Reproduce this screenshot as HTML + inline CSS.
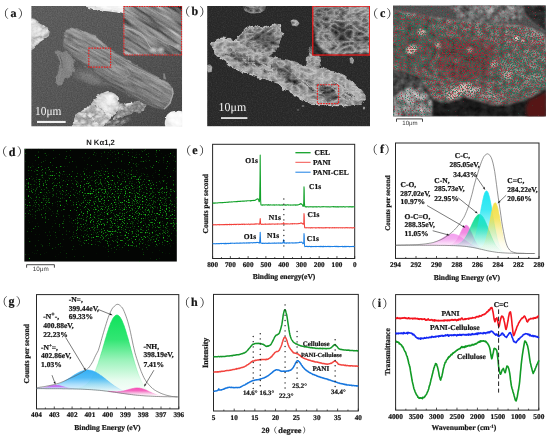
<!DOCTYPE html>
<html><head><meta charset="utf-8"><title>Figure</title><style>html,body{margin:0;padding:0;background:#fff}svg{display:block}text{text-rendering:geometricPrecision}</style></head><body>
<svg width="550" height="438" viewBox="0 0 550 438">
<rect width="550" height="438" fill="#fff"/>
<defs><linearGradient id="pk1" gradientUnits="userSpaceOnUse" x1="0" y1="233.99" x2="0" y2="250.27"><stop offset="0" stop-color="#f3a0ee"/><stop offset="0.3" stop-color="#f3a0ee" stop-opacity="0.86"/><stop offset="0.55" stop-color="#f3a0ee" stop-opacity="0.42"/><stop offset="0.8" stop-color="#f3a0ee" stop-opacity="0.1"/><stop offset="1" stop-color="#f3a0ee" stop-opacity="0"/></linearGradient>
<linearGradient id="pk2" gradientUnits="userSpaceOnUse" x1="0" y1="225.3" x2="0" y2="250.16"><stop offset="0" stop-color="#f07ade"/><stop offset="0.3" stop-color="#f07ade" stop-opacity="0.86"/><stop offset="0.55" stop-color="#f07ade" stop-opacity="0.42"/><stop offset="0.8" stop-color="#f07ade" stop-opacity="0.1"/><stop offset="1" stop-color="#f07ade" stop-opacity="0"/></linearGradient>
<linearGradient id="pk3" gradientUnits="userSpaceOnUse" x1="0" y1="214.36" x2="0" y2="253.17"><stop offset="0" stop-color="#0fdc96"/><stop offset="0.3" stop-color="#0fdc96" stop-opacity="0.86"/><stop offset="0.55" stop-color="#0fdc96" stop-opacity="0.42"/><stop offset="0.8" stop-color="#0fdc96" stop-opacity="0.1"/><stop offset="1" stop-color="#0fdc96" stop-opacity="0"/></linearGradient>
<linearGradient id="pk4" gradientUnits="userSpaceOnUse" x1="0" y1="190.96" x2="0" y2="253.13"><stop offset="0" stop-color="#1fe6f2"/><stop offset="0.3" stop-color="#1fe6f2" stop-opacity="0.86"/><stop offset="0.55" stop-color="#1fe6f2" stop-opacity="0.42"/><stop offset="0.8" stop-color="#1fe6f2" stop-opacity="0.1"/><stop offset="1" stop-color="#1fe6f2" stop-opacity="0"/></linearGradient>
<linearGradient id="pk5" gradientUnits="userSpaceOnUse" x1="0" y1="202.68" x2="0" y2="253.29"><stop offset="0" stop-color="#f3e04a"/><stop offset="0.3" stop-color="#f3e04a" stop-opacity="0.86"/><stop offset="0.55" stop-color="#f3e04a" stop-opacity="0.42"/><stop offset="0.8" stop-color="#f3e04a" stop-opacity="0.1"/><stop offset="1" stop-color="#f3e04a" stop-opacity="0"/></linearGradient>
<linearGradient id="pg3" gradientUnits="userSpaceOnUse" x1="0" y1="315.02" x2="0" y2="396.69"><stop offset="0" stop-color="#10e25c"/><stop offset="0.3" stop-color="#10e25c" stop-opacity="0.86"/><stop offset="0.55" stop-color="#10e25c" stop-opacity="0.42"/><stop offset="0.8" stop-color="#10e25c" stop-opacity="0.1"/><stop offset="1" stop-color="#10e25c" stop-opacity="0"/></linearGradient>
<linearGradient id="pg2" gradientUnits="userSpaceOnUse" x1="0" y1="370.09" x2="0" y2="395.78"><stop offset="0" stop-color="#34b0f6"/><stop offset="0.3" stop-color="#34b0f6" stop-opacity="0.86"/><stop offset="0.55" stop-color="#34b0f6" stop-opacity="0.42"/><stop offset="0.8" stop-color="#34b0f6" stop-opacity="0.1"/><stop offset="1" stop-color="#34b0f6" stop-opacity="0"/></linearGradient>
<linearGradient id="pg1" gradientUnits="userSpaceOnUse" x1="0" y1="385.3" x2="0" y2="388.97"><stop offset="0" stop-color="#c45af0"/><stop offset="0.3" stop-color="#c45af0" stop-opacity="0.86"/><stop offset="0.55" stop-color="#c45af0" stop-opacity="0.42"/><stop offset="0.8" stop-color="#c45af0" stop-opacity="0.1"/><stop offset="1" stop-color="#c45af0" stop-opacity="0"/></linearGradient>
<linearGradient id="pg4" gradientUnits="userSpaceOnUse" x1="0" y1="388.02" x2="0" y2="396.77"><stop offset="0" stop-color="#f54fb6"/><stop offset="0.3" stop-color="#f54fb6" stop-opacity="0.86"/><stop offset="0.55" stop-color="#f54fb6" stop-opacity="0.42"/><stop offset="0.8" stop-color="#f54fb6" stop-opacity="0.1"/><stop offset="1" stop-color="#f54fb6" stop-opacity="0"/></linearGradient><filter id="b03" x="-30%" y="-30%" width="160%" height="160%"><feGaussianBlur stdDeviation="0.3"/></filter>
<filter id="b05" x="-30%" y="-30%" width="160%" height="160%"><feGaussianBlur stdDeviation="0.5"/></filter>
<filter id="b08" x="-30%" y="-30%" width="160%" height="160%"><feGaussianBlur stdDeviation="0.8"/></filter>
<filter id="b1" x="-30%" y="-30%" width="160%" height="160%"><feGaussianBlur stdDeviation="1.0"/></filter>
<filter id="b15" x="-30%" y="-30%" width="160%" height="160%"><feGaussianBlur stdDeviation="1.5"/></filter>
<filter id="b2" x="-30%" y="-30%" width="160%" height="160%"><feGaussianBlur stdDeviation="2.0"/></filter>
<filter id="b3" x="-30%" y="-30%" width="160%" height="160%"><feGaussianBlur stdDeviation="3.0"/></filter>
<filter id="b5" x="-30%" y="-30%" width="160%" height="160%"><feGaussianBlur stdDeviation="5.0"/></filter>
<filter id="b8" x="-30%" y="-30%" width="160%" height="160%"><feGaussianBlur stdDeviation="8.0"/></filter>
<filter id="texA" x="0" y="0" width="100%" height="100%" color-interpolation-filters="sRGB">
<feTurbulence type="fractalNoise" baseFrequency="0.4" numOctaves="2" seed="4" result="n"/>
<feColorMatrix in="n" type="matrix" values="0.55 0 0 0 0.225 0.55 0 0 0 0.225 0.55 0 0 0 0.225 0 0 0 0 1" result="g"/>
<feBlend in="g" in2="SourceGraphic" mode="soft-light" result="o"/>
<feComposite in="o" in2="SourceGraphic" operator="in"/></filter>
<filter id="texB" x="0" y="0" width="100%" height="100%" color-interpolation-filters="sRGB">
<feTurbulence type="fractalNoise" baseFrequency="0.45" numOctaves="4" seed="9" result="n"/>
<feColorMatrix in="n" type="matrix" values="2.4 0 0 0 -0.7 2.4 0 0 0 -0.7 2.4 0 0 0 -0.7 0 0 0 0 1" result="g"/>
<feBlend in="g" in2="SourceGraphic" mode="overlay" result="o"/>
<feComposite in="o" in2="SourceGraphic" operator="in"/></filter>
<clipPath id="ca"><rect x="31.2" y="5.9" width="151.0" height="120.69999999999999"/></clipPath>
<linearGradient id="abg" x1="0" y1="0" x2="1" y2="1"><stop offset="0" stop-color="#5e5e5e"/><stop offset="0.5" stop-color="#565656"/><stop offset="1" stop-color="#464646"/></linearGradient>
<filter id="roughA" x="-5%" y="-5%" width="110%" height="110%" color-interpolation-filters="sRGB">
<feTurbulence type="fractalNoise" baseFrequency="0.16" numOctaves="3" seed="3" result="n"/>
<feDisplacementMap in="SourceGraphic" in2="n" scale="3.4" xChannelSelector="R" yChannelSelector="G" result="d"/><feGaussianBlur in="d" stdDeviation="0.45"/></filter>
<filter id="texF" x="0" y="0" width="100%" height="100%" color-interpolation-filters="sRGB">
<feTurbulence type="fractalNoise" baseFrequency="0.8" numOctaves="2" seed="4" result="n"/>
<feColorMatrix in="n" type="matrix" values="0.3 0 0 0 0.35 0.3 0 0 0 0.35 0.3 0 0 0 0.35 0 0 0 0 1" result="g"/>
<feBlend in="g" in2="SourceGraphic" mode="soft-light" result="o"/>
<feComposite in="o" in2="SourceGraphic" operator="in"/></filter>
<filter id="texR" x="0" y="0" width="100%" height="100%" color-interpolation-filters="sRGB">
<feTurbulence type="fractalNoise" baseFrequency="0.25" numOctaves="3" seed="14" result="n"/>
<feColorMatrix in="n" type="matrix" values="1.5 0 0 0 -0.25 1.5 0 0 0 -0.25 1.5 0 0 0 -0.25 0 0 0 0 1" result="g"/>
<feBlend in="g" in2="SourceGraphic" mode="overlay" result="o"/>
<feComposite in="o" in2="SourceGraphic" operator="in"/></filter>
<linearGradient id="rodg" gradientUnits="userSpaceOnUse" x1="128" y1="56" x2="110" y2="88"><stop offset="0" stop-color="#949494"/><stop offset="0.2" stop-color="#8a8a8a"/><stop offset="0.7" stop-color="#808080"/><stop offset="1" stop-color="#686868"/></linearGradient>
<filter id="texRod" x="-5%" y="-10%" width="110%" height="120%" color-interpolation-filters="sRGB">
<feTurbulence type="fractalNoise" baseFrequency="0.04 0.5" numOctaves="3" seed="6" result="n"/>
<feColorMatrix in="n" type="matrix" values="0.5 0 0 0 0.25 0.5 0 0 0 0.25 0.5 0 0 0 0.25 0 0 0 0 1" result="g"/>
<feTurbulence type="fractalNoise" baseFrequency="0.2" numOctaves="2" seed="3" result="n2"/>
<feDisplacementMap in="SourceGraphic" in2="n2" scale="2.6" xChannelSelector="R" yChannelSelector="G" result="d"/>
<feGaussianBlur in="d" stdDeviation="0.5" result="db"/>
<feBlend in="g" in2="db" mode="overlay" result="o"/>
<feComposite in="o" in2="db" operator="in"/></filter>
<linearGradient id="rodg2" gradientUnits="userSpaceOnUse" x1="0" y1="52" x2="0" y2="86"><stop offset="0" stop-color="#9a9a9a"/><stop offset="0.15" stop-color="#8c8c8c"/><stop offset="0.7" stop-color="#808080"/><stop offset="1" stop-color="#666"/></linearGradient>
<filter id="texBl" x="0" y="0" width="100%" height="100%" color-interpolation-filters="sRGB">
<feTurbulence type="turbulence" baseFrequency="0.12 0.16" numOctaves="2" seed="33" result="n"/>
<feColorMatrix in="n" type="matrix" values="0.8 0 0 0 0.38 0.8 0 0 0 0.38 0.8 0 0 0 0.38 0 0 0 0 1" result="g"/>
<feBlend in="g" in2="SourceGraphic" mode="overlay" result="o"/>
<feComposite in="o" in2="SourceGraphic" operator="in"/></filter>
<clipPath id="cai"><rect x="123.4" y="5.9" width="58.8" height="49.4"/></clipPath>
<filter id="texIn" x="0" y="0" width="100%" height="100%" color-interpolation-filters="sRGB">
<feTurbulence type="fractalNoise" baseFrequency="0.03 0.3" numOctaves="3" seed="12" result="n"/>
<feColorMatrix in="n" type="matrix" values="0.9 0 0 0 0.05 0.9 0 0 0 0.05 0.9 0 0 0 0.05 0 0 0 0 1" result="g"/>
<feBlend in="g" in2="SourceGraphic" mode="overlay" result="o"/>
<feComposite in="o" in2="SourceGraphic" operator="in"/></filter>
<clipPath id="cb"><rect x="207.1" y="5.9" width="162.9" height="120.6"/></clipPath>
<filter id="rough" x="-5%" y="-5%" width="110%" height="110%" color-interpolation-filters="sRGB">
<feTurbulence type="fractalNoise" baseFrequency="0.14" numOctaves="3" seed="11" result="n"/>
<feDisplacementMap in="SourceGraphic" in2="n" scale="6" xChannelSelector="R" yChannelSelector="G" result="d"/><feGaussianBlur in="d" stdDeviation="0.4"/></filter>
<filter id="texC" x="0" y="0" width="100%" height="100%" color-interpolation-filters="sRGB">
<feTurbulence type="turbulence" baseFrequency="0.13 0.19" numOctaves="3" seed="21" result="n"/>
<feColorMatrix in="n" type="matrix" values="-0.7 0 0 0 0.69 -0.7 0 0 0 0.69 -0.7 0 0 0 0.69 0 0 0 0 1" result="g"/>
<feBlend in="g" in2="SourceGraphic" mode="overlay" result="o"/>
<feComposite in="o" in2="SourceGraphic" operator="in"/></filter>
<clipPath id="cbi"><rect x="312.2" y="5.6" width="57.8" height="49.8"/></clipPath>
<clipPath id="cc"><rect x="393.0" y="5.3" width="153.0" height="111.10000000000001"/></clipPath>
<filter id="rdots" x="0" y="0" width="100%" height="100%" color-interpolation-filters="sRGB">
<feTurbulence type="fractalNoise" baseFrequency="0.71 0.77" numOctaves="2" seed="31" result="n"/>
<feColorMatrix in="n" type="matrix" values="0 0 0 0 0  0 0 0 0 0  0 0 0 0 0  0 1 0 0 0" result="c"/>
<feComposite in="c" in2="SourceGraphic" operator="arithmetic" k1="0" k2="1" k3="0.3" k4="0" result="m"/>
<feColorMatrix in="m" type="matrix" values="0 0 0 0 0.7  0 0 0 0 0.14  0 0 0 0 0.22  0 0 0 6 -4.590" result="q"/><feGaussianBlur in="q" stdDeviation="0.5"/></filter>
<filter id="gdots" x="0" y="0" width="100%" height="100%" color-interpolation-filters="sRGB">
<feTurbulence type="fractalNoise" baseFrequency="0.77 0.69" numOctaves="2" seed="47" result="n"/>
<feColorMatrix in="n" type="matrix" values="0 0 0 0 0  0 0 0 0 0  0 0 0 0 0  0 1 0 0 0" result="c"/>
<feComposite in="c" in2="SourceGraphic" operator="arithmetic" k1="0" k2="1" k3="0.3" k4="0" result="m"/>
<feColorMatrix in="m" type="matrix" values="0 0 0 0 0.08  0 0 0 0 0.48  0 0 0 0 0.36  0 0 0 6 -4.590" result="q"/><feGaussianBlur in="q" stdDeviation="0.5"/></filter>
<filter id="texD" x="0" y="0" width="100%" height="100%" color-interpolation-filters="sRGB">
<feTurbulence type="fractalNoise" baseFrequency="0.16" numOctaves="3" seed="15" result="n"/>
<feColorMatrix in="n" type="matrix" values="0.7 0 0 0 0.15 0.7 0 0 0 0.15 0.7 0 0 0 0.15 0 0 0 0 1" result="g"/>
<feBlend in="g" in2="SourceGraphic" mode="overlay" result="o"/>
<feComposite in="o" in2="SourceGraphic" operator="in"/></filter>
<clipPath id="cd"><rect x="24.2" y="148.4" width="152.70000000000002" height="113.29999999999998"/></clipPath>
<filter id="dots" x="0" y="0" width="100%" height="100%" color-interpolation-filters="sRGB">
<feTurbulence type="fractalNoise" baseFrequency="0.71 0.77" numOctaves="2" seed="8" result="n"/>
<feColorMatrix in="n" type="matrix" values="0 0 0 0 0  0 0 0 0 0  0 0 0 0 0  0 1 0 0 0" result="c"/>
<feComposite in="c" in2="SourceGraphic" operator="arithmetic" k1="0" k2="1" k3="0.22" k4="0" result="m"/>
<feColorMatrix in="m" type="matrix" values="0 0 0 0 0.1  0 0 0 0 0.76  0 0 0 0 0.1  0 0 0 4.6 -3.4" result="q"/><feGaussianBlur in="q" stdDeviation="0.32"/></filter></defs>
<g clip-path="url(#ca)"><g filter="url(#texF)">
<rect x="31.2" y="5.9" width="151.0" height="120.69999999999999" fill="url(#abg)"/>
<g filter="url(#roughA)">
<polygon points="71.8,70 80,68 89.3,68.4 98,74 108,80 110,86 98,86 86.4,83 74.7,78" fill="#666666" filter="url(#b08)"/>
<polygon points="78,73 88,72.5 97,78 102,83 92,83.6 82,79.6" fill="#787878" filter="url(#b08)"/>
<ellipse cx="90" cy="77" rx="2.4" ry="1.6" fill="#808080" filter="url(#b08)"/>
<ellipse cx="97" cy="81.6" rx="2" ry="1.4" fill="#7a7a7a" filter="url(#b08)"/>
<polygon points="55.7,51.6 58.6,50 62,52.6 66,51 70,55 74,60 75,66 73.4,71.6 71.8,70 72,76 69,79 66.7,77.1 64.6,80.6 62.3,83 59.6,86.6 57.4,86.4 55,84.4 56.6,77 58.7,69.8 59,62 57,57" fill="#828282" filter="url(#b05)"/>
<polygon points="64,55 70,58 72.6,65 70.6,72 67.4,70 66.8,62" fill="#8c8c8c" filter="url(#b08)"/>
<polyline points="57.6,84.4 59.6,77 61.6,69" fill="none" stroke="#8c8c8c" stroke-width="1.3" stroke-linecap="round" stroke-linejoin="round" filter="url(#b05)" opacity="0.9"/>
<polyline points="60,56 62,62 62.4,68" fill="none" stroke="#5c5c5c" stroke-width="0.9" stroke-linecap="round" stroke-linejoin="round" filter="url(#b05)" opacity="0.8"/>
</g>
<g transform="rotate(28 118.0 68.0)"><g filter="url(#texRod)">
<polygon points="54.1,60.3 55.4,56.7 58.3,54.2 64.6,52.7 73.2,51 81.2,50.2 96.4,53.4 107.8,55.8 125.1,56.7 143,57.4 162.6,57.2 169.2,57.3 175.6,60.1 178.9,64.1 181.1,74.6 178.9,82.5 172.4,85.1 161.5,86.3 146.2,87 134.6,87.3 124.3,86.9 110.3,85.9 99,83.6 87.6,81.2 76.2,78.9 66.8,78.2 63.2,77.4 59,74.2 56.1,67.5" fill="url(#rodg2)"/>
</g></g>
<polyline points="66,31 72,29.8 86,34.2 97,41 120,58.6 131,65.2 148,73.8 168,83.8" fill="none" stroke="#a2a2a2" stroke-width="1.0" stroke-linecap="round" stroke-linejoin="round" filter="url(#b05)" opacity="0.85"/>
<polyline points="66,40 80,45 100,59 125,75 150,88 169,96" fill="none" stroke="#8e8e8e" stroke-width="0.8" stroke-linecap="round" stroke-linejoin="round" filter="url(#b05)" opacity="0.7"/>
<polyline points="66,44 78,51 98,66 122,81 146,94 166,102" fill="none" stroke="#8a8a8a" stroke-width="0.7" stroke-linecap="round" stroke-linejoin="round" filter="url(#b05)" opacity="0.6"/>
<polyline points="70,36 86,42 104,55 128,70 152,83 170,91" fill="none" stroke="#6c6c6c" stroke-width="0.7" stroke-linecap="round" stroke-linejoin="round" filter="url(#b05)" opacity="0.6"/>
<polyline points="68,52 85,64.4 102.8,79 123.6,91.6 147.8,103.4 162,108" fill="none" stroke="#5e5e5e" stroke-width="1.2" stroke-linecap="round" stroke-linejoin="round" filter="url(#b05)" opacity="0.8"/>
<polyline points="104,62 112,60 118,66 126,68 130,75 122,78 112,74 106,68" fill="none" stroke="#9c9c9c" stroke-width="0.8" stroke-linecap="round" stroke-linejoin="round" filter="url(#b05)" opacity="0.85"/>
<polyline points="116,70 124,72 128,80 120,82" fill="none" stroke="#989898" stroke-width="0.7" stroke-linecap="round" stroke-linejoin="round" filter="url(#b05)" opacity="0.8"/>
<polyline points="172.2,88.4 173,93.2 170,103 164.6,108.6" fill="none" stroke="#a8a8a8" stroke-width="1.3" stroke-linecap="round" stroke-linejoin="round" filter="url(#b05)" opacity="0.95"/>
<polygon points="163.1,73.5 164.6,73.2 166.2,79.6 163.6,79" fill="#868686" filter="url(#b03)"/>
<ellipse cx="70" cy="38" rx="3" ry="4" fill="#6a6a6a" filter="url(#b1)" opacity="0.7" transform="rotate(20 70 38)"/>
<g filter="url(#texBl)"><g filter="url(#roughA)">
<polygon points="30,17.4 34.4,18.4 38.5,21.4 43.6,25.8 47,28.4 50,31.4 49,36 44,39.4 40,42 36.6,46 33,49.6 30,50.5" fill="#b0b0b0" filter="url(#b05)"/>
<polygon points="30,20 36.4,22.2 41.6,26.8 43.6,31.6 39.6,35.6 34,37.2 30,38.6" fill="#dedede" filter="url(#b08)"/>
<polygon points="30,38 36,39 37,43 34,47 30,48.6" fill="#c6c6c6" filter="url(#b05)"/>
<polygon points="84.2,5 124,5 124,14 116,12.4 108,11.5 98,10 90.8,8.6 86,6.8" fill="#dedede" filter="url(#b05)"/>
<polygon points="94,5 124,5 124,11 110,9.4 100,7.6" fill="#f2f2f2" filter="url(#b05)"/>
<polygon points="71.8,126 71.8,122.4 76.2,114.4 86.4,107.8 93.7,99 101,93.2 108,91 114,93 118.4,97 119.6,103 118.6,110 113,116 108.4,121 102,128 71,128" fill="#b6b6b6" filter="url(#b05)"/>
<polygon points="95,100 101,94.6 108,92.6 114,95 117.6,100 117.4,108 111,114.6 104,113 98,108" fill="#dcdcdc" filter="url(#b08)"/>
<ellipse cx="110" cy="100" rx="4" ry="3.4" fill="#f4f4f4" filter="url(#b1)"/>
<polygon points="78,116 88,110 96,109.6 100,116 94,122 84,125.4 75,124.6" fill="#a6a6a6" filter="url(#b08)"/>
<polyline points="92,103 99,108 106,114" fill="none" stroke="#8c8c8c" stroke-width="1.0" stroke-linecap="round" stroke-linejoin="round" filter="url(#b05)" opacity="0.8"/>
<polyline points="84,112.6 92,118 98,124" fill="none" stroke="#dcdcdc" stroke-width="1.0" stroke-linecap="round" stroke-linejoin="round" filter="url(#b05)" opacity="0.8"/>
<polygon points="118.6,104 126,102.6 140.5,100.5 145.6,104 144,110.7 133.2,113.6 118.6,118 108.4,121 104,128 112,120 118,111" fill="#8e8e8e" filter="url(#b05)"/>
<polyline points="120,104.4 134,102.4 143.6,104" fill="none" stroke="#a0a0a0" stroke-width="0.9" stroke-linecap="round" stroke-linejoin="round" filter="url(#b05)" opacity="0.85"/>
<polygon points="108,122 118,119.6 130.3,119.5 124,123 114,127 104,128" fill="#6c6c6c" filter="url(#b08)"/>
<polygon points="164.6,122 166.6,115 171,111.4 177,110.6 184,111.6 184,128 165.4,128" fill="#e8e8e8" filter="url(#b05)"/>
<polygon points="169,114.6 177,112.6 184,114 184,126 173,126 168.4,120" fill="#f8f8f8" filter="url(#b08)"/>
</g>
</g>
</g>
<g clip-path="url(#cai)"><g filter="url(#texF)">
<g transform="rotate(33 153 30)"><rect x="100" y="-20" width="110" height="100" fill="#808080" filter="url(#texIn)"/></g>
<polyline points="124,14 184,50" fill="none" stroke="#989898" stroke-width="3.5" stroke-linecap="round" stroke-linejoin="round" filter="url(#b1)" opacity="0.8"/>
<polyline points="138,5 186,34" fill="none" stroke="#949494" stroke-width="4" stroke-linecap="round" stroke-linejoin="round" filter="url(#b1)" opacity="0.8"/>
<polyline points="124,30 160,56" fill="none" stroke="#8c8c8c" stroke-width="3" stroke-linecap="round" stroke-linejoin="round" filter="url(#b1)" opacity="0.7"/>
<polyline points="150,5 186,24" fill="none" stroke="#686868" stroke-width="3" stroke-linecap="round" stroke-linejoin="round" filter="url(#b1)" opacity="0.8"/>
<polyline points="124,22 176,56" fill="none" stroke="#6a6a6a" stroke-width="2" stroke-linecap="round" stroke-linejoin="round" filter="url(#b1)" opacity="0.7"/>
<polyline points="130,8 186,44" fill="none" stroke="#6e6e6e" stroke-width="1.6" stroke-linecap="round" stroke-linejoin="round" filter="url(#b1)" opacity="0.7"/>
<polyline points="124,40 146,56" fill="none" stroke="#6c6c6c" stroke-width="3" stroke-linecap="round" stroke-linejoin="round" filter="url(#b1)" opacity="0.7"/>
<polyline points="124,28 134,30 142,34 146,40 150,47 156,52" fill="none" stroke="#b4b4b4" stroke-width="1.0" stroke-linecap="round" stroke-linejoin="round" filter="url(#b05)" opacity="0.9"/>
<polyline points="152,36 160,40 168,44 176,47" fill="none" stroke="#b0b0b0" stroke-width="0.9" stroke-linecap="round" stroke-linejoin="round" filter="url(#b05)" opacity="0.8"/>
<ellipse cx="153" cy="50" rx="3" ry="2" fill="#c8c8c8" filter="url(#b08)"/>
<ellipse cx="161" cy="49.5" rx="3" ry="2" fill="#c4c4c4" filter="url(#b08)"/>
<ellipse cx="178" cy="46" rx="2.4" ry="1.8" fill="#c0c0c0" filter="url(#b08)"/>
<polygon points="170,5 184,5 184,14 178,8" fill="#1c1c1c" filter="url(#b08)"/>
</g></g>
<rect x="123.9" y="6.4" width="57.8" height="48.6" fill="none" stroke="#f01818" stroke-width="1.1" stroke-dasharray="1.5 1"/>
<rect x="88.8" y="48.1" width="21.8" height="19" fill="none" stroke="#ec1c1c" stroke-width="1.1" stroke-dasharray="1.6 1.1"/>
<text x="35.1" y="114.5" font-size="12.2" textLength="26.4" lengthAdjust="spacingAndGlyphs" font-family="Liberation Serif, serif" fill="#f4f4f4">10μm</text>
<rect x="37" y="120.9" width="28.7" height="2.1" fill="#f0f0f0"/>
</g>
<g clip-path="url(#cb)">
<rect x="207.1" y="5.9" width="162.9" height="120.6" fill="#2b2b2b" filter="url(#texF)"/>
<g filter="url(#texC)"><g filter="url(#rough)">
<polygon points="236,42 237.5,37.2 243.6,31.8 249.8,25.6 256,24.6 262,26.6 266.8,27.2 273,24.6 280.7,25.4 283.4,34.9 279.6,45.7 273.6,54 266,58 255,56 244,51 238,47" fill="#8a8a8a" filter="url(#b05)"/>
<polygon points="211,45 216,39.7 223,37.6 230,38 238.5,43 250,49 264.5,54.6 273.3,57.6 288.6,59.6 300.9,64.6 311,67.4 318,66 326,68.6 335,71.8 345,77 353,83 360,89 365.6,95 366,99.4 361.6,103.4 350,105.6 335,106 317,104 305.3,102.4 296.5,96.5 286.4,90.7 279,83.5 264.5,79 250,74.7 240,70.4 233.4,67.4 223,60.4 214.4,53.5" fill="#a0a0a0" filter="url(#b05)"/>
<polygon points="306,68 307,58 308.6,51 311,47 313.6,50 315,56 316.6,50 318.6,49 319.6,58 321,68" fill="#969696" filter="url(#b05)"/>
<polygon points="252,34 262,31 272,34 276,42 268,48 258,44" fill="#565656" filter="url(#b1)"/>
<polygon points="226,50 240,53 256,60 262,66 250,66 236,61" fill="#5e5e5e" filter="url(#b1)"/>
<polygon points="270,62 284,66 296,76 300,86 290,84 278,74" fill="#686868" filter="url(#b1)"/>
<polygon points="320,86 334,88 338,98 328,102 319,96" fill="#5a5a5a" filter="url(#b1)"/>
<polygon points="212,45 217,40.5 224,39 231,40 238,45 232,50 222,52 215,50" fill="#a8a8a8" filter="url(#b1)"/>
<polygon points="300,67 312,69.5 326,71 340,76 352,84 346,90 330,85 316,79 304,73" fill="#b0b0b0" filter="url(#b1)"/>
<polygon points="334,76 348,81 359,90 364.6,97 360,102 348,98 340,90" fill="#aaaaaa" filter="url(#b1)"/>
<polyline points="302.1,80.4 306.7,87.5" fill="none" stroke="#c4c4c4" stroke-width="0.8" stroke-linecap="round" stroke-linejoin="round" filter="url(#b05)" opacity="0.75"/>
<polyline points="330.5,83.8 335.3,84.5" fill="none" stroke="#5a5a5a" stroke-width="1.0" stroke-linecap="round" stroke-linejoin="round" filter="url(#b05)" opacity="0.75"/>
<polyline points="330.2,81.4 338.2,84.1" fill="none" stroke="#626262" stroke-width="1.0" stroke-linecap="round" stroke-linejoin="round" filter="url(#b05)" opacity="0.75"/>
<polyline points="246.4,54.8 249.4,58" fill="none" stroke="#c4c4c4" stroke-width="1.3" stroke-linecap="round" stroke-linejoin="round" filter="url(#b05)" opacity="0.75"/>
<polyline points="273.3,78.6 281.9,79.4" fill="none" stroke="#acacac" stroke-width="0.8" stroke-linecap="round" stroke-linejoin="round" filter="url(#b05)" opacity="0.75"/>
<polyline points="260.4,62.3 264.3,65.8" fill="none" stroke="#4e4e4e" stroke-width="0.8" stroke-linecap="round" stroke-linejoin="round" filter="url(#b05)" opacity="0.75"/>
<polyline points="347.7,89.8 352.3,91.9" fill="none" stroke="#acacac" stroke-width="1.0" stroke-linecap="round" stroke-linejoin="round" filter="url(#b05)" opacity="0.75"/>
<polyline points="225.3,54.5 233.3,55.2" fill="none" stroke="#5a5a5a" stroke-width="0.8" stroke-linecap="round" stroke-linejoin="round" filter="url(#b05)" opacity="0.75"/>
<polyline points="261,62.6 267.4,65.2" fill="none" stroke="#4e4e4e" stroke-width="0.8" stroke-linecap="round" stroke-linejoin="round" filter="url(#b05)" opacity="0.75"/>
<polyline points="229.1,40.8 235.4,47.3" fill="none" stroke="#b8b8b8" stroke-width="1.3" stroke-linecap="round" stroke-linejoin="round" filter="url(#b05)" opacity="0.75"/>
<polyline points="321.5,87.4 325.7,87.9" fill="none" stroke="#acacac" stroke-width="1.3" stroke-linecap="round" stroke-linejoin="round" filter="url(#b05)" opacity="0.75"/>
<polyline points="341.7,94.5 347,102.5" fill="none" stroke="#5a5a5a" stroke-width="1.3" stroke-linecap="round" stroke-linejoin="round" filter="url(#b05)" opacity="0.75"/>
<polyline points="264.1,70.5 272.4,72.1" fill="none" stroke="#5a5a5a" stroke-width="1.0" stroke-linecap="round" stroke-linejoin="round" filter="url(#b05)" opacity="0.75"/>
<polyline points="225.9,42.8 232.9,45.9" fill="none" stroke="#acacac" stroke-width="1.0" stroke-linecap="round" stroke-linejoin="round" filter="url(#b05)" opacity="0.75"/>
<polyline points="256.9,53.4 261.2,57.3" fill="none" stroke="#b8b8b8" stroke-width="1.3" stroke-linecap="round" stroke-linejoin="round" filter="url(#b05)" opacity="0.75"/>
<polyline points="240.4,65.3 244.6,66.3" fill="none" stroke="#c4c4c4" stroke-width="1.3" stroke-linecap="round" stroke-linejoin="round" filter="url(#b05)" opacity="0.75"/>
<polyline points="336.7,95.7 341.8,97.9" fill="none" stroke="#4e4e4e" stroke-width="1.0" stroke-linecap="round" stroke-linejoin="round" filter="url(#b05)" opacity="0.75"/>
<polyline points="241.8,56.9 245.8,61.5" fill="none" stroke="#acacac" stroke-width="0.8" stroke-linecap="round" stroke-linejoin="round" filter="url(#b05)" opacity="0.75"/>
<polyline points="348.1,85.9 351.8,91.2" fill="none" stroke="#acacac" stroke-width="1.0" stroke-linecap="round" stroke-linejoin="round" filter="url(#b05)" opacity="0.75"/>
<polyline points="263.2,64.7 272.5,66.8" fill="none" stroke="#c4c4c4" stroke-width="0.8" stroke-linecap="round" stroke-linejoin="round" filter="url(#b05)" opacity="0.75"/>
<polyline points="346.2,92.2 351,97.1" fill="none" stroke="#5a5a5a" stroke-width="1.0" stroke-linecap="round" stroke-linejoin="round" filter="url(#b05)" opacity="0.75"/>
<polyline points="269.9,62.2 274.9,70.6" fill="none" stroke="#4e4e4e" stroke-width="1.0" stroke-linecap="round" stroke-linejoin="round" filter="url(#b05)" opacity="0.75"/>
<polyline points="329.8,87.8 335.9,91.8" fill="none" stroke="#c4c4c4" stroke-width="1.0" stroke-linecap="round" stroke-linejoin="round" filter="url(#b05)" opacity="0.75"/>
<polyline points="230.3,49 233.6,51.6" fill="none" stroke="#5a5a5a" stroke-width="1.0" stroke-linecap="round" stroke-linejoin="round" filter="url(#b05)" opacity="0.75"/>
<polyline points="291.1,80.1 300.4,83.4" fill="none" stroke="#4e4e4e" stroke-width="1.0" stroke-linecap="round" stroke-linejoin="round" filter="url(#b05)" opacity="0.75"/>
<polyline points="343.3,85.5 347.5,90.9" fill="none" stroke="#5a5a5a" stroke-width="1.0" stroke-linecap="round" stroke-linejoin="round" filter="url(#b05)" opacity="0.75"/>
<polyline points="305.8,83.7 312.4,89.5" fill="none" stroke="#5a5a5a" stroke-width="1.0" stroke-linecap="round" stroke-linejoin="round" filter="url(#b05)" opacity="0.75"/>
<polyline points="303,83.7 311.3,87.4" fill="none" stroke="#4e4e4e" stroke-width="1.0" stroke-linecap="round" stroke-linejoin="round" filter="url(#b05)" opacity="0.75"/>
<polyline points="349.6,93.8 353.7,96.6" fill="none" stroke="#5a5a5a" stroke-width="1.0" stroke-linecap="round" stroke-linejoin="round" filter="url(#b05)" opacity="0.75"/>
<polyline points="252.8,64.3 259.6,67.9" fill="none" stroke="#c4c4c4" stroke-width="1.3" stroke-linecap="round" stroke-linejoin="round" filter="url(#b05)" opacity="0.75"/>
<polyline points="305.4,80 310.7,85.7" fill="none" stroke="#4e4e4e" stroke-width="0.8" stroke-linecap="round" stroke-linejoin="round" filter="url(#b05)" opacity="0.75"/>
<polyline points="243.8,60.1 252.1,62.3" fill="none" stroke="#acacac" stroke-width="1.3" stroke-linecap="round" stroke-linejoin="round" filter="url(#b05)" opacity="0.75"/>
<polyline points="313.8,90.5 322.9,92.8" fill="none" stroke="#b8b8b8" stroke-width="1.0" stroke-linecap="round" stroke-linejoin="round" filter="url(#b05)" opacity="0.75"/>
<polyline points="345,94 350.4,96.8" fill="none" stroke="#4e4e4e" stroke-width="1.3" stroke-linecap="round" stroke-linejoin="round" filter="url(#b05)" opacity="0.75"/>
<polyline points="214.4,53.5 223,60.4 233.4,67.4 240,70.4 250,74.7 264.5,79 279,83.5 286.4,90.7 296.5,96.5 305.3,102.4 317,104 332,105.6 348,105.6" fill="none" stroke="#cacaca" stroke-width="1.3" stroke-linecap="round" stroke-linejoin="round" filter="url(#b05)" opacity="0.9"/>
<polyline points="211.4,45 216,40.4 223,38.4 230,38.8 238.5,43.6" fill="none" stroke="#c0c0c0" stroke-width="1.1" stroke-linecap="round" stroke-linejoin="round" filter="url(#b05)" opacity="0.85"/>
<polyline points="238,37.4 244,32 250,26 256,25 262,27 267,27.6 273,25 280.4,25.8 283,34.9" fill="none" stroke="#c4c4c4" stroke-width="1.1" stroke-linecap="round" stroke-linejoin="round" filter="url(#b05)" opacity="0.85"/>
<polyline points="250,49.6 264.5,55.2 273.3,58.2 288.6,60.4 300.9,65.4" fill="none" stroke="#a4a4a4" stroke-width="1.0" stroke-linecap="round" stroke-linejoin="round" filter="url(#b05)" opacity="0.7"/>
<polyline points="310,66 311,54" fill="none" stroke="#b8b8b8" stroke-width="0.9" stroke-linecap="round" stroke-linejoin="round" filter="url(#b05)"/>
</g>
<polygon points="242,5 266,5 265,10 260,13 251,13.6 245,11" fill="#767676" filter="url(#b05)"/>
<polygon points="290.5,21 293,19 297,20 299.5,23.5 297,26.4 292,25.6" fill="#a0a0a0" filter="url(#b05)"/>
<polygon points="207,65 210,64 212.4,67 211.6,72 208,72.6 206.8,70" fill="#8e8e8e" filter="url(#b05)"/>
<polygon points="349.5,58 352,57 354,60 353,64 350,63" fill="#9a9a9a" filter="url(#b05)"/>
<ellipse cx="345" cy="107" rx="1.2" ry="1" fill="#6e6e6e" filter="url(#b05)"/>
<ellipse cx="303" cy="106" rx="1.3" ry="1" fill="#555" filter="url(#b05)"/>
<ellipse cx="298" cy="110" rx="1.2" ry="1" fill="#4e4e4e" filter="url(#b05)"/>
<ellipse cx="364" cy="108" rx="1.2" ry="1.6" fill="#888" filter="url(#b05)"/>
</g>
<g clip-path="url(#cbi)"><g filter="url(#texC)">
<rect x="312" y="5" width="59" height="51" fill="#868686"/>
<polygon points="312,5 340,5 332,14 322,24 316,34 312,40" fill="#6c6c6c" filter="url(#b3)"/>
<polygon points="340,5 371,5 371,16 356,12" fill="#a6a6a6" filter="url(#b2)"/>
<polygon points="330,28 342,24 352,30 350,40 338,42 332,36" fill="#555" filter="url(#b2)"/>
<polygon points="352,36 364,34 370,40 366,46 356,45" fill="#666" filter="url(#b2)"/>
<polygon points="312,26 316,32 319,42 325,50 334,56 312,56" fill="#2a2a2a" filter="url(#b1)"/>
<polygon points="316,30 320,42 327,50 338,53 352,52 371,49 371,53 352,56 330,56 322,50 316,40" fill="#b4b4b4" filter="url(#b1)"/>
<polygon points="330,54.5 371,52.5 371,56 330,56" fill="#3a3a3a" filter="url(#b08)"/>
</g></g>
<rect x="312.8" y="6.1" width="56.8" height="48.9" fill="none" stroke="#f01414" stroke-width="1.2"/>
<rect x="317.4" y="84.7" width="21.2" height="18.9" fill="none" stroke="#ee1c1c" stroke-width="1.1" stroke-dasharray="1.6 1.1"/>
<text x="218.6" y="111.2" font-size="12.2" textLength="27.6" lengthAdjust="spacingAndGlyphs" font-family="Liberation Serif, serif" fill="#f4f4f4">10μm</text>
<rect x="221" y="117.2" width="26.4" height="1.7" fill="#f0f0f0"/>
</g>
<g clip-path="url(#cc)">
<rect x="393.0" y="5.3" width="153.0" height="111.10000000000001" fill="#505050" filter="url(#texF)"/>
<g filter="url(#texD)">
<polygon points="450,5 522,5 524,14 520,22 508,23 492,22 474,21 460,19 452,13" fill="#686868" filter="url(#b1)"/>
<polygon points="474,5 494,5 495,11 487,15 478,12" fill="#8c8c8c" filter="url(#b1)"/>
<polygon points="498,7 512,5.6 519,12 512,20 502,17" fill="#828282" filter="url(#b15)"/>
<polygon points="521,5 546,5 546,32 536,25 527,17" fill="#2a2a2a" filter="url(#b1)"/>
<polygon points="393,10.4 408,13 424,16 440,18.5 456,20.4 465,21.4 480,23 490,23.6 505,24.4 520,25.5 534,30 546,36 546,88 538,94 527,99 514,103 506,105 492,105 480,101 464,97 456,100 448,102 440,101.6 432,98.4 425.6,88.8 420.8,79 408,73.6 393,70" fill="#6a6a6a" filter="url(#b08)"/>
<polygon points="393,14 430,20 444,40 440,66 420,76 393,68" fill="#585858" filter="url(#b5)" opacity="0.8"/>
<polyline points="393,11 408,13.6 424,16.6 440,19.1 465,22 490,24.2 520,26.1 534,30.6 546,36.6" fill="none" stroke="#8a8a8a" stroke-width="1.4" stroke-linecap="round" stroke-linejoin="round" filter="url(#b08)" opacity="0.8"/>
<polygon points="436,46 452,40 470,40 486,44 494,54 490,68 478,78 460,80 446,74 438,62" fill="#4c4c4c" filter="url(#b3)"/>
<polygon points="404,42 420,46 430,58 426,68 412,68 400,58" fill="#5a5a5a" filter="url(#b3)"/>
<polygon points="520,27 534,31 546,37 546,52 534,46 522,38" fill="#848484" filter="url(#b2)" opacity="0.9"/>
<polygon points="500,56 530,52 546,58 546,86 530,92 512,90 500,74" fill="#828282" filter="url(#b3)" opacity="0.8"/>
<polygon points="436,84 470,86 500,92 506,104 480,101 464,97 448,101" fill="#8a8a8a" filter="url(#b3)" opacity="0.8"/>
<ellipse cx="411.6" cy="50" rx="5" ry="3.6" fill="#c4b4ae" filter="url(#b1)" transform="rotate(-20 411.6 50)"/>
<ellipse cx="421.6" cy="32" rx="3.8" ry="2.8" fill="#b8aaa4" filter="url(#b1)"/>
<ellipse cx="438.4" cy="45" rx="2.6" ry="3" fill="#b0a29c" filter="url(#b1)"/>
<ellipse cx="437" cy="56" rx="2.4" ry="3.4" fill="#a89a94" filter="url(#b1)"/>
<ellipse cx="516.5" cy="38" rx="2.6" ry="2.2" fill="#e4e4e4" filter="url(#b08)"/>
<ellipse cx="523" cy="41" rx="1.6" ry="2" fill="#d6d6d6" filter="url(#b08)"/>
<ellipse cx="506" cy="33" rx="2.4" ry="2" fill="#b4b4b4" filter="url(#b1)"/>
<polygon points="446,97 454,89 464,84 472,83 470,88 460,94 452,100" fill="#c4c4c4" filter="url(#b1)"/>
<polygon points="462,92 474,86 482,88 476,94 466,97" fill="#b0b0b0" filter="url(#b1)"/>
<ellipse cx="470" cy="50" rx="3" ry="2.4" fill="#a4a4a4" filter="url(#b1)"/>
<ellipse cx="494" cy="64" rx="3.4" ry="3" fill="#acacac" filter="url(#b1)"/>
<ellipse cx="508" cy="74" rx="5" ry="4" fill="#a0a0a0" filter="url(#b15)"/>
<ellipse cx="482" cy="34" rx="3" ry="2.2" fill="#a4a4a4" filter="url(#b1)"/>
<ellipse cx="455" cy="62" rx="3" ry="2.4" fill="#8a8a8a" filter="url(#b1)"/>
<polygon points="393,70 408,73.6 420.8,79 425.6,88.8 432,98.4 440,101.6 448,102 456,100 464,97 480,101 492,105 506,105 514,103 527,99 538,94 546,88 546,117 393,117" fill="#1d1d1d" filter="url(#b08)"/>
<polygon points="393,70 408,73.6 420.8,79 425.6,88.8 428,94 422,88.4 412.8,86.4 404,89 398,92 393,96.8" fill="#474747" filter="url(#b08)"/>
<polygon points="393,96.8 398,92 404,89 412.8,86.4 422,88.4 428,94 432,101.6 432.8,117 393,117" fill="#828282" filter="url(#b08)"/>
<polygon points="398,96 406,91 415,90 421,94 417,101 406,103" fill="#a4a4a4" filter="url(#b15)"/>
</g>
<polygon points="529,100 538,96 546,92 546,117 527,117 526,108" fill="#561212" filter="url(#b15)"/>
<polygon points="393,10.4 408,13 424,16 440,18.5 456,20.4 465,21.4 480,23 490,23.6 505,24.4 520,25.5 534,30 546,36 546,88 538,94 527,99 514,103 506,105 492,105 480,101 464,97 456,100 448,102 440,101.6 432,98.4 425.6,88.8 420.8,79 408,73.6 393,70" fill="#94584c" filter="url(#b15)" opacity="0.16"/>
<polygon points="393,14 430,20 446,38 438,60 416,72 393,66" fill="#1e5a48" filter="url(#b5)" opacity="0.16"/>
<polygon points="432,46 452,38 474,38 490,44 498,56 492,70 478,80 458,82 442,75 434,60" fill="#7a2226" filter="url(#b5)" opacity="0.3"/>
<polygon points="500,50 546,54 546,88 526,96 504,94 496,70" fill="#2a8060" filter="url(#b5)" opacity="0.16"/>
<ellipse cx="411.6" cy="50" rx="5.6" ry="3.8" fill="#e2c4ba" filter="url(#b1)" opacity="0.9" transform="rotate(-20 411.6 50)"/>
<ellipse cx="421.6" cy="32" rx="4" ry="3" fill="#d2b4aa" filter="url(#b1)" opacity="0.85"/>
<ellipse cx="438.4" cy="45" rx="2.6" ry="3" fill="#c4a89e" filter="url(#b1)" opacity="0.8"/>
<ellipse cx="516.5" cy="38" rx="2.4" ry="2" fill="#ecd4ca" filter="url(#b08)"/>
<ellipse cx="523" cy="41" rx="1.6" ry="2" fill="#dcc0b6" filter="url(#b08)"/>
<polygon points="446,97 454,89 464,84 472,83 470,88 460,94 452,100" fill="#d8c0b8" filter="url(#b1)" opacity="0.9"/>
<ellipse cx="494" cy="64" rx="3.4" ry="3" fill="#c8b0a8" filter="url(#b1)" opacity="0.8"/>
<ellipse cx="508" cy="74" rx="5" ry="4" fill="#c0aaa2" filter="url(#b15)" opacity="0.8"/>
<ellipse cx="470" cy="50" rx="3" ry="2.4" fill="#c0a8a0" filter="url(#b1)" opacity="0.8"/>
<g filter="url(#rdots)" opacity="0.85">
<polygon points="393,10.4 408,13 424,16 440,18.5 456,20.4 465,21.4 480,23 490,23.6 505,24.4 520,25.5 534,30 546,36 546,88 538,94 527,99 514,103 506,105 492,105 480,101 464,97 456,100 448,102 440,101.6 432,98.4 425.6,88.8 420.8,79 408,73.6 393,70" fill="#fff" filter="url(#b15)" opacity="0.9"/>
<polygon points="430,44 452,36 474,36 492,42 500,56 494,72 478,82 456,84 440,76 432,60" fill="#fff" filter="url(#b3)" opacity="0.8"/>
<polygon points="393,96.8 404,89 412.8,86.4 422,88.4 432,101.6 432.8,117 393,117" fill="#fff" filter="url(#b15)" opacity="0.6"/>
<polygon points="393,5 546,5 546,36 520,25.5 480,23 440,18.5 393,10.4" fill="#fff" filter="url(#b1)" opacity="0.35"/>
</g>
<g filter="url(#gdots)" opacity="0.8">
<polygon points="393,10.4 408,13 424,16 440,18.5 456,20.4 465,21.4 480,23 490,23.6 505,24.4 520,25.5 534,30 546,36 546,88 538,94 527,99 514,103 506,105 492,105 480,101 464,97 456,100 448,102 440,101.6 432,98.4 425.6,88.8 420.8,79 408,73.6 393,70" fill="#fff" filter="url(#b15)" opacity="0.88"/>
<polygon points="496,44 546,52 546,90 524,98 500,96 492,70" fill="#fff" filter="url(#b5)" opacity="0.5"/>
<polygon points="393,14 440,22 470,30 440,40 410,36 393,32" fill="#fff" filter="url(#b3)" opacity="0.4"/>
<polygon points="393,96.8 404,89 412.8,86.4 422,88.4 432,101.6 432.8,117 393,117" fill="#fff" filter="url(#b15)" opacity="0.6"/>
<polygon points="393,5 546,5 546,36 520,25.5 480,23 440,18.5 393,10.4" fill="#fff" filter="url(#b1)" opacity="0.3"/>
</g>
</g>
<path d="M396.5 121.8V118.9H422.5V121.8" fill="none" stroke="#333" stroke-width="0.9"/>
<text x="410" y="125" font-size="6.1" text-anchor="middle" font-family="Liberation Sans, sans-serif" fill="#3a3a3a">10μm</text>
<g clip-path="url(#cd)">
<rect x="24.2" y="148.4" width="152.70000000000002" height="113.29999999999998" fill="#030503"/>
<g filter="url(#dots)">
<polygon points="24,148 177,148 177,246 120,248 74,247 66,240 60,262 24,262" fill="#fff" filter="url(#b2)" opacity="0.24"/>
<polygon points="24,170 44,166 62,172 70,190 66,210 50,218 24,218" fill="#fff" filter="url(#b5)" opacity="0.55"/>
<polygon points="70,176 100,168 140,172 177,186 177,240 150,246 110,247 84,244 72,232 76,206" fill="#fff" filter="url(#b5)" opacity="0.62"/>
<polygon points="84,190 120,184 160,192 177,204 177,236 150,242 110,242 88,230" fill="#fff" filter="url(#b8)" opacity="0.4"/>
<polygon points="110,148 177,148 177,170 140,166" fill="#fff" filter="url(#b5)" opacity="0.25"/>
</g></g>
<text x="100.5" y="144.5" font-size="7.7" text-anchor="middle" font-family="Liberation Sans, sans-serif" font-weight="bold" fill="#222">N Kα1,2</text>
<path d="M26.6 267.7V264.7H54.4V267.7" fill="none" stroke="#333" stroke-width="0.9"/>
<text x="40.8" y="271" font-size="6.3" text-anchor="middle" font-family="Liberation Sans, sans-serif" fill="#3a3a3a">10μm</text>

<rect x="212.6" y="144.3" width="142.1" height="114.2" fill="#fff" stroke="#262626" stroke-width="1.0"/>
<path d="M212.6 258.5v-2.4M230.36 258.5v-2.4M248.12 258.5v-2.4M265.89 258.5v-2.4M283.65 258.5v-2.4M301.41 258.5v-2.4M319.18 258.5v-2.4M336.94 258.5v-2.4M354.7 258.5v-2.4M221.48 258.5v-1.4M239.24 258.5v-1.4M257.01 258.5v-1.4M274.77 258.5v-1.4M292.53 258.5v-1.4M310.29 258.5v-1.4M328.06 258.5v-1.4M345.82 258.5v-1.4" stroke="#262626" stroke-width="0.8" fill="none"/>
<text x="212.6" y="267.1" font-size="7.2" text-anchor="middle" font-family="Liberation Serif, serif" font-weight="bold" stroke="#161616" stroke-width="0.22" fill="#161616" >800</text>
<text x="230.36" y="267.1" font-size="7.2" text-anchor="middle" font-family="Liberation Serif, serif" font-weight="bold" stroke="#161616" stroke-width="0.22" fill="#161616" >700</text>
<text x="248.12" y="267.1" font-size="7.2" text-anchor="middle" font-family="Liberation Serif, serif" font-weight="bold" stroke="#161616" stroke-width="0.22" fill="#161616" >600</text>
<text x="265.89" y="267.1" font-size="7.2" text-anchor="middle" font-family="Liberation Serif, serif" font-weight="bold" stroke="#161616" stroke-width="0.22" fill="#161616" >500</text>
<text x="283.65" y="267.1" font-size="7.2" text-anchor="middle" font-family="Liberation Serif, serif" font-weight="bold" stroke="#161616" stroke-width="0.22" fill="#161616" >400</text>
<text x="301.41" y="267.1" font-size="7.2" text-anchor="middle" font-family="Liberation Serif, serif" font-weight="bold" stroke="#161616" stroke-width="0.22" fill="#161616" >300</text>
<text x="319.18" y="267.1" font-size="7.2" text-anchor="middle" font-family="Liberation Serif, serif" font-weight="bold" stroke="#161616" stroke-width="0.22" fill="#161616" >200</text>
<text x="336.94" y="267.1" font-size="7.2" text-anchor="middle" font-family="Liberation Serif, serif" font-weight="bold" stroke="#161616" stroke-width="0.22" fill="#161616" >100</text>
<text x="354.7" y="267.1" font-size="7.2" text-anchor="middle" font-family="Liberation Serif, serif" font-weight="bold" stroke="#161616" stroke-width="0.22" fill="#161616" >0</text>
<path d="M212.6 203.4 L212.8 203.1 L213 203.1 L213.3 203 L213.5 203.2 L213.7 202.9 L213.9 203.3 L214.2 203 L214.4 203.1 L214.6 203 L214.8 203.2 L215 202.8 L215.3 203 L215.5 203 L215.7 203.1 L215.9 202.9 L216.2 202.9 L216.4 202.9 L216.6 202.9 L216.8 203 L217 202.8 L217.3 203 L217.5 203 L217.7 202.9 L217.9 202.9 L218.2 202.8 L218.4 202.8 L218.6 202.7 L218.8 202.8 L219 202.8 L219.3 202.7 L219.5 202.7 L219.7 202.6 L219.9 202.6 L220.2 202.6 L220.4 202.7 L220.6 202.5 L220.8 202.7 L221.1 202.8 L221.3 202.7 L221.5 202.6 L221.7 202.5 L221.9 202.5 L222.2 202.7 L222.4 202.5 L222.6 202.5 L222.8 202.5 L223.1 202.7 L223.3 202.5 L223.5 202.5 L223.7 202.5 L223.9 202.4 L224.2 202.3 L224.4 202.4 L224.6 202.4 L224.8 202.4 L225.1 202.4 L225.3 202.4 L225.5 202.4 L225.7 202.4 L225.9 202.2 L226.2 202.4 L226.4 202.3 L226.6 202.2 L226.8 202.3 L227.1 202.2 L227.3 202.3 L227.5 202.3 L227.7 202.4 L227.9 202 L228.2 202 L228.4 202.1 L228.6 202.1 L228.8 202.2 L229.1 202.1 L229.3 201.9 L229.5 202 L229.7 202.1 L229.9 202 L230.2 202.1 L230.4 202 L230.6 202 L230.8 202 L231.1 202 L231.3 202 L231.5 201.9 L231.7 201.8 L231.9 201.9 L232.2 201.9 L232.4 202 L232.6 202 L232.8 201.8 L233.1 201.8 L233.3 201.7 L233.5 201.8 L233.7 201.8 L233.9 201.7 L234.2 201.7 L234.4 201.7 L234.6 201.8 L234.8 201.6 L235.1 201.8 L235.3 201.7 L235.5 201.7 L235.7 201.5 L235.9 201.6 L236.2 201.7 L236.4 201.5 L236.6 201.5 L236.8 201.6 L237.1 201.4 L237.3 201.6 L237.5 201.6 L237.7 201.4 L238 201.5 L238.2 201.3 L238.4 201.4 L238.6 201.3 L238.8 201.5 L239.1 201.4 L239.3 201.4 L239.5 201.3 L239.7 201.5 L240 201.5 L240.2 201.1 L240.4 201.4 L240.6 201.5 L240.8 201.3 L241.1 201.2 L241.3 201.3 L241.5 201.2 L241.7 201.2 L242 201.1 L242.2 201.3 L242.4 201.3 L242.6 201.1 L242.8 201.2 L243.1 201 L243.3 201.2 L243.5 201.1 L243.7 201.1 L244 201.1 L244.2 201.1 L244.4 201.1 L244.6 201.1 L244.8 201 L245.1 201 L245.3 201 L245.5 201 L245.7 201 L246 200.9 L246.2 200.7 L246.4 201 L246.6 201.1 L246.8 200.9 L247.1 200.9 L247.3 200.8 L247.5 200.8 L247.7 200.8 L248 200.7 L248.2 200.7 L248.4 200.7 L248.6 200.8 L248.8 200.7 L249.1 200.8 L249.3 200.7 L249.5 200.8 L249.7 200.7 L250 200.9 L250.2 200.5 L250.4 200.6 L250.6 200.7 L250.8 200.9 L251.1 200.6 L251.3 200.6 L251.5 200.5 L251.7 200.7 L252 200.5 L252.2 200.6 L252.4 200.5 L252.6 200.4 L252.9 200.5 L253.1 200.5 L253.3 200.6 L253.5 200.4 L253.7 200.3 L254 200.4 L254.2 200.4 L254.4 200.4 L254.6 200.3 L254.9 200.4 L255.1 200.2 L255.3 200.3 L255.5 200.1 L255.7 199.9 L256 199.6 L256.2 199.6 L256.4 199.4 L256.6 199.3 L256.9 199.1 L257.1 198.9 L257.3 199 L257.5 198.8 L257.7 199.1 L258 198.9 L258.2 199 L258.4 199.4 L258.6 200 L258.9 200.8 L259.1 201.8 L259.3 201.8 L259.5 201.1 L259.7 196.9 L260 179.6 L260.2 155.1 L260.4 175.3 L260.6 199.5 L260.9 204.6 L261.1 205 L261.3 204.9 L261.5 205.1 L261.7 205 L262 205.1 L262.2 204.9 L262.4 204.8 L262.6 205.2 L262.9 204.9 L263.1 204.9 L263.3 204.8 L263.5 204.9 L263.7 204.9 L264 204.9 L264.2 205 L264.4 205.1 L264.6 204.9 L264.9 204.8 L265.1 204.8 L265.3 204.8 L265.5 204.7 L265.7 205 L266 204.9 L266.2 204.9 L266.4 204.9 L266.6 204.8 L266.9 204.8 L267.1 205 L267.3 205 L267.5 204.9 L267.7 205.1 L268 204.8 L268.2 204.9 L268.4 204.9 L268.6 204.6 L268.9 205.1 L269.1 205 L269.3 204.8 L269.5 205.1 L269.8 205 L270 205 L270.2 204.9 L270.4 204.9 L270.6 204.8 L270.9 205 L271.1 204.9 L271.3 204.9 L271.5 205 L271.8 205 L272 205 L272.2 205 L272.4 204.9 L272.6 205 L272.9 205.1 L273.1 205 L273.3 205 L273.5 204.8 L273.8 204.8 L274 204.8 L274.2 205.1 L274.4 204.9 L274.6 205.1 L274.9 204.9 L275.1 204.9 L275.3 204.9 L275.5 205 L275.8 204.9 L276 205 L276.2 204.9 L276.4 205 L276.6 204.8 L276.9 204.9 L277.1 204.9 L277.3 204.9 L277.5 205 L277.8 204.9 L278 204.9 L278.2 204.9 L278.4 205 L278.6 205 L278.9 204.8 L279.1 205 L279.3 205.2 L279.5 204.8 L279.8 204.9 L280 204.9 L280.2 204.9 L280.4 205.1 L280.6 204.9 L280.9 204.9 L281.1 205 L281.3 204.9 L281.5 205.1 L281.8 205 L282 205.1 L282.2 204.9 L282.4 205.3 L282.6 205 L282.9 205 L283.1 204.9 L283.3 204.9 L283.5 204.9 L283.8 204.9 L284 204.9 L284.2 205 L284.4 204.9 L284.7 205 L284.9 205.1 L285.1 204.9 L285.3 205.1 L285.5 204.9 L285.8 205.1 L286 205 L286.2 205.1 L286.4 204.9 L286.7 205 L286.9 205.1 L287.1 204.9 L287.3 204.8 L287.5 204.8 L287.8 204.7 L288 204.8 L288.2 204.9 L288.4 205.1 L288.7 204.9 L288.9 205 L289.1 205 L289.3 205 L289.5 205 L289.8 205 L290 205 L290.2 204.9 L290.4 205.1 L290.7 205.1 L290.9 205 L291.1 205.1 L291.3 204.9 L291.5 204.9 L291.8 205 L292 205 L292.2 204.9 L292.4 204.9 L292.7 204.9 L292.9 205.1 L293.1 204.8 L293.3 205 L293.5 205 L293.8 205.1 L294 205 L294.2 204.7 L294.4 205 L294.7 205 L294.9 205 L295.1 204.9 L295.3 205.1 L295.5 204.9 L295.8 205.2 L296 205 L296.2 205.2 L296.4 204.9 L296.7 204.8 L296.9 205 L297.1 205.1 L297.3 205 L297.5 204.8 L297.8 204.9 L298 205 L298.2 204.8 L298.4 204.8 L298.7 204.7 L298.9 204.6 L299.1 204.5 L299.3 204.3 L299.6 204.5 L299.8 204.1 L300 204.1 L300.2 203.8 L300.4 203.9 L300.7 203.6 L300.9 203.9 L301.1 203.8 L301.3 204.1 L301.6 203.8 L301.8 204.1 L302 204.3 L302.2 204.6 L302.4 204.8 L302.7 205.5 L302.9 206 L303.1 206.5 L303.3 206.4 L303.6 205.1 L303.8 199.7 L304 186.7 L304.2 189.8 L304.4 202.3 L304.7 206.2 L304.9 206.6 L305.1 206.7 L305.3 206.9 L305.6 206.8 L305.8 206.6 L306 206.8 L306.2 207 L306.4 206.8 L306.7 206.7 L306.9 207 L307.1 206.8 L307.3 206.8 L307.6 206.8 L307.8 206.8 L308 206.8 L308.2 206.9 L308.4 206.9 L308.7 206.9 L308.9 206.8 L309.1 206.9 L309.3 206.8 L309.6 206.8 L309.8 206.9 L310 206.9 L310.2 207 L310.4 206.8 L310.7 206.6 L310.9 206.7 L311.1 206.9 L311.3 206.8 L311.6 206.8 L311.8 206.7 L312 206.9 L312.2 206.8 L312.4 206.9 L312.7 206.7 L312.9 206.9 L313.1 206.9 L313.3 206.7 L313.6 206.9 L313.8 206.7 L314 206.7 L314.2 206.9 L314.4 206.7 L314.7 206.7 L314.9 206.8 L315.1 206.7 L315.3 206.9 L315.6 206.9 L315.8 206.8 L316 206.8 L316.2 206.8 L316.5 207 L316.7 206.9 L316.9 206.7 L317.1 206.9 L317.3 206.8 L317.6 206.8 L317.8 207 L318 206.8 L318.2 206.8 L318.5 206.6 L318.7 206.7 L318.9 206.8 L319.1 206.7 L319.3 206.9 L319.6 206.7 L319.8 206.7 L320 206.9 L320.2 206.9 L320.5 206.9 L320.7 206.9 L320.9 207 L321.1 206.9 L321.3 206.7 L321.6 206.8 L321.8 206.9 L322 206.8 L322.2 206.8 L322.5 206.6 L322.7 206.7 L322.9 206.9 L323.1 206.6 L323.3 206.7 L323.6 206.8 L323.8 206.6 L324 206.8 L324.2 206.7 L324.5 206.8 L324.7 206.8 L324.9 206.8 L325.1 206.7 L325.3 206.8 L325.6 206.7 L325.8 206.9 L326 207 L326.2 206.8 L326.5 206.8 L326.7 206.7 L326.9 206.9 L327.1 206.7 L327.3 206.7 L327.6 206.9 L327.8 206.8 L328 206.9 L328.2 206.9 L328.5 206.7 L328.7 206.8 L328.9 207 L329.1 206.9 L329.3 206.9 L329.6 206.9 L329.8 206.7 L330 206.9 L330.2 206.9 L330.5 207 L330.7 206.7 L330.9 206.8 L331.1 206.8 L331.4 206.8 L331.6 206.8 L331.8 206.9 L332 206.8 L332.2 206.6 L332.5 206.8 L332.7 206.8 L332.9 206.7 L333.1 206.6 L333.4 206.9 L333.6 206.6 L333.8 206.6 L334 206.8 L334.2 206.9 L334.5 206.9 L334.7 206.7 L334.9 206.8 L335.1 206.6 L335.4 206.9 L335.6 206.7 L335.8 206.8 L336 206.9 L336.2 206.8 L336.5 206.9 L336.7 206.7 L336.9 206.8 L337.1 206.9 L337.4 206.8 L337.6 206.9 L337.8 206.9 L338 206.6 L338.2 207.2 L338.5 206.9 L338.7 206.8 L338.9 206.7 L339.1 206.8 L339.4 206.8 L339.6 206.9 L339.8 206.8 L340 207 L340.2 206.8 L340.5 206.9 L340.7 206.8 L340.9 206.8 L341.1 206.8 L341.4 206.9 L341.6 206.9 L341.8 206.7 L342 206.7 L342.2 206.8 L342.5 206.9 L342.7 206.8 L342.9 207 L343.1 206.7 L343.4 206.8 L343.6 206.5 L343.8 206.7 L344 206.8 L344.2 206.9 L344.5 207 L344.7 206.8 L344.9 206.9 L345.1 206.9 L345.4 206.9 L345.6 206.8 L345.8 206.9 L346 206.7 L346.2 206.8 L346.5 206.7 L346.7 206.7 L346.9 206.7 L347.1 206.7 L347.4 206.8 L347.6 206.8 L347.8 206.7 L348 206.9 L348.3 206.8 L348.5 206.9 L348.7 206.9 L348.9 206.7 L349.1 206.6 L349.4 206.7 L349.6 206.9 L349.8 206.7 L350 206.9 L350.3 206.7 L350.5 206.8 L350.7 206.6 L350.9 206.9 L351.1 206.8 L351.4 206.9 L351.6 206.8 L351.8 206.9 L352 206.8 L352.3 206.9 L352.5 206.6 L352.7 206.7 L352.9 206.9 L353.1 206.8 L353.4 206.8 L353.6 206.8 L353.8 206.9 L354 206.7 L354.3 206.9 L354.5 206.7 L354.7 206.8" fill="none" stroke="#12a22a" stroke-width="1.05" stroke-linejoin="round"/>
<path d="M212.6 224.8 L212.8 224.8 L213 224.6 L213.3 225 L213.5 224.6 L213.7 224.7 L213.9 224.8 L214.2 224.6 L214.4 224.7 L214.6 224.7 L214.8 224.8 L215 225 L215.3 224.8 L215.5 224.6 L215.7 224.8 L215.9 224.7 L216.2 224.7 L216.4 224.9 L216.6 224.7 L216.8 224.7 L217 224.6 L217.3 224.7 L217.5 224.7 L217.7 224.6 L217.9 224.7 L218.2 224.7 L218.4 224.6 L218.6 224.6 L218.8 224.6 L219 224.7 L219.3 224.7 L219.5 224.9 L219.7 224.4 L219.9 224.7 L220.2 224.7 L220.4 224.8 L220.6 224.7 L220.8 224.6 L221.1 224.7 L221.3 224.7 L221.5 224.6 L221.7 224.7 L221.9 224.5 L222.2 224.8 L222.4 224.8 L222.6 224.6 L222.8 224.7 L223.1 224.6 L223.3 224.5 L223.5 224.6 L223.7 224.7 L223.9 224.6 L224.2 224.6 L224.4 224.6 L224.6 224.6 L224.8 224.7 L225.1 224.5 L225.3 224.6 L225.5 224.6 L225.7 224.4 L225.9 224.5 L226.2 224.6 L226.4 224.6 L226.6 224.6 L226.8 224.4 L227.1 224.6 L227.3 224.5 L227.5 224.4 L227.7 224.6 L227.9 224.6 L228.2 224.5 L228.4 224.6 L228.6 224.5 L228.8 224.5 L229.1 224.4 L229.3 224.7 L229.5 224.2 L229.7 224.5 L229.9 224.6 L230.2 224.3 L230.4 224.5 L230.6 224.5 L230.8 224.6 L231.1 224.6 L231.3 224.4 L231.5 224.3 L231.7 224.6 L231.9 224.6 L232.2 224.4 L232.4 224.5 L232.6 224.5 L232.8 224.5 L233.1 224.5 L233.3 224.6 L233.5 224.3 L233.7 224.5 L233.9 224.5 L234.2 224.4 L234.4 224.5 L234.6 224.2 L234.8 224.5 L235.1 224.5 L235.3 224.3 L235.5 224.5 L235.7 224.4 L235.9 224.7 L236.2 224.6 L236.4 224.4 L236.6 224.3 L236.8 224.3 L237.1 224.4 L237.3 224.3 L237.5 224.3 L237.7 224.3 L238 224.3 L238.2 224.3 L238.4 224.3 L238.6 224.3 L238.8 224.6 L239.1 224.2 L239.3 224.2 L239.5 224.4 L239.7 224.3 L240 224.4 L240.2 224.4 L240.4 224.5 L240.6 224.4 L240.8 224.2 L241.1 224.4 L241.3 224.1 L241.5 224.3 L241.7 224.3 L242 224.2 L242.2 224.4 L242.4 224.3 L242.6 224.4 L242.8 224.1 L243.1 224.4 L243.3 224.3 L243.5 224.3 L243.7 224.1 L244 224.2 L244.2 224.1 L244.4 224.1 L244.6 224.6 L244.8 224.4 L245.1 224.4 L245.3 224.2 L245.5 224.3 L245.7 224.3 L246 224.3 L246.2 224.2 L246.4 224.2 L246.6 224 L246.8 224.3 L247.1 224.3 L247.3 224.3 L247.5 224.2 L247.7 224.4 L248 224.2 L248.2 224.1 L248.4 224.3 L248.6 224.1 L248.8 224.1 L249.1 224.2 L249.3 224.3 L249.5 224.2 L249.7 224.2 L250 224.6 L250.2 224.2 L250.4 224.3 L250.6 224 L250.8 224.2 L251.1 224.2 L251.3 224.1 L251.5 224.1 L251.7 224.2 L252 224.1 L252.2 224.1 L252.4 224.2 L252.6 224.3 L252.9 224.1 L253.1 224.1 L253.3 224.2 L253.5 224.2 L253.7 224.2 L254 224 L254.2 224.1 L254.4 224.1 L254.6 224.1 L254.9 224.2 L255.1 224.1 L255.3 223.9 L255.5 224 L255.7 223.9 L256 224.2 L256.2 224 L256.4 224 L256.6 224 L256.9 223.8 L257.1 223.7 L257.3 223.8 L257.5 223.8 L257.7 224 L258 224 L258.2 223.8 L258.4 224 L258.6 224.1 L258.9 224 L259.1 224.2 L259.3 224.1 L259.5 224.2 L259.7 223.6 L260 221.3 L260.2 218.5 L260.4 220.9 L260.6 223.6 L260.9 224.3 L261.1 224.3 L261.3 224.2 L261.5 224.2 L261.7 224.5 L262 224.3 L262.2 224.2 L262.4 224.3 L262.6 224.1 L262.9 224.4 L263.1 224.3 L263.3 224.4 L263.5 224.3 L263.7 224.3 L264 224.3 L264.2 224.2 L264.4 224.2 L264.6 224.1 L264.9 224.2 L265.1 224 L265.3 224.4 L265.5 224 L265.7 224.2 L266 224.1 L266.2 224 L266.4 224.2 L266.6 224.2 L266.9 224.2 L267.1 224.2 L267.3 224.1 L267.5 224.2 L267.7 224.2 L268 224.1 L268.2 224.1 L268.4 224.2 L268.6 224.2 L268.9 224.2 L269.1 223.9 L269.3 224.2 L269.5 224.2 L269.8 224.1 L270 224.2 L270.2 224.3 L270.4 224.1 L270.6 224.2 L270.9 224 L271.1 224 L271.3 224.1 L271.5 224 L271.8 224.1 L272 224 L272.2 224.1 L272.4 224 L272.6 223.9 L272.9 224 L273.1 224 L273.3 224 L273.5 224 L273.8 224 L274 224.2 L274.2 224.2 L274.4 224.1 L274.6 224 L274.9 224.2 L275.1 223.9 L275.3 223.9 L275.5 224.1 L275.8 224 L276 224 L276.2 224 L276.4 223.9 L276.6 223.9 L276.9 224.2 L277.1 224.1 L277.3 223.9 L277.5 224.2 L277.8 223.9 L278 224 L278.2 224 L278.4 223.9 L278.6 224 L278.9 224 L279.1 224 L279.3 224.1 L279.5 224 L279.8 223.9 L280 223.9 L280.2 224 L280.4 224 L280.6 223.9 L280.9 224 L281.1 224 L281.3 223.9 L281.5 224 L281.8 223.8 L282 223.8 L282.2 224 L282.4 223.9 L282.6 223.8 L282.9 223.9 L283.1 223.8 L283.3 223.5 L283.5 222.7 L283.8 222.8 L284 223.8 L284.2 223.9 L284.4 223.7 L284.7 224 L284.9 224 L285.1 224 L285.3 223.9 L285.5 223.8 L285.8 224 L286 224 L286.2 223.7 L286.4 224 L286.7 223.8 L286.9 224 L287.1 223.8 L287.3 223.9 L287.5 223.9 L287.8 223.9 L288 223.8 L288.2 223.8 L288.4 223.9 L288.7 223.9 L288.9 223.9 L289.1 224 L289.3 223.9 L289.5 223.9 L289.8 224 L290 223.8 L290.2 223.9 L290.4 223.8 L290.7 223.8 L290.9 224 L291.1 223.8 L291.3 223.9 L291.5 223.7 L291.8 223.7 L292 223.8 L292.2 223.6 L292.4 224 L292.7 223.9 L292.9 223.6 L293.1 223.8 L293.3 223.7 L293.5 223.8 L293.8 223.8 L294 223.8 L294.2 223.9 L294.4 223.7 L294.7 223.6 L294.9 223.8 L295.1 223.7 L295.3 223.8 L295.5 223.7 L295.8 223.8 L296 223.8 L296.2 223.7 L296.4 223.7 L296.7 223.8 L296.9 224 L297.1 223.8 L297.3 223.7 L297.5 223.8 L297.8 223.7 L298 223.5 L298.2 223.7 L298.4 223.8 L298.7 223.5 L298.9 223.4 L299.1 223.5 L299.3 223.6 L299.6 223.4 L299.8 223.4 L300 223.4 L300.2 223.3 L300.4 223.2 L300.7 223 L300.9 223.1 L301.1 223 L301.3 223.2 L301.6 223 L301.8 223.3 L302 223.3 L302.2 223.3 L302.4 223.6 L302.7 223.7 L302.9 224.1 L303.1 224.3 L303.3 224.3 L303.6 223.4 L303.8 223 L304 213.6 L304.2 215.9 L304.4 224.6 L304.7 227.7 L304.9 227.8 L305.1 227.9 L305.3 227.7 L305.6 227.7 L305.8 227.8 L306 227.9 L306.2 227.7 L306.4 227.6 L306.7 227.8 L306.9 227.9 L307.1 227.7 L307.3 227.7 L307.6 227.8 L307.8 227.8 L308 227.8 L308.2 227.9 L308.4 227.8 L308.7 227.8 L308.9 227.9 L309.1 227.8 L309.3 227.7 L309.6 227.7 L309.8 227.7 L310 228 L310.2 227.8 L310.4 227.9 L310.7 227.9 L310.9 227.7 L311.1 227.9 L311.3 227.7 L311.6 227.6 L311.8 227.8 L312 227.7 L312.2 227.8 L312.4 227.8 L312.7 228 L312.9 227.8 L313.1 227.8 L313.3 227.8 L313.6 227.8 L313.8 227.8 L314 227.7 L314.2 227.7 L314.4 227.8 L314.7 227.7 L314.9 227.7 L315.1 227.7 L315.3 227.9 L315.6 227.7 L315.8 228 L316 227.7 L316.2 227.7 L316.5 227.7 L316.7 227.9 L316.9 227.9 L317.1 227.7 L317.3 227.8 L317.6 227.8 L317.8 227.8 L318 227.8 L318.2 227.9 L318.5 227.6 L318.7 227.6 L318.9 227.8 L319.1 227.8 L319.3 227.9 L319.6 227.6 L319.8 227.7 L320 228 L320.2 227.7 L320.5 227.8 L320.7 227.7 L320.9 227.8 L321.1 227.7 L321.3 227.9 L321.6 227.6 L321.8 227.7 L322 227.7 L322.2 227.9 L322.5 227.8 L322.7 227.9 L322.9 227.8 L323.1 227.8 L323.3 227.8 L323.6 228 L323.8 227.8 L324 227.7 L324.2 227.9 L324.5 227.8 L324.7 227.7 L324.9 227.8 L325.1 227.7 L325.3 228 L325.6 227.8 L325.8 227.6 L326 227.8 L326.2 227.7 L326.5 227.9 L326.7 227.8 L326.9 227.6 L327.1 227.7 L327.3 227.7 L327.6 227.7 L327.8 227.7 L328 227.6 L328.2 227.8 L328.5 227.7 L328.7 227.7 L328.9 227.9 L329.1 228 L329.3 227.7 L329.6 228 L329.8 227.6 L330 227.9 L330.2 227.7 L330.5 227.8 L330.7 227.7 L330.9 227.7 L331.1 227.8 L331.4 227.8 L331.6 227.8 L331.8 228 L332 227.7 L332.2 227.8 L332.5 227.6 L332.7 227.5 L332.9 227.9 L333.1 227.7 L333.4 227.7 L333.6 227.8 L333.8 227.9 L334 227.8 L334.2 228 L334.5 227.8 L334.7 227.6 L334.9 227.8 L335.1 227.8 L335.4 227.7 L335.6 227.8 L335.8 227.7 L336 228 L336.2 227.7 L336.5 227.7 L336.7 227.8 L336.9 227.6 L337.1 227.8 L337.4 227.8 L337.6 227.7 L337.8 227.7 L338 227.7 L338.2 228 L338.5 227.8 L338.7 227.7 L338.9 227.7 L339.1 227.8 L339.4 227.8 L339.6 227.7 L339.8 227.8 L340 227.8 L340.2 227.9 L340.5 227.8 L340.7 227.8 L340.9 227.8 L341.1 227.7 L341.4 227.9 L341.6 227.8 L341.8 227.8 L342 227.8 L342.2 227.7 L342.5 228 L342.7 227.8 L342.9 227.9 L343.1 227.8 L343.4 227.7 L343.6 227.8 L343.8 227.8 L344 227.8 L344.2 227.8 L344.5 227.9 L344.7 227.9 L344.9 227.8 L345.1 227.7 L345.4 227.7 L345.6 227.7 L345.8 227.6 L346 227.9 L346.2 227.8 L346.5 227.8 L346.7 227.6 L346.9 227.6 L347.1 227.5 L347.4 227.8 L347.6 227.9 L347.8 227.9 L348 227.8 L348.3 227.7 L348.5 227.8 L348.7 227.8 L348.9 227.9 L349.1 227.9 L349.4 227.8 L349.6 227.8 L349.8 227.9 L350 227.8 L350.3 227.8 L350.5 227.6 L350.7 227.7 L350.9 227.9 L351.1 227.8 L351.4 227.9 L351.6 227.8 L351.8 227.8 L352 227.9 L352.3 227.9 L352.5 227.8 L352.7 227.9 L352.9 227.9 L353.1 227.9 L353.4 227.6 L353.6 227.8 L353.8 227.8 L354 227.8 L354.3 227.6 L354.5 227.9 L354.7 227.7" fill="none" stroke="#f2403a" stroke-width="1.05" stroke-linejoin="round"/>
<path d="M212.6 244 L212.8 243.8 L213 243.8 L213.3 243.6 L213.5 243.7 L213.7 243.7 L213.9 243.8 L214.2 243.7 L214.4 243.8 L214.6 243.7 L214.8 243.6 L215 243.8 L215.3 243.8 L215.5 243.9 L215.7 243.7 L215.9 243.7 L216.2 243.7 L216.4 243.5 L216.6 243.8 L216.8 243.6 L217 243.6 L217.3 243.7 L217.5 243.8 L217.7 243.7 L217.9 243.6 L218.2 243.6 L218.4 243.7 L218.6 243.6 L218.8 243.6 L219 243.6 L219.3 243.7 L219.5 243.8 L219.7 243.5 L219.9 243.6 L220.2 243.5 L220.4 243.4 L220.6 243.5 L220.8 243.5 L221.1 243.7 L221.3 243.6 L221.5 243.4 L221.7 243.6 L221.9 243.5 L222.2 243.4 L222.4 243.5 L222.6 243.5 L222.8 243.5 L223.1 243.5 L223.3 243.3 L223.5 243.5 L223.7 243.6 L223.9 243.6 L224.2 243.6 L224.4 243.6 L224.6 243.6 L224.8 243.4 L225.1 243.6 L225.3 243.3 L225.5 243.4 L225.7 243.3 L225.9 243.6 L226.2 243.6 L226.4 243.4 L226.6 243.6 L226.8 243.4 L227.1 243.4 L227.3 243.4 L227.5 243.3 L227.7 243.5 L227.9 243.6 L228.2 243.3 L228.4 243.5 L228.6 243.4 L228.8 243.6 L229.1 243.4 L229.3 243.4 L229.5 243.4 L229.7 243.4 L229.9 243.2 L230.2 243.5 L230.4 243.2 L230.6 243.4 L230.8 243.4 L231.1 243.2 L231.3 243.3 L231.5 243.4 L231.7 243.3 L231.9 243.2 L232.2 243 L232.4 243.2 L232.6 243.2 L232.8 243.2 L233.1 243.2 L233.3 243.3 L233.5 243.2 L233.7 243.3 L233.9 243.3 L234.2 243.2 L234.4 243.2 L234.6 243.5 L234.8 243.3 L235.1 243.1 L235.3 243.2 L235.5 243.3 L235.7 243.3 L235.9 243.2 L236.2 243.1 L236.4 243.1 L236.6 243.3 L236.8 243.2 L237.1 243.1 L237.3 243.2 L237.5 243.1 L237.7 243.2 L238 243.1 L238.2 243.2 L238.4 243.2 L238.6 243.2 L238.8 243.1 L239.1 243.3 L239.3 243.1 L239.5 243.2 L239.7 243 L240 242.9 L240.2 243.1 L240.4 243.1 L240.6 243.1 L240.8 243.1 L241.1 243 L241.3 243 L241.5 243 L241.7 243.3 L242 243.1 L242.2 243 L242.4 243.1 L242.6 243 L242.8 243 L243.1 243.1 L243.3 243 L243.5 242.8 L243.7 242.9 L244 243 L244.2 243 L244.4 243.1 L244.6 242.9 L244.8 243.1 L245.1 243 L245.3 243 L245.5 243 L245.7 243 L246 242.9 L246.2 243.1 L246.4 242.8 L246.6 242.9 L246.8 242.9 L247.1 243 L247.3 242.8 L247.5 242.9 L247.7 242.9 L248 243 L248.2 242.8 L248.4 242.9 L248.6 242.9 L248.8 242.7 L249.1 243.1 L249.3 242.9 L249.5 242.7 L249.7 243 L250 242.7 L250.2 242.9 L250.4 242.9 L250.6 242.8 L250.8 242.8 L251.1 242.8 L251.3 242.8 L251.5 242.6 L251.7 242.7 L252 242.8 L252.2 242.9 L252.4 242.9 L252.6 243 L252.9 242.8 L253.1 242.7 L253.3 242.8 L253.5 242.6 L253.7 242.7 L254 242.6 L254.2 242.8 L254.4 242.8 L254.6 242.7 L254.9 242.6 L255.1 242.5 L255.3 242.7 L255.5 242.7 L255.7 242.7 L256 242.5 L256.2 242.7 L256.4 242.6 L256.6 242.4 L256.9 242.4 L257.1 242.3 L257.3 242.4 L257.5 242.4 L257.7 242.4 L258 242.5 L258.2 242.6 L258.4 242.6 L258.6 242.6 L258.9 242.9 L259.1 242.9 L259.3 243 L259.5 243.1 L259.7 241.8 L260 237.9 L260.2 232.2 L260.4 236.7 L260.6 242.2 L260.9 243.2 L261.1 243.3 L261.3 243.3 L261.5 243.2 L261.7 243.3 L262 243.2 L262.2 243.4 L262.4 243.3 L262.6 243.4 L262.9 243 L263.1 243.3 L263.3 243.3 L263.5 243.2 L263.7 243.4 L264 243.3 L264.2 243.2 L264.4 243.3 L264.6 243.5 L264.9 243.3 L265.1 243.3 L265.3 243.2 L265.5 243.2 L265.7 243.1 L266 243.2 L266.2 243.5 L266.4 243.3 L266.6 243.3 L266.9 243.3 L267.1 243.4 L267.3 243.3 L267.5 243.4 L267.7 243.3 L268 243.2 L268.2 243.4 L268.4 243 L268.6 243.1 L268.9 243.2 L269.1 243.1 L269.3 243.2 L269.5 243.1 L269.8 243.1 L270 243.5 L270.2 243.2 L270.4 243.2 L270.6 243.3 L270.9 243.2 L271.1 243.3 L271.3 243.2 L271.5 243.3 L271.8 243 L272 243.2 L272.2 243.2 L272.4 243 L272.6 243.3 L272.9 243.1 L273.1 243.3 L273.3 243.2 L273.5 243.2 L273.8 243.1 L274 243.2 L274.2 242.9 L274.4 243.1 L274.6 243.1 L274.9 243.2 L275.1 243.1 L275.3 243.2 L275.5 243 L275.8 243.3 L276 243.3 L276.2 243.1 L276.4 243.1 L276.6 243.1 L276.9 243.2 L277.1 243.3 L277.3 243 L277.5 243 L277.8 243 L278 243 L278.2 242.9 L278.4 243.1 L278.6 243 L278.9 243.2 L279.1 243.2 L279.3 243 L279.5 243 L279.8 243 L280 243.2 L280.2 243 L280.4 242.9 L280.6 243.1 L280.9 243.1 L281.1 243 L281.3 243.2 L281.5 243.1 L281.8 243.1 L282 243 L282.2 243 L282.4 243 L282.6 242.8 L282.9 243.1 L283.1 242.7 L283.3 241.8 L283.5 239.7 L283.8 240 L284 241.8 L284.2 242.9 L284.4 243.1 L284.7 242.9 L284.9 242.8 L285.1 243 L285.3 243.1 L285.5 243 L285.8 243.1 L286 243.1 L286.2 242.9 L286.4 243 L286.7 243.2 L286.9 242.9 L287.1 242.8 L287.3 243 L287.5 242.9 L287.8 243 L288 242.9 L288.2 243 L288.4 242.8 L288.7 243.1 L288.9 243.1 L289.1 243.1 L289.3 242.8 L289.5 243 L289.8 242.7 L290 243 L290.2 242.9 L290.4 242.9 L290.7 243 L290.9 243 L291.1 243 L291.3 243 L291.5 243 L291.8 242.7 L292 242.8 L292.2 242.9 L292.4 243 L292.7 242.9 L292.9 243.1 L293.1 242.8 L293.3 242.9 L293.5 242.9 L293.8 242.9 L294 243 L294.2 242.9 L294.4 243 L294.7 242.9 L294.9 243 L295.1 242.9 L295.3 243 L295.5 242.8 L295.8 242.9 L296 242.8 L296.2 242.9 L296.4 243 L296.7 242.8 L296.9 242.7 L297.1 242.8 L297.3 242.9 L297.5 242.7 L297.8 242.8 L298 242.7 L298.2 242.7 L298.4 242.7 L298.7 242.8 L298.9 242.6 L299.1 242.6 L299.3 242.5 L299.6 242.4 L299.8 242.1 L300 242.3 L300.2 242.2 L300.4 242.3 L300.7 242.4 L300.9 242.2 L301.1 242.1 L301.3 242.1 L301.6 242.2 L301.8 242.4 L302 242.5 L302.2 242.4 L302.4 242.8 L302.7 243.2 L302.9 243.7 L303.1 243.7 L303.3 243.5 L303.6 242.7 L303.8 241.9 L304 233.5 L304.2 235.6 L304.4 243.8 L304.7 246.3 L304.9 246.6 L305.1 246.5 L305.3 246.5 L305.6 246.5 L305.8 246.5 L306 246.6 L306.2 246.5 L306.4 246.3 L306.7 246.5 L306.9 246.4 L307.1 246.3 L307.3 246.4 L307.6 246.6 L307.8 246.7 L308 246.5 L308.2 246.6 L308.4 246.6 L308.7 246.4 L308.9 246.5 L309.1 246.5 L309.3 246.5 L309.6 246.3 L309.8 246.5 L310 246.6 L310.2 246.6 L310.4 246.7 L310.7 246.5 L310.9 246.7 L311.1 246.6 L311.3 246.4 L311.6 246.6 L311.8 246.5 L312 246.6 L312.2 246.5 L312.4 246.6 L312.7 246.5 L312.9 246.5 L313.1 246.6 L313.3 246.5 L313.6 246.5 L313.8 246.6 L314 246.5 L314.2 246.4 L314.4 246.4 L314.7 246.4 L314.9 246.4 L315.1 246.7 L315.3 246.4 L315.6 246.5 L315.8 246.4 L316 246.4 L316.2 246.7 L316.5 246.6 L316.7 246.4 L316.9 246.5 L317.1 246.4 L317.3 246.4 L317.6 246.4 L317.8 246.4 L318 246.5 L318.2 246.6 L318.5 246.5 L318.7 246.5 L318.9 246.4 L319.1 246.5 L319.3 246.4 L319.6 246.6 L319.8 246.6 L320 246.6 L320.2 246.5 L320.5 246.3 L320.7 246.6 L320.9 246.6 L321.1 246.4 L321.3 246.5 L321.6 246.6 L321.8 246.4 L322 246.7 L322.2 246.5 L322.5 246.4 L322.7 246.6 L322.9 246.5 L323.1 246.4 L323.3 246.6 L323.6 246.3 L323.8 246.7 L324 246.4 L324.2 246.5 L324.5 246.5 L324.7 246.5 L324.9 246.6 L325.1 246.4 L325.3 246.6 L325.6 246.5 L325.8 246.4 L326 246.5 L326.2 246.4 L326.5 246.4 L326.7 246.6 L326.9 246.5 L327.1 246.6 L327.3 246.5 L327.6 246.4 L327.8 246.3 L328 246.4 L328.2 246.5 L328.5 246.5 L328.7 246.4 L328.9 246.6 L329.1 246.3 L329.3 246.4 L329.6 246.5 L329.8 246.7 L330 246.5 L330.2 246.4 L330.5 246.6 L330.7 246.6 L330.9 246.6 L331.1 246.5 L331.4 246.4 L331.6 246.5 L331.8 246.5 L332 246.7 L332.2 246.7 L332.5 246.4 L332.7 246.4 L332.9 246.5 L333.1 246.5 L333.4 246.5 L333.6 246.5 L333.8 246.5 L334 246.6 L334.2 246.5 L334.5 246.4 L334.7 246.3 L334.9 246.4 L335.1 246.4 L335.4 246.3 L335.6 246.6 L335.8 246.5 L336 246.5 L336.2 246.4 L336.5 246.3 L336.7 246.4 L336.9 246.7 L337.1 246.3 L337.4 246.5 L337.6 246.6 L337.8 246.5 L338 246.5 L338.2 246.6 L338.5 246.4 L338.7 246.6 L338.9 246.6 L339.1 246.4 L339.4 246.4 L339.6 246.5 L339.8 246.6 L340 246.6 L340.2 246.6 L340.5 246.4 L340.7 246.4 L340.9 246.5 L341.1 246.5 L341.4 246.4 L341.6 246.5 L341.8 246.5 L342 246.6 L342.2 246.4 L342.5 246.6 L342.7 246.4 L342.9 246.5 L343.1 246.5 L343.4 246.7 L343.6 246.8 L343.8 246.5 L344 246.5 L344.2 246.6 L344.5 246.4 L344.7 246.6 L344.9 246.4 L345.1 246.7 L345.4 246.6 L345.6 246.6 L345.8 246.4 L346 246.7 L346.2 246.5 L346.5 246.5 L346.7 246.6 L346.9 246.3 L347.1 246.5 L347.4 246.6 L347.6 246.5 L347.8 246.5 L348 246.4 L348.3 246.6 L348.5 246.5 L348.7 246.5 L348.9 246.4 L349.1 246.6 L349.4 246.6 L349.6 246.5 L349.8 246.6 L350 246.6 L350.3 246.7 L350.5 246.5 L350.7 246.5 L350.9 246.5 L351.1 246.5 L351.4 246.6 L351.6 246.6 L351.8 246.5 L352 246.5 L352.3 246.4 L352.5 246.6 L352.7 246.5 L352.9 246.5 L353.1 246.4 L353.4 246.5 L353.6 246.4 L353.8 246.7 L354 246.5 L354.3 246.5 L354.5 246.4 L354.7 246.4" fill="none" stroke="#1a7ee4" stroke-width="1.05" stroke-linejoin="round"/>
<path d="M283.85 199V248.6" stroke="#1c1c1c" stroke-width="1.3" stroke-linecap="round" stroke-dasharray="0.1 5.1" fill="none"/>
<path d="M295.4 152.7H310.6" stroke="#12a22a" stroke-width="1.3"/>
<text x="314.6" y="155.4" font-size="7.5" text-anchor="start" font-family="Liberation Serif, serif" font-weight="bold" stroke="#161616" stroke-width="0.22" fill="#161616" >CEL</text>
<path d="M295.4 162.3H310.6" stroke="#f2403a" stroke-width="0.9"/>
<text x="313" y="165" font-size="7.5" text-anchor="start" font-family="Liberation Serif, serif" font-weight="bold" stroke="#161616" stroke-width="0.22" fill="#161616" >PANI</text>
<path d="M295.4 172.2H310.6" stroke="#1a7ee4" stroke-width="1.0"/>
<text x="313" y="174.9" font-size="7.5" text-anchor="start" font-family="Liberation Serif, serif" font-weight="bold" stroke="#161616" stroke-width="0.22" fill="#161616" >PANI-CEL</text>
<text x="245.3" y="162.6" font-size="7.5" text-anchor="start" font-family="Liberation Serif, serif" font-weight="bold" stroke="#161616" stroke-width="0.22" fill="#161616" >O1s</text>
<text x="309" y="189.2" font-size="7.5" text-anchor="start" font-family="Liberation Serif, serif" font-weight="bold" stroke="#161616" stroke-width="0.22" fill="#161616" >C1s</text>
<text x="268.8" y="219.7" font-size="7.5" text-anchor="start" font-family="Liberation Serif, serif" font-weight="bold" stroke="#161616" stroke-width="0.22" fill="#161616" >N1s</text>
<text x="307.4" y="217.4" font-size="7.5" text-anchor="start" font-family="Liberation Serif, serif" font-weight="bold" stroke="#161616" stroke-width="0.22" fill="#161616" >C1s</text>
<text x="243.7" y="238.6" font-size="7.5" text-anchor="start" font-family="Liberation Serif, serif" font-weight="bold" stroke="#161616" stroke-width="0.22" fill="#161616" >O1s</text>
<text x="267" y="238" font-size="7.5" text-anchor="start" font-family="Liberation Serif, serif" font-weight="bold" stroke="#161616" stroke-width="0.22" fill="#161616" >N1s</text>
<text x="306.8" y="240.9" font-size="7.5" text-anchor="start" font-family="Liberation Serif, serif" font-weight="bold" stroke="#161616" stroke-width="0.22" fill="#161616" >C1s</text>
<text x="284" y="279.3" font-size="7.5" text-anchor="middle" font-family="Liberation Serif, serif" font-weight="bold" stroke="#161616" stroke-width="0.22" fill="#161616" >Binding energy(eV)</text>
<text transform="translate(208.1,203.8) rotate(-90)" font-size="7.55" text-anchor="middle" font-family="Liberation Serif, serif" font-weight="bold" stroke="#161616" stroke-width="0.22" fill="#161616">Counts per second</text>
<text y="154.2" font-size="12" fill="#161616"><tspan x="179.51" dy="0.9" font-family="Liberation Serif, Noto Serif CJK SC, serif" font-size="11.76">（</tspan><tspan x="194.8" dy="-0.9" text-anchor="middle" font-family="Liberation Serif, serif" font-weight="bold" stroke="#161616" stroke-width="0.22">e</tspan><tspan x="199.07" dy="0.9" font-family="Liberation Serif, Noto Serif CJK SC, serif" font-size="11.76">）</tspan></text>
<rect x="395.5" y="143" width="143.5" height="115.4" fill="#fff" stroke="#262626" stroke-width="1.0"/>
<path d="M395.5 258.4v-2.4M416 258.4v-2.4M436.5 258.4v-2.4M457 258.4v-2.4M477.5 258.4v-2.4M498 258.4v-2.4M518.5 258.4v-2.4M539 258.4v-2.4M405.75 258.4v-1.4M426.25 258.4v-1.4M446.75 258.4v-1.4M467.25 258.4v-1.4M487.75 258.4v-1.4M508.25 258.4v-1.4M528.75 258.4v-1.4" stroke="#262626" stroke-width="0.8" fill="none"/>
<text x="395.5" y="267.3" font-size="7.2" text-anchor="middle" font-family="Liberation Serif, serif" font-weight="bold" stroke="#161616" stroke-width="0.22" fill="#161616" >294</text>
<text x="416" y="267.3" font-size="7.2" text-anchor="middle" font-family="Liberation Serif, serif" font-weight="bold" stroke="#161616" stroke-width="0.22" fill="#161616" >292</text>
<text x="436.5" y="267.3" font-size="7.2" text-anchor="middle" font-family="Liberation Serif, serif" font-weight="bold" stroke="#161616" stroke-width="0.22" fill="#161616" >290</text>
<text x="457" y="267.3" font-size="7.2" text-anchor="middle" font-family="Liberation Serif, serif" font-weight="bold" stroke="#161616" stroke-width="0.22" fill="#161616" >288</text>
<text x="477.5" y="267.3" font-size="7.2" text-anchor="middle" font-family="Liberation Serif, serif" font-weight="bold" stroke="#161616" stroke-width="0.22" fill="#161616" >286</text>
<text x="498" y="267.3" font-size="7.2" text-anchor="middle" font-family="Liberation Serif, serif" font-weight="bold" stroke="#161616" stroke-width="0.22" fill="#161616" >284</text>
<text x="518.5" y="267.3" font-size="7.2" text-anchor="middle" font-family="Liberation Serif, serif" font-weight="bold" stroke="#161616" stroke-width="0.22" fill="#161616" >282</text>
<text x="539" y="267.3" font-size="7.2" text-anchor="middle" font-family="Liberation Serif, serif" font-weight="bold" stroke="#161616" stroke-width="0.22" fill="#161616" >280</text>
<path d="M420.8 245.2 L421.2 245.2 L421.7 245.1 L422.2 245.1 L422.6 245.1 L423.1 245.1 L423.6 245 L424 245 L424.5 245 L425 244.9 L425.4 244.9 L425.9 244.8 L426.4 244.8 L426.9 244.7 L427.3 244.6 L427.8 244.6 L428.3 244.5 L428.7 244.4 L429.2 244.3 L429.7 244.2 L430.1 244.1 L430.6 244 L431.1 243.8 L431.5 243.7 L432 243.6 L432.5 243.4 L432.9 243.3 L433.4 243.1 L433.9 242.9 L434.3 242.7 L434.8 242.5 L435.3 242.3 L435.7 242.1 L436.2 241.9 L436.7 241.6 L437.1 241.4 L437.6 241.1 L438.1 240.9 L438.5 240.6 L439 240.3 L439.5 240 L440 239.7 L440.4 239.4 L440.9 239.2 L441.4 238.9 L441.8 238.6 L442.3 238.3 L442.8 238 L443.2 237.7 L443.7 237.4 L444.2 237.1 L444.6 236.8 L445.1 236.5 L445.6 236.2 L446 236 L446.5 235.7 L447 235.5 L447.4 235.3 L447.9 235.1 L448.4 234.9 L448.8 234.7 L449.3 234.5 L449.8 234.4 L450.2 234.3 L450.7 234.2 L451.2 234.1 L451.7 234 L452.1 234 L452.6 234 L453.1 234 L453.5 234 L454 234.1 L454.5 234.2 L454.9 234.3 L455.4 234.4 L455.9 234.5 L456.3 234.7 L456.8 234.9 L457.3 235.1 L457.7 235.3 L458.2 235.5 L458.7 235.8 L459.1 236.1 L459.6 236.4 L460.1 236.7 L460.5 237 L461 237.3 L461.5 237.6 L461.9 237.9 L462.4 238.3 L462.9 238.6 L463.4 239 L463.8 239.3 L464.3 239.7 L464.8 240 L465.2 240.4 L465.7 240.7 L466.2 241.1 L466.6 241.4 L467.1 241.7 L467.6 242.1 L468 242.4 L468.5 242.7 L469 243.1 L469.4 243.4 L469.9 243.7 L470.4 244 L470.8 244.3 L471.3 244.5 L471.8 244.8 L472.2 245.1 L472.7 245.3 L473.2 245.6 L473.6 245.8 L474.1 246.1 L474.6 246.3 L475 246.5 L475.5 246.7 L476 247 L476.5 247.2 L476.9 247.4 L477.4 247.6 L477.9 247.7 L478.3 247.9 L478.8 248.1 L479.3 248.3 L479.7 248.4 L480.2 248.6 L480.7 248.8 L481.1 248.9 L481.6 249.1 L482.1 249.2 L482.5 249.4 L483 249.5 L483.5 249.6 L483.9 249.8 L484.4 249.9 L484.9 250 L485.3 250.1 L485.3 250.3 L482.5 249.6 L479.7 249 L476.9 248.3 L474.1 247.7 L471.3 247.2 L468.5 246.8 L465.7 246.4 L462.9 246.2 L460.1 245.9 L457.3 245.8 L454.5 245.6 L451.7 245.6 L448.8 245.5 L446 245.4 L443.2 245.4 L440.4 245.4 L437.6 245.4 L434.8 245.3 L432 245.3 L429.2 245.3 L426.4 245.3 L423.6 245.3 L420.8 245.3Z" fill="url(#pk1)" stroke="url(#pk1)" stroke-width="0.7"/>
<path d="M447.4 245.3 L447.9 245.3 L448.4 245.3 L448.8 245.2 L449.3 245.2 L449.8 245.1 L450.2 245 L450.7 244.9 L451.2 244.8 L451.7 244.6 L452.1 244.4 L452.6 244.2 L453.1 243.9 L453.5 243.6 L454 243.3 L454.5 242.9 L454.9 242.4 L455.4 241.9 L455.9 241.3 L456.3 240.7 L456.8 240 L457.3 239.3 L457.7 238.5 L458.2 237.6 L458.7 236.7 L459.1 235.8 L459.6 234.8 L460.1 233.9 L460.5 232.9 L461 231.9 L461.5 230.9 L461.9 230 L462.4 229.1 L462.9 228.3 L463.4 227.5 L463.8 226.9 L464.3 226.3 L464.8 225.9 L465.2 225.6 L465.7 225.4 L466.2 225.3 L466.6 225.4 L467.1 225.6 L467.6 225.9 L468 226.4 L468.5 227 L469 227.7 L469.4 228.5 L469.9 229.4 L470.4 230.3 L470.8 231.3 L471.3 232.4 L471.8 233.5 L472.2 234.6 L472.7 235.7 L473.2 236.8 L473.6 237.8 L474.1 238.9 L474.6 239.9 L475 240.8 L475.5 241.7 L476 242.6 L476.5 243.4 L476.9 244.1 L477.4 244.8 L477.9 245.4 L478.3 246 L478.8 246.5 L479.3 246.9 L479.7 247.4 L480.2 247.7 L480.7 248.1 L481.1 248.4 L481.6 248.7 L482.1 248.9 L482.5 249.1 L483 249.3 L483.5 249.5 L483.9 249.7 L484.4 249.9 L484.9 250 L484.9 250.2 L482.1 249.5 L479.3 248.9 L476.5 248.2 L473.6 247.6 L470.8 247.1 L468 246.7 L465.2 246.4 L462.4 246.1 L459.6 245.9 L456.8 245.7 L454 245.6 L451.2 245.5 L448.4 245.5Z" fill="url(#pk2)" stroke="url(#pk2)" stroke-width="0.7"/>
<path d="M450.7 245.4 L451.2 245.4 L451.7 245.4 L452.1 245.3 L452.6 245.3 L453.1 245.3 L453.5 245.2 L454 245.2 L454.5 245.1 L454.9 245.1 L455.4 245 L455.9 244.9 L456.3 244.8 L456.8 244.7 L457.3 244.5 L457.7 244.4 L458.2 244.2 L458.7 244 L459.1 243.8 L459.6 243.5 L460.1 243.2 L460.5 242.9 L461 242.6 L461.5 242.2 L461.9 241.8 L462.4 241.3 L462.9 240.9 L463.4 240.3 L463.8 239.8 L464.3 239.2 L464.8 238.5 L465.2 237.8 L465.7 237.1 L466.2 236.3 L466.6 235.5 L467.1 234.7 L467.6 233.8 L468 232.9 L468.5 231.9 L469 231 L469.4 230 L469.9 229 L470.4 227.9 L470.8 226.9 L471.3 225.9 L471.8 224.8 L472.2 223.8 L472.7 222.8 L473.2 221.8 L473.6 220.9 L474.1 220 L474.6 219.1 L475 218.3 L475.5 217.6 L476 216.9 L476.5 216.3 L476.9 215.7 L477.4 215.3 L477.9 214.9 L478.3 214.6 L478.8 214.4 L479.3 214.4 L479.7 214.4 L480.2 214.5 L480.7 214.7 L481.1 215 L481.6 215.4 L482.1 215.9 L482.5 216.5 L483 217.1 L483.5 217.9 L483.9 218.7 L484.4 219.6 L484.9 220.5 L485.3 221.6 L485.8 222.6 L486.3 223.7 L486.7 224.9 L487.2 226 L487.7 227.2 L488.2 228.4 L488.6 229.6 L489.1 230.8 L489.6 232 L490 233.2 L490.5 234.4 L491 235.5 L491.4 236.6 L491.9 237.7 L492.4 238.8 L492.8 239.8 L493.3 240.8 L493.8 241.7 L494.2 242.6 L494.7 243.5 L495.2 244.3 L495.6 245 L496.1 245.7 L496.6 246.4 L497 247 L497.5 247.6 L498 248.1 L498.4 248.6 L498.9 249.1 L499.4 249.5 L499.8 249.9 L500.3 250.2 L500.8 250.6 L501.3 250.9 L501.7 251.1 L502.2 251.4 L502.7 251.6 L503.1 251.8 L503.6 251.9 L504.1 252.1 L504.5 252.2 L505 252.4 L505.5 252.5 L505.9 252.6 L506.4 252.7 L506.9 252.7 L507.3 252.8 L507.8 252.9 L508.3 252.9 L508.7 253 L509.2 253 L509.2 253.2 L506.4 253.1 L503.6 252.9 L500.8 252.7 L498 252.4 L495.2 252.1 L492.4 251.7 L489.6 251.2 L486.7 250.6 L483.9 249.9 L481.1 249.3 L478.3 248.6 L475.5 248 L472.7 247.5 L469.9 247 L467.1 246.6 L464.3 246.3 L461.5 246 L458.7 245.9 L455.9 245.7 L453.1 245.6Z" fill="url(#pk3)" stroke="url(#pk3)" stroke-width="0.7"/>
<path d="M464.8 246.2 L465.2 246.2 L465.7 246.2 L466.2 246.2 L466.6 246.2 L467.1 246.2 L467.6 246.1 L468 246 L468.5 245.9 L469 245.8 L469.4 245.6 L469.9 245.3 L470.4 245 L470.8 244.7 L471.3 244.3 L471.8 243.8 L472.2 243.2 L472.7 242.5 L473.2 241.7 L473.6 240.7 L474.1 239.7 L474.6 238.5 L475 237.2 L475.5 235.7 L476 234.1 L476.5 232.3 L476.9 230.4 L477.4 228.4 L477.9 226.2 L478.3 223.9 L478.8 221.5 L479.3 219.1 L479.7 216.5 L480.2 213.9 L480.7 211.3 L481.1 208.8 L481.6 206.2 L482.1 203.8 L482.5 201.5 L483 199.3 L483.5 197.3 L483.9 195.6 L484.4 194.1 L484.9 192.8 L485.3 191.9 L485.8 191.3 L486.3 191 L486.7 191 L487.2 191.3 L487.7 192 L488.2 193 L488.6 194.3 L489.1 195.9 L489.6 197.8 L490 199.8 L490.5 202.1 L491 204.6 L491.4 207.1 L491.9 209.8 L492.4 212.5 L492.8 215.3 L493.3 218.1 L493.8 220.8 L494.2 223.5 L494.7 226.1 L495.2 228.7 L495.6 231.1 L496.1 233.3 L496.6 235.5 L497 237.4 L497.5 239.3 L498 241 L498.4 242.5 L498.9 243.9 L499.4 245.1 L499.8 246.2 L500.3 247.2 L500.8 248.1 L501.3 248.9 L501.7 249.5 L502.2 250.1 L502.7 250.6 L503.1 251 L503.6 251.4 L504.1 251.7 L504.5 252 L505 252.2 L505.5 252.4 L505.9 252.5 L506.4 252.6 L506.9 252.8 L507.3 252.8 L507.8 252.9 L508.3 253 L508.3 253.1 L505.5 253 L502.7 252.8 L499.8 252.6 L497 252.3 L494.2 251.9 L491.4 251.5 L488.6 251 L485.8 250.4 L483 249.7 L480.2 249.1 L477.4 248.4 L474.6 247.8 L471.8 247.3 L469 246.9 L466.2 246.5Z" fill="url(#pk4)" stroke="url(#pk4)" stroke-width="0.7"/>
<path d="M476.9 248.2 L477.4 248.2 L477.9 248.3 L478.3 248.3 L478.8 248.3 L479.3 248.3 L479.7 248.2 L480.2 248.1 L480.7 248 L481.1 247.8 L481.6 247.5 L482.1 247.2 L482.5 246.7 L483 246.2 L483.5 245.5 L483.9 244.7 L484.4 243.8 L484.9 242.7 L485.3 241.4 L485.8 240 L486.3 238.4 L486.7 236.7 L487.2 234.7 L487.7 232.7 L488.2 230.4 L488.6 228.1 L489.1 225.6 L489.6 223.1 L490 220.6 L490.5 218.1 L491 215.6 L491.4 213.2 L491.9 211 L492.4 208.9 L492.8 207.1 L493.3 205.5 L493.8 204.3 L494.2 203.4 L494.7 202.9 L495.2 202.7 L495.6 202.9 L496.1 203.5 L496.6 204.4 L497 205.7 L497.5 207.3 L498 209.2 L498.4 211.3 L498.9 213.6 L499.4 216.1 L499.8 218.7 L500.3 221.3 L500.8 224 L501.3 226.6 L501.7 229.2 L502.2 231.7 L502.7 234.1 L503.1 236.4 L503.6 238.5 L504.1 240.4 L504.5 242.2 L505 243.8 L505.5 245.2 L505.9 246.4 L506.4 247.6 L506.9 248.5 L507.3 249.3 L507.8 250.1 L508.3 250.7 L508.7 251.2 L509.2 251.6 L509.7 251.9 L510.1 252.2 L510.6 252.4 L511.1 252.6 L511.5 252.8 L512 252.9 L512.5 253 L513 253.1 L513.4 253.1 L513.4 253.3 L510.6 253.2 L507.8 253.1 L505 253 L502.2 252.8 L499.4 252.6 L496.6 252.3 L493.8 251.9 L491 251.4 L488.2 250.9 L485.3 250.3 L482.5 249.6 L479.7 249 L476.9 248.3Z" fill="url(#pk5)" stroke="url(#pk5)" stroke-width="0.7"/>
<path d="M395.5 245.2 L396.4 245.2 L397.3 245.2 L398.1 245.1 L399 245.1 L399.9 245.1 L400.8 245.1 L401.6 245 L402.5 245 L403.4 245 L404.3 245 L405.2 245 L406 244.9 L406.9 244.9 L407.8 244.9 L408.7 244.9 L409.5 244.9 L410.4 244.8 L411.3 244.8 L412.2 244.8 L413.1 244.8 L413.9 244.7 L414.8 244.7 L415.7 244.7 L416.6 244.6 L417.4 244.6 L418.3 244.5 L419.2 244.5 L420.1 244.4 L421 244.3 L421.8 244.3 L422.7 244.2 L423.6 244.1 L424.5 244 L425.4 243.9 L426.2 243.8 L427.1 243.6 L428 243.5 L428.9 243.4 L429.7 243.2 L430.6 243.1 L431.5 242.9 L432.4 242.7 L433.3 242.5 L434.1 242.2 L435 241.9 L435.9 241.6 L436.8 241.3 L437.6 241 L438.5 240.6 L439.4 240.3 L440.3 239.9 L441.2 239.5 L442 239.1 L442.9 238.6 L443.8 238.1 L444.7 237.6 L445.5 237 L446.4 236.4 L447.3 235.8 L448.2 235.2 L449.1 234.6 L449.9 233.9 L450.8 233.2 L451.7 232.5 L452.6 231.7 L453.4 230.9 L454.3 230 L455.2 229 L456.1 228.1 L457 227.1 L457.8 226 L458.7 225 L459.6 223.9 L460.5 222.7 L461.3 221.4 L462.2 220.1 L463.1 218.7 L464 217.2 L464.9 215.4 L465.7 213.5 L466.6 211.4 L467.5 209.1 L468.4 206.6 L469.3 203.8 L470.1 200.9 L471 197.8 L471.9 194.6 L472.8 191.1 L473.6 187.5 L474.5 184.1 L475.4 180.9 L476.3 177.9 L477.2 175.1 L478 172.3 L478.9 169.4 L479.8 166.6 L480.7 164 L481.5 161.7 L482.4 159.6 L483.3 157.7 L484.2 156.1 L485.1 155.2 L485.9 154.5 L486.8 154 L487.7 153.8 L488.6 154.1 L489.4 154.9 L490.3 156 L491.2 157.5 L492.1 159.9 L493 163.1 L493.8 166.8 L494.7 171.4 L495.6 177.8 L496.5 184.6 L497.3 190.8 L498.2 197.2 L499.1 203.3 L500 209.4 L500.9 215.5 L501.7 221.3 L502.6 226.8 L503.5 231.7 L504.4 236.2 L505.2 240 L506.1 243.1 L507 245.7 L507.9 247.6 L508.8 248.8 L509.6 250 L510.5 250.8 L511.4 251.5 L512.3 251.8 L513.2 252.2 L514 252.4 L514.9 252.7 L515.8 252.9 L516.7 253.1 L517.5 253.2 L518.4 253.2 L519.3 253.3 L520.2 253.3 L521.1 253.3 L521.9 253.4 L522.8 253.4 L523.7 253.4 L524.6 253.5 L525.4 253.5 L526.3 253.5 L527.2 253.5 L528.1 253.5 L529 253.5 L529.8 253.5 L530.7 253.5 L531.6 253.5 L532.5 253.5 L533.3 253.5 L534.2 253.5 L535.1 253.5" fill="none" stroke="#5a5a5a" stroke-width="0.65"/>
<path d="M395.5 245.3 L397.4 245.3 L399.2 245.3 L401.1 245.3 L403 245.3 L404.9 245.3 L406.7 245.3 L408.6 245.3 L410.5 245.3 L412.3 245.3 L414.2 245.3 L416.1 245.3 L418 245.3 L419.8 245.3 L421.7 245.3 L423.6 245.3 L425.4 245.3 L427.3 245.3 L429.2 245.3 L431.1 245.3 L432.9 245.3 L434.8 245.3 L436.7 245.3 L438.5 245.4 L440.4 245.4 L442.3 245.4 L444.2 245.4 L446 245.4 L447.9 245.5 L449.8 245.5 L451.7 245.6 L453.5 245.6 L455.4 245.7 L457.3 245.8 L459.1 245.9 L461 246 L462.9 246.2 L464.8 246.3 L466.6 246.5 L468.5 246.8 L470.4 247.1 L472.2 247.4 L474.1 247.7 L476 248.1 L477.9 248.5 L479.7 249 L481.6 249.4 L483.5 249.8 L485.3 250.3 L487.2 250.7 L489.1 251.1 L491 251.4 L492.8 251.7 L494.7 252 L496.6 252.3 L498.4 252.5 L500.3 252.6 L502.2 252.8 L504.1 252.9 L505.9 253 L507.8 253.1 L509.7 253.2 L511.5 253.2 L513.4 253.3 L515.3 253.3 L517.2 253.4 L519 253.4 L520.9 253.4 L522.8 253.4 L524.6 253.4 L526.5 253.5 L528.4 253.5 L530.3 253.5 L532.1 253.5 L534 253.5" fill="none" stroke="#707070" stroke-width="0.7"/>
<text x="454.8" y="157.6" font-size="7.5" text-anchor="start" font-family="Liberation Serif, serif" font-weight="bold" stroke="#161616" stroke-width="0.22" fill="#161616" >C-C,</text>
<text x="449.4" y="167.2" font-size="7.5" text-anchor="start" font-family="Liberation Serif, serif" font-weight="bold" stroke="#161616" stroke-width="0.22" fill="#161616" >285.05eV,</text>
<text x="453.2" y="176.5" font-size="7.5" text-anchor="start" font-family="Liberation Serif, serif" font-weight="bold" stroke="#161616" stroke-width="0.22" fill="#161616" >34.43%</text>
<text x="507.3" y="182.9" font-size="7.5" text-anchor="start" font-family="Liberation Serif, serif" font-weight="bold" stroke="#161616" stroke-width="0.22" fill="#161616" >C=C,</text>
<text x="507.3" y="192" font-size="7.5" text-anchor="start" font-family="Liberation Serif, serif" font-weight="bold" stroke="#161616" stroke-width="0.22" fill="#161616" >284.22eV,</text>
<text x="507.3" y="200.5" font-size="7.5" text-anchor="start" font-family="Liberation Serif, serif" font-weight="bold" stroke="#161616" stroke-width="0.22" fill="#161616" >20.60%</text>
<text x="434.3" y="182.7" font-size="7.5" text-anchor="start" font-family="Liberation Serif, serif" font-weight="bold" stroke="#161616" stroke-width="0.22" fill="#161616" >C-N,</text>
<text x="434.3" y="191.1" font-size="7.5" text-anchor="start" font-family="Liberation Serif, serif" font-weight="bold" stroke="#161616" stroke-width="0.22" fill="#161616" >285.73eV,</text>
<text x="434.3" y="200.5" font-size="7.5" text-anchor="start" font-family="Liberation Serif, serif" font-weight="bold" stroke="#161616" stroke-width="0.22" fill="#161616" >22.95%</text>
<text x="400.6" y="187.3" font-size="7.5" text-anchor="start" font-family="Liberation Serif, serif" font-weight="bold" stroke="#161616" stroke-width="0.22" fill="#161616" >C-O,</text>
<text x="400.2" y="195.7" font-size="7.5" text-anchor="start" font-family="Liberation Serif, serif" font-weight="bold" stroke="#161616" stroke-width="0.22" fill="#161616" >287.02eV,</text>
<text x="400.5" y="204.4" font-size="7.5" text-anchor="start" font-family="Liberation Serif, serif" font-weight="bold" stroke="#161616" stroke-width="0.22" fill="#161616" >10.97%</text>
<text x="404.6" y="219.2" font-size="7.5" text-anchor="start" font-family="Liberation Serif, serif" font-weight="bold" stroke="#161616" stroke-width="0.22" fill="#161616" >O-C=O,</text>
<text x="404.6" y="227.2" font-size="7.5" text-anchor="start" font-family="Liberation Serif, serif" font-weight="bold" stroke="#161616" stroke-width="0.22" fill="#161616" >288.35eV,</text>
<text x="404.6" y="235.9" font-size="7.5" text-anchor="start" font-family="Liberation Serif, serif" font-weight="bold" stroke="#161616" stroke-width="0.22" fill="#161616" >11.05%</text>
<path d="M476.8 177.6L483.59 187.43" stroke="#222" stroke-width="0.6" fill="none"/>
<path d="M485.3 189.9L482.76 188.01L484.43 186.85Z" fill="#1a1a1a"/>
<path d="M506.2 195.2L499.77 201.33" stroke="#222" stroke-width="0.6" fill="none"/>
<path d="M497.6 203.4L499.07 200.59L500.48 202.07Z" fill="#1a1a1a"/>
<path d="M457.8 197.5L475.46 211.72" stroke="#222" stroke-width="0.6" fill="none"/>
<path d="M477.8 213.6L474.82 212.51L476.1 210.92Z" fill="#1a1a1a"/>
<path d="M427 205.5L462.8 226.2" stroke="#222" stroke-width="0.6" fill="none"/>
<path d="M465.4 227.7L462.29 227.08L463.31 225.32Z" fill="#1a1a1a"/>
<path d="M432.7 230.7L446.71 234.51" stroke="#222" stroke-width="0.6" fill="none"/>
<path d="M449.6 235.3L446.44 235.5L446.97 233.53Z" fill="#1a1a1a"/>
<text x="466.8" y="279.6" font-size="7.5" text-anchor="middle" font-family="Liberation Serif, serif" font-weight="bold" stroke="#161616" stroke-width="0.22" fill="#161616" >Binding Energy (eV)</text>
<text transform="translate(390.3,203.1) rotate(-90)" font-size="7.05" text-anchor="middle" font-family="Liberation Serif, serif" font-weight="bold" stroke="#161616" stroke-width="0.22" fill="#161616">Counts per second</text>
<text y="152.9" font-size="12" fill="#161616"><tspan x="365.91" dy="0.9" font-family="Liberation Serif, Noto Serif CJK SC, serif" font-size="11.76">（</tspan><tspan x="381.9" dy="-0.9" text-anchor="middle" font-family="Liberation Serif, serif" font-weight="bold" stroke="#161616" stroke-width="0.22">f</tspan><tspan x="384.47" dy="0.9" font-family="Liberation Serif, Noto Serif CJK SC, serif" font-size="11.76">）</tspan></text>
<rect x="36.5" y="294.6" width="142.3" height="114.3" fill="#fff" stroke="#262626" stroke-width="1.0"/>
<path d="M36.5 408.9v-2.4M54.29 408.9v-2.4M72.08 408.9v-2.4M89.86 408.9v-2.4M107.65 408.9v-2.4M125.44 408.9v-2.4M143.23 408.9v-2.4M161.01 408.9v-2.4M178.8 408.9v-2.4M45.39 408.9v-1.4M63.18 408.9v-1.4M80.97 408.9v-1.4M98.76 408.9v-1.4M116.54 408.9v-1.4M134.33 408.9v-1.4M152.12 408.9v-1.4M169.91 408.9v-1.4" stroke="#262626" stroke-width="0.8" fill="none"/>
<text x="36.5" y="417.1" font-size="7.2" text-anchor="middle" font-family="Liberation Serif, serif" font-weight="bold" stroke="#161616" stroke-width="0.22" fill="#161616" >404</text>
<text x="54.29" y="417.1" font-size="7.2" text-anchor="middle" font-family="Liberation Serif, serif" font-weight="bold" stroke="#161616" stroke-width="0.22" fill="#161616" >403</text>
<text x="72.08" y="417.1" font-size="7.2" text-anchor="middle" font-family="Liberation Serif, serif" font-weight="bold" stroke="#161616" stroke-width="0.22" fill="#161616" >402</text>
<text x="89.86" y="417.1" font-size="7.2" text-anchor="middle" font-family="Liberation Serif, serif" font-weight="bold" stroke="#161616" stroke-width="0.22" fill="#161616" >401</text>
<text x="107.65" y="417.1" font-size="7.2" text-anchor="middle" font-family="Liberation Serif, serif" font-weight="bold" stroke="#161616" stroke-width="0.22" fill="#161616" >400</text>
<text x="125.44" y="417.1" font-size="7.2" text-anchor="middle" font-family="Liberation Serif, serif" font-weight="bold" stroke="#161616" stroke-width="0.22" fill="#161616" >399</text>
<text x="143.23" y="417.1" font-size="7.2" text-anchor="middle" font-family="Liberation Serif, serif" font-weight="bold" stroke="#161616" stroke-width="0.22" fill="#161616" >398</text>
<text x="161.01" y="417.1" font-size="7.2" text-anchor="middle" font-family="Liberation Serif, serif" font-weight="bold" stroke="#161616" stroke-width="0.22" fill="#161616" >397</text>
<text x="178.8" y="417.1" font-size="7.2" text-anchor="middle" font-family="Liberation Serif, serif" font-weight="bold" stroke="#161616" stroke-width="0.22" fill="#161616" >396</text>
<path d="M70.3 388.7 L70.8 388.7 L71.2 388.7 L71.7 388.7 L72.2 388.7 L72.7 388.7 L73.1 388.7 L73.6 388.6 L74.1 388.6 L74.6 388.6 L75 388.5 L75.5 388.5 L76 388.4 L76.5 388.4 L77 388.3 L77.4 388.3 L77.9 388.2 L78.4 388.1 L78.9 388 L79.3 387.9 L79.8 387.8 L80.3 387.6 L80.8 387.5 L81.2 387.3 L81.7 387.2 L82.2 387 L82.7 386.8 L83.1 386.6 L83.6 386.3 L84.1 386 L84.6 385.8 L85 385.5 L85.5 385.1 L86 384.8 L86.5 384.4 L86.9 384 L87.4 383.5 L87.9 383 L88.4 382.5 L88.9 382 L89.3 381.4 L89.8 380.8 L90.3 380.1 L90.8 379.4 L91.2 378.7 L91.7 377.9 L92.2 377.1 L92.7 376.2 L93.1 375.3 L93.6 374.4 L94.1 373.4 L94.6 372.4 L95 371.3 L95.5 370.2 L96 369 L96.5 367.8 L96.9 366.5 L97.4 365.2 L97.9 363.9 L98.4 362.5 L98.8 361.1 L99.3 359.7 L99.8 358.2 L100.3 356.7 L100.7 355.1 L101.2 353.6 L101.7 352 L102.2 350.4 L102.7 348.8 L103.1 347.1 L103.6 345.5 L104.1 343.8 L104.6 342.2 L105 340.5 L105.5 338.9 L106 337.3 L106.5 335.7 L106.9 334.1 L107.4 332.6 L107.9 331.1 L108.4 329.6 L108.8 328.2 L109.3 326.8 L109.8 325.5 L110.3 324.2 L110.7 323 L111.2 321.9 L111.7 320.9 L112.2 319.9 L112.6 319 L113.1 318.2 L113.6 317.4 L114.1 316.8 L114.6 316.3 L115 315.8 L115.5 315.5 L116 315.2 L116.5 315.1 L116.9 315 L117.4 315.1 L117.9 315.2 L118.4 315.5 L118.8 315.8 L119.3 316.3 L119.8 316.8 L120.3 317.5 L120.7 318.2 L121.2 319.1 L121.7 320 L122.2 321 L122.6 322.1 L123.1 323.2 L123.6 324.5 L124.1 325.8 L124.5 327.1 L125 328.6 L125.5 330.1 L126 331.6 L126.4 333.2 L126.9 334.8 L127.4 336.4 L127.9 338.1 L128.4 339.8 L128.8 341.6 L129.3 343.3 L129.8 345.1 L130.3 346.8 L130.7 348.6 L131.2 350.3 L131.7 352.1 L132.2 353.8 L132.6 355.5 L133.1 357.2 L133.6 358.9 L134.1 360.6 L134.5 362.2 L135 363.8 L135.5 365.3 L136 366.9 L136.4 368.3 L136.9 369.8 L137.4 371.2 L137.9 372.5 L138.3 373.9 L138.8 375.1 L139.3 376.3 L139.8 377.5 L140.3 378.6 L140.7 379.7 L141.2 380.8 L141.7 381.8 L142.2 382.7 L142.6 383.6 L143.1 384.5 L143.6 385.3 L144.1 386.1 L144.5 386.8 L145 387.5 L145.5 388.1 L146 388.8 L146.4 389.3 L146.9 389.9 L147.4 390.4 L147.9 390.9 L148.3 391.3 L148.8 391.7 L149.3 392.1 L149.8 392.5 L150.2 392.8 L150.7 393.2 L151.2 393.4 L151.7 393.7 L152.1 394 L152.6 394.2 L153.1 394.4 L153.6 394.6 L154.1 394.8 L154.5 395 L155 395.1 L155.5 395.3 L156 395.4 L156.4 395.5 L156.9 395.6 L157.4 395.7 L157.9 395.8 L158.3 395.9 L158.8 396 L159.3 396.1 L159.8 396.1 L160.2 396.2 L160.7 396.3 L161.2 396.3 L161.7 396.4 L162.1 396.4 L162.6 396.4 L163.1 396.5 L163.6 396.5 L164 396.5 L164.5 396.6 L164.5 396.7 L161.7 396.6 L158.8 396.5 L156 396.4 L153.1 396.3 L150.2 396.2 L147.4 396 L144.5 395.9 L141.7 395.6 L138.8 395.4 L136 395.1 L133.1 394.8 L130.3 394.5 L127.4 394.1 L124.5 393.7 L121.7 393.3 L118.8 392.9 L116 392.5 L113.1 392 L110.3 391.6 L107.4 391.3 L104.6 390.9 L101.7 390.6 L98.8 390.3 L96 390 L93.1 389.8 L90.3 389.6 L87.4 389.5 L84.6 389.3 L81.7 389.2 L78.9 389.1 L76 389 L73.1 388.9 L70.3 388.9Z" fill="url(#pg3)" stroke="url(#pg3)" stroke-width="0.7"/>
<path d="M36.5 388.4 L37 388.4 L37.5 388.4 L37.9 388.3 L38.4 388.3 L38.9 388.3 L39.4 388.3 L39.8 388.2 L40.3 388.2 L40.8 388.2 L41.3 388.1 L41.7 388.1 L42.2 388.1 L42.7 388 L43.2 388 L43.6 387.9 L44.1 387.9 L44.6 387.8 L45.1 387.8 L45.5 387.7 L46 387.6 L46.5 387.6 L47 387.5 L47.4 387.4 L47.9 387.4 L48.4 387.3 L48.9 387.2 L49.3 387.1 L49.8 387 L50.3 386.9 L50.8 386.8 L51.3 386.7 L51.7 386.6 L52.2 386.4 L52.7 386.3 L53.2 386.2 L53.6 386 L54.1 385.9 L54.6 385.8 L55.1 385.6 L55.5 385.4 L56 385.3 L56.5 385.1 L57 384.9 L57.4 384.7 L57.9 384.5 L58.4 384.3 L58.9 384.1 L59.3 383.9 L59.8 383.7 L60.3 383.5 L60.8 383.2 L61.2 383 L61.7 382.8 L62.2 382.5 L62.7 382.3 L63.2 382 L63.6 381.7 L64.1 381.5 L64.6 381.2 L65.1 380.9 L65.5 380.6 L66 380.3 L66.5 380 L67 379.7 L67.4 379.4 L67.9 379.1 L68.4 378.8 L68.9 378.5 L69.3 378.2 L69.8 377.9 L70.3 377.6 L70.8 377.3 L71.2 377 L71.7 376.7 L72.2 376.3 L72.7 376 L73.1 375.7 L73.6 375.4 L74.1 375.1 L74.6 374.8 L75 374.5 L75.5 374.3 L76 374 L76.5 373.7 L77 373.4 L77.4 373.2 L77.9 372.9 L78.4 372.7 L78.9 372.4 L79.3 372.2 L79.8 372 L80.3 371.8 L80.8 371.6 L81.2 371.4 L81.7 371.2 L82.2 371 L82.7 370.9 L83.1 370.7 L83.6 370.6 L84.1 370.5 L84.6 370.4 L85 370.3 L85.5 370.2 L86 370.2 L86.5 370.1 L86.9 370.1 L87.4 370.1 L87.9 370.1 L88.4 370.1 L88.9 370.1 L89.3 370.2 L89.8 370.3 L90.3 370.3 L90.8 370.4 L91.2 370.5 L91.7 370.7 L92.2 370.8 L92.7 370.9 L93.1 371.1 L93.6 371.3 L94.1 371.5 L94.6 371.7 L95 371.9 L95.5 372.1 L96 372.4 L96.5 372.6 L96.9 372.9 L97.4 373.2 L97.9 373.5 L98.4 373.8 L98.8 374.1 L99.3 374.4 L99.8 374.7 L100.3 375 L100.7 375.4 L101.2 375.7 L101.7 376.1 L102.2 376.4 L102.7 376.8 L103.1 377.1 L103.6 377.5 L104.1 377.9 L104.6 378.3 L105 378.6 L105.5 379 L106 379.4 L106.5 379.8 L106.9 380.2 L107.4 380.5 L107.9 380.9 L108.4 381.3 L108.8 381.7 L109.3 382 L109.8 382.4 L110.3 382.8 L110.7 383.2 L111.2 383.5 L111.7 383.9 L112.2 384.2 L112.6 384.6 L113.1 384.9 L113.6 385.3 L114.1 385.6 L114.6 385.9 L115 386.3 L115.5 386.6 L116 386.9 L116.5 387.2 L116.9 387.5 L117.4 387.8 L117.9 388.1 L118.4 388.4 L118.8 388.6 L119.3 388.9 L119.8 389.2 L120.3 389.4 L120.7 389.7 L121.2 389.9 L121.7 390.1 L122.2 390.4 L122.6 390.6 L123.1 390.8 L123.6 391 L124.1 391.2 L124.5 391.4 L125 391.6 L125.5 391.8 L126 392 L126.4 392.2 L126.9 392.3 L127.4 392.5 L127.9 392.7 L128.4 392.8 L128.8 393 L129.3 393.1 L129.8 393.2 L130.3 393.4 L130.7 393.5 L131.2 393.6 L131.7 393.7 L132.2 393.9 L132.6 394 L133.1 394.1 L133.6 394.2 L134.1 394.3 L134.5 394.4 L135 394.5 L135.5 394.6 L136 394.6 L136.4 394.7 L136.9 394.8 L137.4 394.9 L137.9 395 L138.3 395 L138.8 395.1 L139.3 395.2 L139.8 395.2 L140.3 395.3 L140.7 395.3 L141.2 395.4 L141.7 395.5 L142.2 395.5 L142.6 395.6 L143.1 395.6 L143.6 395.7 L143.6 395.8 L140.7 395.6 L137.9 395.3 L135 395 L132.2 394.7 L129.3 394.3 L126.4 394 L123.6 393.6 L120.7 393.2 L117.9 392.7 L115 392.3 L112.2 391.9 L109.3 391.5 L106.5 391.1 L103.6 390.8 L100.7 390.5 L97.9 390.2 L95 390 L92.2 389.8 L89.3 389.6 L86.5 389.4 L83.6 389.3 L80.8 389.2 L77.9 389.1 L75 389 L72.2 388.9 L69.3 388.9 L66.5 388.8 L63.6 388.8 L60.8 388.7 L57.9 388.7 L55.1 388.7 L52.2 388.7 L49.3 388.7 L46.5 388.7 L43.6 388.6 L40.8 388.6 L37.9 388.6Z" fill="url(#pg2)" stroke="url(#pg2)" stroke-width="0.7"/>
<path d="M36.5 388.5 L37 388.5 L37.5 388.5 L37.9 388.4 L38.4 388.4 L38.9 388.4 L39.4 388.3 L39.8 388.3 L40.3 388.2 L40.8 388.2 L41.3 388.1 L41.7 388 L42.2 388 L42.7 387.9 L43.2 387.8 L43.6 387.7 L44.1 387.6 L44.6 387.5 L45.1 387.4 L45.5 387.3 L46 387.2 L46.5 387.1 L47 386.9 L47.4 386.8 L47.9 386.7 L48.4 386.6 L48.9 386.4 L49.3 386.3 L49.8 386.2 L50.3 386.1 L50.8 385.9 L51.3 385.8 L51.7 385.7 L52.2 385.6 L52.7 385.6 L53.2 385.5 L53.6 385.4 L54.1 385.4 L54.6 385.3 L55.1 385.3 L55.5 385.3 L56 385.3 L56.5 385.3 L57 385.4 L57.4 385.4 L57.9 385.5 L58.4 385.5 L58.9 385.6 L59.3 385.7 L59.8 385.8 L60.3 385.9 L60.8 386 L61.2 386.2 L61.7 386.3 L62.2 386.4 L62.7 386.6 L63.2 386.7 L63.6 386.8 L64.1 387 L64.6 387.1 L65.1 387.2 L65.5 387.4 L66 387.5 L66.5 387.6 L67 387.7 L67.4 387.8 L67.9 387.9 L68.4 388 L68.9 388.1 L69.3 388.2 L69.8 388.3 L70.3 388.4 L70.8 388.4 L71.2 388.5 L71.7 388.6 L72.2 388.6 L72.7 388.7 L73.1 388.7 L73.6 388.8 L74.1 388.8 L74.6 388.8 L74.6 389 L71.7 388.9 L68.9 388.9 L66 388.8 L63.2 388.8 L60.3 388.7 L57.4 388.7 L54.6 388.7 L51.7 388.7 L48.9 388.7 L46 388.7 L43.2 388.6 L40.3 388.6 L37.5 388.6Z" fill="url(#pg1)" stroke="url(#pg1)" stroke-width="0.7"/>
<path d="M108.4 391.3 L108.8 391.3 L109.3 391.4 L109.8 391.4 L110.3 391.4 L110.7 391.5 L111.2 391.5 L111.7 391.5 L112.2 391.6 L112.6 391.6 L113.1 391.6 L113.6 391.7 L114.1 391.7 L114.6 391.7 L115 391.7 L115.5 391.7 L116 391.7 L116.5 391.7 L116.9 391.7 L117.4 391.7 L117.9 391.7 L118.4 391.6 L118.8 391.6 L119.3 391.6 L119.8 391.5 L120.3 391.5 L120.7 391.4 L121.2 391.3 L121.7 391.3 L122.2 391.2 L122.6 391.1 L123.1 391 L123.6 390.9 L124.1 390.8 L124.5 390.7 L125 390.6 L125.5 390.5 L126 390.3 L126.4 390.2 L126.9 390.1 L127.4 390 L127.9 389.8 L128.4 389.7 L128.8 389.6 L129.3 389.4 L129.8 389.3 L130.3 389.2 L130.7 389 L131.2 388.9 L131.7 388.8 L132.2 388.7 L132.6 388.6 L133.1 388.5 L133.6 388.4 L134.1 388.3 L134.5 388.2 L135 388.2 L135.5 388.1 L136 388.1 L136.4 388 L136.9 388 L137.4 388 L137.9 388 L138.3 388.1 L138.8 388.1 L139.3 388.1 L139.8 388.2 L140.3 388.3 L140.7 388.4 L141.2 388.5 L141.7 388.6 L142.2 388.7 L142.6 388.9 L143.1 389 L143.6 389.2 L144.1 389.4 L144.5 389.5 L145 389.7 L145.5 389.9 L146 390.1 L146.4 390.3 L146.9 390.5 L147.4 390.8 L147.9 391 L148.3 391.2 L148.8 391.4 L149.3 391.7 L149.8 391.9 L150.2 392.1 L150.7 392.3 L151.2 392.5 L151.7 392.7 L152.1 393 L152.6 393.2 L153.1 393.4 L153.6 393.6 L154.1 393.7 L154.5 393.9 L155 394.1 L155.5 394.3 L156 394.4 L156.4 394.6 L156.9 394.8 L157.4 394.9 L157.9 395 L158.3 395.2 L158.8 395.3 L159.3 395.4 L159.8 395.5 L160.2 395.6 L160.7 395.7 L161.2 395.8 L161.7 395.9 L162.1 396 L162.6 396 L163.1 396.1 L163.6 396.2 L164 396.2 L164.5 396.3 L165 396.3 L165.5 396.4 L166 396.4 L166.4 396.5 L166.9 396.5 L167.4 396.5 L167.9 396.6 L168.3 396.6 L168.8 396.6 L169.3 396.6 L169.3 396.8 L166.4 396.7 L163.6 396.7 L160.7 396.6 L157.9 396.5 L155 396.4 L152.1 396.3 L149.3 396.1 L146.4 396 L143.6 395.8 L140.7 395.6 L137.9 395.3 L135 395 L132.2 394.7 L129.3 394.3 L126.4 394 L123.6 393.6 L120.7 393.2 L117.9 392.7 L115 392.3 L112.2 391.9 L109.3 391.5Z" fill="url(#pg4)" stroke="url(#pg4)" stroke-width="0.7"/>
<path d="M36.5 387.8 L37.4 387.7 L38.3 387.5 L39.2 387.4 L40.1 387.2 L41 387.1 L41.9 387 L42.8 386.8 L43.7 386.7 L44.6 386.5 L45.4 386.4 L46.3 386.2 L47.2 386 L48.1 385.9 L49 385.7 L49.9 385.5 L50.8 385.3 L51.7 385.1 L52.6 384.9 L53.5 384.7 L54.4 384.4 L55.3 384.2 L56.2 384 L57.1 383.7 L58 383.5 L58.9 383.2 L59.8 382.9 L60.7 382.6 L61.6 382.2 L62.5 381.8 L63.3 381.5 L64.2 381.1 L65.1 380.6 L66 380.2 L66.9 379.8 L67.8 379.4 L68.7 378.9 L69.6 378.5 L70.5 378.1 L71.4 377.7 L72.3 377.3 L73.2 376.9 L74.1 376.5 L75 376 L75.9 375.6 L76.8 375.2 L77.7 374.7 L78.6 374.3 L79.5 373.8 L80.4 373.3 L81.2 372.9 L82.1 372.4 L83 371.8 L83.9 371.3 L84.8 370.8 L85.7 370.2 L86.6 369.5 L87.5 368.8 L88.4 368 L89.3 367 L90.2 365.7 L91.1 364.3 L92 362.9 L92.9 361.3 L93.8 359.4 L94.7 357.4 L95.6 355.5 L96.5 353.8 L97.4 352.2 L98.3 350.4 L99.1 347.9 L100 344.9 L100.9 341.6 L101.8 338.4 L102.7 335.3 L103.6 332.3 L104.5 329.2 L105.4 326.3 L106.3 323.4 L107.2 320.5 L108.1 317.8 L109 315.4 L109.9 313.3 L110.8 311.3 L111.7 309.5 L112.6 308.1 L113.5 307.1 L114.4 306.2 L115.3 305.4 L116.2 304.7 L117 304.4 L117.9 304.3 L118.8 304.6 L119.7 305.2 L120.6 306 L121.5 306.9 L122.4 307.9 L123.3 309.5 L124.2 311.5 L125.1 313.8 L126 316.2 L126.9 318.8 L127.8 321.7 L128.7 324.9 L129.6 328.4 L130.5 332.3 L131.4 336.6 L132.3 341 L133.2 345.2 L134.1 349.1 L134.9 352.5 L135.8 355.6 L136.7 358.5 L137.6 361.3 L138.5 364 L139.4 366.6 L140.3 369.1 L141.2 371.5 L142.1 373.6 L143 375.7 L143.9 377.6 L144.8 379.2 L145.7 380.7 L146.6 382 L147.5 383.1 L148.4 384.2 L149.3 385.2 L150.2 386.2 L151.1 387.1 L152 387.9 L152.8 388.7 L153.7 389.3 L154.6 390 L155.5 390.5 L156.4 391.1 L157.3 391.5 L158.2 392 L159.1 392.4 L160 392.9 L160.9 393.3 L161.8 393.6 L162.7 394 L163.6 394.3 L164.5 394.6 L165.4 394.9 L166.3 395.2 L167.2 395.4 L168.1 395.6 L169 395.9 L169.9 396 L170.7 396.2 L171.6 396.4 L172.5 396.5 L173.4 396.6 L174.3 396.6 L175.2 396.7 L176.1 396.8 L177 396.9 L177.9 396.9 L178.8 397" fill="none" stroke="#5a5a5a" stroke-width="0.65"/>
<path d="M36.5 388.6 L38.4 388.6 L40.3 388.6 L42.2 388.6 L44.1 388.6 L46 388.7 L47.9 388.7 L49.8 388.7 L51.7 388.7 L53.6 388.7 L55.5 388.7 L57.4 388.7 L59.3 388.7 L61.2 388.7 L63.2 388.8 L65.1 388.8 L67 388.8 L68.9 388.9 L70.8 388.9 L72.7 388.9 L74.6 389 L76.5 389 L78.4 389.1 L80.3 389.1 L82.2 389.2 L84.1 389.3 L86 389.4 L87.9 389.5 L89.8 389.6 L91.7 389.7 L93.6 389.9 L95.5 390 L97.4 390.2 L99.3 390.3 L101.2 390.5 L103.1 390.7 L105 391 L106.9 391.2 L108.8 391.5 L110.7 391.7 L112.6 392 L114.6 392.2 L116.5 392.5 L118.4 392.8 L120.3 393.1 L122.2 393.4 L124.1 393.6 L126 393.9 L127.9 394.2 L129.8 394.4 L131.7 394.6 L133.6 394.9 L135.5 395.1 L137.4 395.3 L139.3 395.4 L141.2 395.6 L143.1 395.7 L145 395.9 L146.9 396 L148.8 396.1 L150.7 396.2 L152.6 396.3 L154.5 396.4 L156.4 396.5 L158.3 396.5 L160.2 396.6 L162.1 396.6 L164 396.7 L166 396.7 L167.9 396.7 L169.8 396.8 L171.7 396.8 L173.6 396.8 L175.5 396.9 L177.4 396.9" fill="none" stroke="#707070" stroke-width="0.7"/>
<text x="68.7" y="301.7" font-size="7.5" text-anchor="start" font-family="Liberation Serif, serif" font-weight="bold" stroke="#161616" stroke-width="0.22" fill="#161616" >-N=,</text>
<text x="68.7" y="311.3" font-size="7.5" text-anchor="start" font-family="Liberation Serif, serif" font-weight="bold" stroke="#161616" stroke-width="0.22" fill="#161616" >399.44eV,</text>
<text x="68.7" y="319.3" font-size="7.5" text-anchor="start" font-family="Liberation Serif, serif" font-weight="bold" stroke="#161616" stroke-width="0.22" fill="#161616" >69.33%</text>
<text x="43.3" y="318.6" font-size="7.5" font-family="Liberation Serif, serif" font-weight="bold" stroke="#161616" stroke-width="0.22" fill="#161616">-N<tspan dy="-3" font-size="6">+</tspan><tspan dy="3">-,</tspan></text>
<text x="43.3" y="328.4" font-size="7.5" text-anchor="start" font-family="Liberation Serif, serif" font-weight="bold" stroke="#161616" stroke-width="0.22" fill="#161616" >400.88eV,</text>
<text x="43.3" y="336.9" font-size="7.5" text-anchor="start" font-family="Liberation Serif, serif" font-weight="bold" stroke="#161616" stroke-width="0.22" fill="#161616" >22.23%</text>
<text x="41" y="349.6" font-size="7.5" font-family="Liberation Serif, serif" font-weight="bold" stroke="#161616" stroke-width="0.22" fill="#161616">-N<tspan dy="-2.8" font-size="5">+</tspan><tspan dy="2.8">=,</tspan></text>
<text x="41" y="358.1" font-size="7.5" text-anchor="start" font-family="Liberation Serif, serif" font-weight="bold" stroke="#161616" stroke-width="0.22" fill="#161616" >402.86eV,</text>
<text x="41" y="367.2" font-size="7.5" text-anchor="start" font-family="Liberation Serif, serif" font-weight="bold" stroke="#161616" stroke-width="0.22" fill="#161616" >1.03%</text>
<text x="143.4" y="349" font-size="7.5" text-anchor="start" font-family="Liberation Serif, serif" font-weight="bold" stroke="#161616" stroke-width="0.22" fill="#161616" >-NH,</text>
<text x="143.4" y="357.4" font-size="7.5" text-anchor="start" font-family="Liberation Serif, serif" font-weight="bold" stroke="#161616" stroke-width="0.22" fill="#161616" >398.19eV,</text>
<text x="143.4" y="366.5" font-size="7.5" text-anchor="start" font-family="Liberation Serif, serif" font-weight="bold" stroke="#161616" stroke-width="0.22" fill="#161616" >7.41%</text>
<path d="M98.1 309.4L109.92 314.18" stroke="#222" stroke-width="0.6" fill="none"/>
<path d="M112.7 315.3L109.54 315.12L110.3 313.23Z" fill="#1a1a1a"/>
<path d="M65.7 337.5L84.34 368.24" stroke="#222" stroke-width="0.6" fill="none"/>
<path d="M85.9 370.8L83.47 368.76L85.22 367.71Z" fill="#1a1a1a"/>
<path d="M52 375.2L54.45 381.79" stroke="#222" stroke-width="0.6" fill="none"/>
<path d="M55.5 384.6L53.5 382.14L55.41 381.43Z" fill="#1a1a1a"/>
<path d="M153.9 370.2L145.54 384.22" stroke="#222" stroke-width="0.6" fill="none"/>
<path d="M144 386.8L144.66 383.7L146.41 384.75Z" fill="#1a1a1a"/>
<text x="107.5" y="429.6" font-size="7.5" text-anchor="middle" font-family="Liberation Serif, serif" font-weight="bold" stroke="#161616" stroke-width="0.22" fill="#161616" >Binding Energy (eV)</text>
<text transform="translate(29.4,353.8) rotate(-90)" font-size="7.55" text-anchor="middle" font-family="Liberation Serif, serif" font-weight="bold" stroke="#161616" stroke-width="0.22" fill="#161616">Counts per second</text>
<text y="305.3" font-size="12" fill="#161616"><tspan x="-4.09" dy="0.9" font-family="Liberation Serif, Noto Serif CJK SC, serif" font-size="11.76">（</tspan><tspan x="11.6" dy="-0.9" text-anchor="middle" font-family="Liberation Serif, serif" font-weight="bold" stroke="#161616" stroke-width="0.22">g</tspan><tspan x="15.77" dy="0.9" font-family="Liberation Serif, Noto Serif CJK SC, serif" font-size="11.76">）</tspan></text>
<rect x="213.5" y="294.4" width="144.8" height="116.6" fill="#fff" stroke="#262626" stroke-width="1.0"/>
<path d="M213.5 411v-2.4M234.19 411v-2.4M254.87 411v-2.4M275.56 411v-2.4M296.24 411v-2.4M316.93 411v-2.4M337.61 411v-2.4M358.3 411v-2.4M223.84 411v-1.4M244.53 411v-1.4M265.21 411v-1.4M285.9 411v-1.4M306.59 411v-1.4M327.27 411v-1.4M347.96 411v-1.4" stroke="#262626" stroke-width="0.8" fill="none"/>
<text x="213.5" y="419.7" font-size="7.2" text-anchor="middle" font-family="Liberation Serif, serif" font-weight="bold" stroke="#161616" stroke-width="0.22" fill="#161616" >5</text>
<text x="234.19" y="419.7" font-size="7.2" text-anchor="middle" font-family="Liberation Serif, serif" font-weight="bold" stroke="#161616" stroke-width="0.22" fill="#161616" >10</text>
<text x="254.87" y="419.7" font-size="7.2" text-anchor="middle" font-family="Liberation Serif, serif" font-weight="bold" stroke="#161616" stroke-width="0.22" fill="#161616" >15</text>
<text x="275.56" y="419.7" font-size="7.2" text-anchor="middle" font-family="Liberation Serif, serif" font-weight="bold" stroke="#161616" stroke-width="0.22" fill="#161616" >20</text>
<text x="296.24" y="419.7" font-size="7.2" text-anchor="middle" font-family="Liberation Serif, serif" font-weight="bold" stroke="#161616" stroke-width="0.22" fill="#161616" >25</text>
<text x="316.93" y="419.7" font-size="7.2" text-anchor="middle" font-family="Liberation Serif, serif" font-weight="bold" stroke="#161616" stroke-width="0.22" fill="#161616" >30</text>
<text x="337.61" y="419.7" font-size="7.2" text-anchor="middle" font-family="Liberation Serif, serif" font-weight="bold" stroke="#161616" stroke-width="0.22" fill="#161616" >35</text>
<text x="358.3" y="419.7" font-size="7.2" text-anchor="middle" font-family="Liberation Serif, serif" font-weight="bold" stroke="#161616" stroke-width="0.22" fill="#161616" >40</text>
<path d="M213.5 357.1 L214 356.8 L214.5 356.8 L215 356.6 L215.4 356.8 L215.9 356.8 L216.4 356.7 L216.9 356.8 L217.4 356.8 L217.9 356.6 L218.3 356.6 L218.8 356.6 L219.3 356.7 L219.8 356.7 L220.3 356.5 L220.8 356.4 L221.2 356.6 L221.7 356.7 L222.2 356.5 L222.7 356.4 L223.2 356.5 L223.7 356.4 L224.2 356.4 L224.6 356.5 L225.1 356.4 L225.6 356.3 L226.1 356.3 L226.6 356.1 L227.1 356.1 L227.5 356 L228 356 L228.5 355.9 L229 355.9 L229.5 355.9 L230 355.8 L230.4 355.8 L230.9 355.8 L231.4 355.8 L231.9 355.5 L232.4 355.7 L232.9 355.5 L233.4 355.3 L233.8 355.3 L234.3 355.3 L234.8 355.3 L235.3 355 L235.8 355.1 L236.3 355 L236.7 354.7 L237.2 354.7 L237.7 354.8 L238.2 354.7 L238.7 354.7 L239.2 354.5 L239.7 354.4 L240.1 354.3 L240.6 354.2 L241.1 353.9 L241.6 353.8 L242.1 353.8 L242.6 353.4 L243 353.5 L243.5 353.1 L244 353 L244.5 353 L245 352.5 L245.5 352.3 L245.9 352.1 L246.4 351.4 L246.9 351 L247.4 350.5 L247.9 349.9 L248.4 349.3 L248.9 348.7 L249.3 348.3 L249.8 347.8 L250.3 347.1 L250.8 346.4 L251.3 345.8 L251.8 345.1 L252.2 344.9 L252.7 344.3 L253.2 344.3 L253.7 344.2 L254.2 343.8 L254.7 343.7 L255.1 343.6 L255.6 343.6 L256.1 343.4 L256.6 343.4 L257.1 343.3 L257.6 343.4 L258.1 343.5 L258.5 343.3 L259 343.5 L259.5 343.5 L260 343.6 L260.5 343.4 L261 343.8 L261.4 343.8 L261.9 344.1 L262.4 344.2 L262.9 344.2 L263.4 344.5 L263.9 344.8 L264.3 345 L264.8 345.3 L265.3 345.8 L265.8 346.2 L266.3 346.2 L266.8 346.5 L267.3 346.1 L267.7 346 L268.2 346.2 L268.7 345.8 L269.2 345.7 L269.7 345.4 L270.2 345 L270.6 344.8 L271.1 344.1 L271.6 343.1 L272.1 342.4 L272.6 341.3 L273.1 340.5 L273.6 339.3 L274 338.5 L274.5 337.4 L275 336.5 L275.5 335.9 L276 335.3 L276.5 334.9 L276.9 334.9 L277.4 334.8 L277.9 334.3 L278.4 334 L278.9 333.7 L279.4 332.9 L279.8 331.7 L280.3 330.2 L280.8 328.6 L281.3 326.6 L281.8 324.7 L282.3 321.7 L282.8 318.3 L283.2 315.2 L283.7 312.9 L284.2 310.9 L284.7 309.7 L285.2 309.9 L285.7 311.1 L286.1 312.7 L286.6 314.4 L287.1 317.2 L287.6 320.5 L288.1 323.9 L288.6 327 L289 329.9 L289.5 332.7 L290 335 L290.5 336.8 L291 338.2 L291.5 339.3 L292 340.1 L292.4 340.7 L292.9 341.5 L293.4 342.1 L293.9 342.5 L294.4 342.9 L294.9 343.1 L295.3 343.5 L295.8 343.7 L296.3 344 L296.8 344.1 L297.3 344.3 L297.8 344.5 L298.2 344.9 L298.7 345.1 L299.2 345.3 L299.7 345.3 L300.2 345.7 L300.7 345.7 L301.2 346.1 L301.6 346.1 L302.1 346.2 L302.6 346.3 L303.1 346.3 L303.6 346.4 L304.1 346.6 L304.5 346.9 L305 346.7 L305.5 346.8 L306 346.9 L306.5 346.8 L307 346.9 L307.5 347.1 L307.9 347.2 L308.4 347.2 L308.9 347.5 L309.4 347.4 L309.9 347.5 L310.4 347.7 L310.8 347.8 L311.3 347.5 L311.8 347.7 L312.3 348 L312.8 347.8 L313.3 347.9 L313.7 347.9 L314.2 348 L314.7 348 L315.2 348.2 L315.7 348.4 L316.2 348.4 L316.7 348.3 L317.1 348.2 L317.6 348.4 L318.1 348.4 L318.6 348.5 L319.1 348.4 L319.6 348.3 L320 348.5 L320.5 348.3 L321 348.4 L321.5 348.5 L322 348.6 L322.5 348.7 L322.9 348.3 L323.4 348.6 L323.9 348.6 L324.4 348.5 L324.9 348.6 L325.4 348.5 L325.9 348.7 L326.3 348.7 L326.8 348.5 L327.3 348.5 L327.8 348.6 L328.3 348.5 L328.8 348.6 L329.2 348.4 L329.7 348.4 L330.2 348.2 L330.7 347.9 L331.2 347.7 L331.7 347.3 L332.1 346.8 L332.6 346.3 L333.1 345.9 L333.6 345.3 L334.1 345 L334.6 344.7 L335.1 344.6 L335.5 344.9 L336 345.6 L336.5 346.1 L337 346.4 L337.5 347.1 L338 347.8 L338.4 348.3 L338.9 348.8 L339.4 348.9 L339.9 349.2 L340.4 349.4 L340.9 349.3 L341.4 349.4 L341.8 349.5 L342.3 349.7 L342.8 349.7 L343.3 349.8 L343.8 349.9 L344.3 350 L344.7 350 L345.2 349.9 L345.7 349.9 L346.2 350.2 L346.7 350.2 L347.2 350.1 L347.6 350.2 L348.1 350.2 L348.6 350.1 L349.1 350.4 L349.6 350.3 L350.1 350.4 L350.6 350.5 L351 350.5 L351.5 350.6 L352 350.6 L352.5 350.6 L353 350.6 L353.5 350.8 L353.9 350.6 L354.4 350.8 L354.9 350.6 L355.4 350.8 L355.9 350.8 L356.4 350.7 L356.8 350.6 L357.3 351 L357.8 350.8 L358.3 350.8" fill="none" stroke="#14982a" stroke-width="1.5" stroke-linejoin="round"/>
<path d="M213.5 372.2 L214 372.1 L214.5 372.1 L215 371.9 L215.4 372.1 L215.9 371.8 L216.4 371.9 L216.9 371.9 L217.4 371.7 L217.9 372.1 L218.3 371.7 L218.8 371.7 L219.3 371.7 L219.8 371.5 L220.3 371.7 L220.8 371.5 L221.2 371.5 L221.7 371.3 L222.2 371.2 L222.7 371.4 L223.2 371.3 L223.7 371.2 L224.2 371.2 L224.6 371.1 L225.1 370.9 L225.6 370.7 L226.1 370.7 L226.6 370.6 L227.1 370.5 L227.5 370.6 L228 370.5 L228.5 370.5 L229 370.4 L229.5 370.3 L230 370.2 L230.4 370.2 L230.9 370 L231.4 369.9 L231.9 369.9 L232.4 369.7 L232.9 369.6 L233.4 369.6 L233.8 369.6 L234.3 369.4 L234.8 369.3 L235.3 369.1 L235.8 369.1 L236.3 369.2 L236.7 368.5 L237.2 368.8 L237.7 368.7 L238.2 368.6 L238.7 368.3 L239.2 368.5 L239.7 368.3 L240.1 368 L240.6 367.9 L241.1 367.7 L241.6 367.6 L242.1 367.5 L242.6 367.4 L243 367.2 L243.5 367 L244 366.9 L244.5 366.7 L245 366.4 L245.5 366 L245.9 366 L246.4 365.5 L246.9 365.2 L247.4 364.9 L247.9 364.6 L248.4 364.3 L248.9 363.7 L249.3 363.7 L249.8 363.3 L250.3 362.8 L250.8 362.4 L251.3 362 L251.8 361.7 L252.2 361.3 L252.7 361 L253.2 361 L253.7 360.9 L254.2 360.9 L254.7 360.5 L255.1 360.3 L255.6 360.5 L256.1 360.3 L256.6 360.3 L257.1 360.1 L257.6 360 L258.1 359.9 L258.5 360 L259 359.8 L259.5 359.6 L260 359.8 L260.5 359.5 L261 359.6 L261.4 359.7 L261.9 359.5 L262.4 359.5 L262.9 359.6 L263.4 359.6 L263.9 359.6 L264.3 359.5 L264.8 359.4 L265.3 359.4 L265.8 359.8 L266.3 359.3 L266.8 359.5 L267.3 359.2 L267.7 359.2 L268.2 359 L268.7 358.7 L269.2 358.4 L269.7 358 L270.2 357.9 L270.6 357.4 L271.1 356.9 L271.6 356.7 L272.1 356 L272.6 355.3 L273.1 354.7 L273.6 354.1 L274 353.7 L274.5 353.1 L275 352.5 L275.5 352.1 L276 351.9 L276.5 351.6 L276.9 351.5 L277.4 351.5 L277.9 351.4 L278.4 351 L278.9 350.5 L279.4 350.1 L279.8 349 L280.3 348 L280.8 347 L281.3 345.8 L281.8 344.5 L282.3 342.6 L282.8 341.3 L283.2 339.8 L283.7 338.7 L284.2 337.7 L284.7 337.3 L285.2 337.3 L285.7 337.8 L286.1 338.5 L286.6 339.7 L287.1 341.1 L287.6 342.9 L288.1 344.5 L288.6 345.8 L289 346.8 L289.5 347.6 L290 348.3 L290.5 349.2 L291 349.8 L291.5 350.2 L292 351.1 L292.4 351.4 L292.9 352 L293.4 352.7 L293.9 352.9 L294.4 353 L294.9 353.1 L295.3 353.3 L295.8 353.2 L296.3 353.5 L296.8 353.5 L297.3 353.8 L297.8 353.9 L298.2 354.1 L298.7 354.6 L299.2 355 L299.7 355.2 L300.2 355.6 L300.7 356.1 L301.2 356.6 L301.6 357 L302.1 357.3 L302.6 357.4 L303.1 357.8 L303.6 358.1 L304.1 358.4 L304.5 358.4 L305 358.7 L305.5 358.9 L306 358.9 L306.5 359.2 L307 359.4 L307.5 359.6 L307.9 359.8 L308.4 359.9 L308.9 360.2 L309.4 360.2 L309.9 360.3 L310.4 360.6 L310.8 360.6 L311.3 360.9 L311.8 360.9 L312.3 361.2 L312.8 361.1 L313.3 361.2 L313.7 361.5 L314.2 361.7 L314.7 361.6 L315.2 362 L315.7 362.1 L316.2 362.1 L316.7 362.1 L317.1 362 L317.6 362.2 L318.1 362.3 L318.6 362.6 L319.1 362.6 L319.6 362.7 L320 362.9 L320.5 362.8 L321 363.1 L321.5 363.1 L322 363.4 L322.5 363.4 L322.9 363.4 L323.4 363.5 L323.9 363.5 L324.4 363.8 L324.9 363.7 L325.4 363.9 L325.9 364 L326.3 364 L326.8 364 L327.3 364.3 L327.8 364.1 L328.3 364.1 L328.8 363.9 L329.2 363.7 L329.7 363.7 L330.2 363.5 L330.7 363.2 L331.2 363.4 L331.7 363.1 L332.1 362.6 L332.6 362.5 L333.1 362 L333.6 361.6 L334.1 361.3 L334.6 361.2 L335.1 361.1 L335.5 361.3 L336 361.7 L336.5 362 L337 362.4 L337.5 363.1 L338 363.7 L338.4 364.3 L338.9 364.3 L339.4 364.6 L339.9 364.6 L340.4 364.7 L340.9 364.8 L341.4 364.9 L341.8 365 L342.3 365.1 L342.8 365.1 L343.3 365 L343.8 365.1 L344.3 365.4 L344.7 365.3 L345.2 365.1 L345.7 365.5 L346.2 365.7 L346.7 365.6 L347.2 365.6 L347.6 365.6 L348.1 365.7 L348.6 365.7 L349.1 365.7 L349.6 365.9 L350.1 365.8 L350.6 365.9 L351 365.7 L351.5 365.8 L352 365.8 L352.5 366 L353 365.9 L353.5 365.9 L353.9 365.9 L354.4 366 L354.9 366.1 L355.4 366 L355.9 366.2 L356.4 366.1 L356.8 366.1 L357.3 366.2 L357.8 366.3 L358.3 365.9" fill="none" stroke="#f2443e" stroke-width="1.5" stroke-linejoin="round"/>
<path d="M213.5 391.3 L214 391.4 L214.5 391.2 L215 391.1 L215.4 391.1 L215.9 390.9 L216.4 390.9 L216.9 390.7 L217.4 390.6 L217.9 390.2 L218.3 389.9 L218.8 388.9 L219.3 390.1 L219.8 390.1 L220.3 390.1 L220.8 389.9 L221.2 389.8 L221.7 389.9 L222.2 389.6 L222.7 389.4 L223.2 389.1 L223.7 389.2 L224.2 389 L224.6 388.6 L225.1 388.5 L225.6 388.3 L226.1 388 L226.6 388 L227.1 388 L227.5 387.5 L228 387.6 L228.5 387.6 L229 387.3 L229.5 387.3 L230 387.3 L230.4 387.4 L230.9 387.4 L231.4 387.3 L231.9 387.5 L232.4 387.6 L232.9 387.6 L233.4 387.7 L233.8 387.6 L234.3 387.6 L234.8 387.8 L235.3 387.6 L235.8 387.5 L236.3 387.6 L236.7 387.6 L237.2 387.7 L237.7 387.6 L238.2 387.6 L238.7 387.5 L239.2 387.4 L239.7 387.4 L240.1 387.3 L240.6 386.9 L241.1 386.7 L241.6 386.5 L242.1 386.2 L242.6 385.9 L243 385.7 L243.5 385.4 L244 385.2 L244.5 385.1 L245 384.9 L245.5 384.5 L245.9 384.1 L246.4 384 L246.9 383.8 L247.4 383.2 L247.9 383 L248.4 382.8 L248.9 382.6 L249.3 382.2 L249.8 382.1 L250.3 381.7 L250.8 381.6 L251.3 381.2 L251.8 381 L252.2 380.9 L252.7 380.6 L253.2 380.5 L253.7 380.5 L254.2 380.4 L254.7 380.2 L255.1 379.9 L255.6 380.1 L256.1 380 L256.6 379.8 L257.1 379.6 L257.6 379.8 L258.1 379.8 L258.5 379.6 L259 379.5 L259.5 379.2 L260 379.2 L260.5 379 L261 378.8 L261.4 378.8 L261.9 378.6 L262.4 378.4 L262.9 378.2 L263.4 378.1 L263.9 377.9 L264.3 377.8 L264.8 377.4 L265.3 377.3 L265.8 376.9 L266.3 376.8 L266.8 376.5 L267.3 376 L267.7 375.9 L268.2 375.7 L268.7 375.3 L269.2 374.8 L269.7 374.4 L270.2 374.1 L270.6 373.7 L271.1 373.4 L271.6 372.9 L272.1 372.6 L272.6 372.1 L273.1 371.6 L273.6 371.2 L274 370.9 L274.5 370.7 L275 370.3 L275.5 370.2 L276 369.7 L276.5 369.8 L276.9 369.7 L277.4 369.9 L277.9 370 L278.4 370.1 L278.9 370.1 L279.4 370.3 L279.8 370.5 L280.3 370.9 L280.8 371 L281.3 371.2 L281.8 371.4 L282.3 371.2 L282.8 371.2 L283.2 371.1 L283.7 371.2 L284.2 371.3 L284.7 371.1 L285.2 371.2 L285.7 371.2 L286.1 371.2 L286.6 371 L287.1 371 L287.6 370.9 L288.1 370.8 L288.6 371 L289 370.6 L289.5 370.5 L290 370.4 L290.5 370.2 L291 370 L291.5 369.5 L292 369 L292.4 368.5 L292.9 367.9 L293.4 367.2 L293.9 366.3 L294.4 365.4 L294.9 364.5 L295.3 363.4 L295.8 362.7 L296.3 362.1 L296.8 361.2 L297.3 360.8 L297.8 360.7 L298.2 360.7 L298.7 361.3 L299.2 361.7 L299.7 362.2 L300.2 363 L300.7 363.7 L301.2 364.5 L301.6 365.1 L302.1 365.8 L302.6 366.5 L303.1 367.2 L303.6 367.8 L304.1 368.2 L304.5 368.8 L305 369.2 L305.5 369.7 L306 370.1 L306.5 370.6 L307 370.9 L307.5 371 L307.9 371.5 L308.4 371.8 L308.9 372.2 L309.4 372.4 L309.9 372.8 L310.4 373 L310.8 373.2 L311.3 373.4 L311.8 373.7 L312.3 373.9 L312.8 374.5 L313.3 374.5 L313.7 374.5 L314.2 374.7 L314.7 375.1 L315.2 375.2 L315.7 375.3 L316.2 375.5 L316.7 375.9 L317.1 376 L317.6 376.3 L318.1 376.4 L318.6 376.7 L319.1 376.6 L319.6 377 L320 377 L320.5 377.2 L321 377.5 L321.5 377.4 L322 377.7 L322.5 377.8 L322.9 378.1 L323.4 378 L323.9 378.3 L324.4 378.5 L324.9 378.6 L325.4 378.7 L325.9 378.8 L326.3 378.8 L326.8 379.1 L327.3 379.1 L327.8 379.5 L328.3 379.7 L328.8 379.6 L329.2 380 L329.7 380 L330.2 380.1 L330.7 380.3 L331.2 380.6 L331.7 380.7 L332.1 380.8 L332.6 381.1 L333.1 381.2 L333.6 381.3 L334.1 381.4 L334.6 381.7 L335.1 381.9 L335.5 381.9 L336 382.1 L336.5 382.2 L337 382.4 L337.5 382.5 L338 382.9 L338.4 382.9 L338.9 383.1 L339.4 383.1 L339.9 383.5 L340.4 383.5 L340.9 383.4 L341.4 383.8 L341.8 383.8 L342.3 383.8 L342.8 384 L343.3 384 L343.8 384.3 L344.3 384.4 L344.7 384.2 L345.2 384.5 L345.7 384.7 L346.2 384.4 L346.7 384.9 L347.2 384.9 L347.6 385 L348.1 385.1 L348.6 385 L349.1 385 L349.6 385.2 L350.1 385.2 L350.6 385.3 L351 385.1 L351.5 385.3 L352 385.7 L352.5 385.5 L353 385.6 L353.5 385.6 L353.9 385.6 L354.4 385.7 L354.9 385.8 L355.4 385.7 L355.9 385.8 L356.4 385.9 L356.8 385.8 L357.3 385.8 L357.8 386.1 L358.3 386.1" fill="none" stroke="#1676de" stroke-width="1.5" stroke-linejoin="round"/>
<path d="M253.22 336.4V388.6M260.25 333.6V388.6M285.07 304.8V391.6M297.07 331.4V381.2M335.13 339.6V388.6" stroke="#1c1c1c" stroke-width="1.35" stroke-linecap="round" stroke-dasharray="0.1 5.1" fill="none"/>
<text x="250.2" y="395.2" font-size="6.8" text-anchor="middle" font-family="Liberation Serif, serif" font-weight="bold" stroke="#161616" stroke-width="0.22" fill="#161616" >14.6°</text>
<text x="266.8" y="395.2" font-size="6.8" text-anchor="middle" font-family="Liberation Serif, serif" font-weight="bold" stroke="#161616" stroke-width="0.22" fill="#161616" >16.3°</text>
<text x="286.2" y="398.2" font-size="6.8" text-anchor="middle" font-family="Liberation Serif, serif" font-weight="bold" stroke="#161616" stroke-width="0.22" fill="#161616" >22.3°</text>
<text x="299.6" y="387.5" font-size="6.8" text-anchor="middle" font-family="Liberation Serif, serif" font-weight="bold" stroke="#161616" stroke-width="0.22" fill="#161616" >25.2°</text>
<text x="338.3" y="394.4" font-size="6.8" text-anchor="middle" font-family="Liberation Serif, serif" font-weight="bold" stroke="#161616" stroke-width="0.22" fill="#161616" >34.4°</text>
<text x="302.8" y="345.7" font-size="6.9" text-anchor="start" font-family="Liberation Serif, serif" font-weight="bold" stroke="#161616" stroke-width="0.22" fill="#161616" >Cellulose</text>
<text x="300.9" y="356.8" font-size="6.2" text-anchor="start" font-family="Liberation Serif, serif" font-weight="bold" stroke="#161616" stroke-width="0.22" fill="#161616" >PANI-Cellulose</text>
<text x="312.4" y="371.2" font-size="7.1" text-anchor="start" font-family="Liberation Serif, serif" font-weight="bold" stroke="#161616" stroke-width="0.22" fill="#161616" >PANI</text>
<text y="432.7" font-size="7.8" fill="#161616"><tspan x="261.5" font-family="Liberation Serif, serif" font-weight="bold" stroke="#161616" stroke-width="0.22">2θ</tspan><tspan x="269.49" font-family="Liberation Serif, Noto Serif CJK SC, serif" font-weight="600" font-size="7.6">（</tspan><tspan x="278.3" font-family="Liberation Serif, serif" font-weight="bold" stroke="#161616" stroke-width="0.22" textLength="23.2" lengthAdjust="spacingAndGlyphs">degree</tspan><tspan x="302.51" font-family="Liberation Serif, Noto Serif CJK SC, serif" font-weight="600" font-size="7.6">）</tspan></text>
<text transform="translate(208,352.8) rotate(-90)" font-size="8.0" text-anchor="middle" font-family="Liberation Serif, serif" font-weight="bold" stroke="#161616" stroke-width="0.22" fill="#161616">Intensity</text>
<text y="306.4" font-size="12" fill="#161616"><tspan x="178.21" dy="0.9" font-family="Liberation Serif, Noto Serif CJK SC, serif" font-size="11.76">（</tspan><tspan x="194.4" dy="-0.9" text-anchor="middle" font-family="Liberation Serif, serif" font-weight="bold" stroke="#161616" stroke-width="0.22">h</tspan><tspan x="199.47" dy="0.9" font-family="Liberation Serif, Noto Serif CJK SC, serif" font-size="11.76">）</tspan></text>
<rect x="395.6" y="294.6" width="143.2" height="115.5" fill="#fff" stroke="#262626" stroke-width="1.0"/>
<path d="M395.6 410.1v-2.4M416.06 410.1v-2.4M436.51 410.1v-2.4M456.97 410.1v-2.4M477.43 410.1v-2.4M497.89 410.1v-2.4M518.34 410.1v-2.4M538.8 410.1v-2.4M405.83 410.1v-1.4M426.29 410.1v-1.4M446.74 410.1v-1.4M467.2 410.1v-1.4M487.66 410.1v-1.4M508.11 410.1v-1.4M528.57 410.1v-1.4" stroke="#262626" stroke-width="0.8" fill="none"/>
<text x="395.6" y="418.6" font-size="7.4" text-anchor="middle" font-family="Liberation Serif, serif" font-weight="bold" stroke="#161616" stroke-width="0.22" fill="#161616" >4000</text>
<text x="416.06" y="418.6" font-size="7.4" text-anchor="middle" font-family="Liberation Serif, serif" font-weight="bold" stroke="#161616" stroke-width="0.22" fill="#161616" >3500</text>
<text x="436.51" y="418.6" font-size="7.4" text-anchor="middle" font-family="Liberation Serif, serif" font-weight="bold" stroke="#161616" stroke-width="0.22" fill="#161616" >3000</text>
<text x="456.97" y="418.6" font-size="7.4" text-anchor="middle" font-family="Liberation Serif, serif" font-weight="bold" stroke="#161616" stroke-width="0.22" fill="#161616" >2500</text>
<text x="477.43" y="418.6" font-size="7.4" text-anchor="middle" font-family="Liberation Serif, serif" font-weight="bold" stroke="#161616" stroke-width="0.22" fill="#161616" >2000</text>
<text x="497.89" y="418.6" font-size="7.4" text-anchor="middle" font-family="Liberation Serif, serif" font-weight="bold" stroke="#161616" stroke-width="0.22" fill="#161616" >1500</text>
<text x="518.34" y="418.6" font-size="7.4" text-anchor="middle" font-family="Liberation Serif, serif" font-weight="bold" stroke="#161616" stroke-width="0.22" fill="#161616" >1000</text>
<text x="538.8" y="418.6" font-size="7.4" text-anchor="middle" font-family="Liberation Serif, serif" font-weight="bold" stroke="#161616" stroke-width="0.22" fill="#161616" >500</text>
<path d="M395.6 318.2 L396 318.2 L396.4 318.5 L396.8 317.8 L397.2 318.4 L397.6 317.7 L398 318.1 L398.4 318.1 L398.8 318.5 L399.2 318.2 L399.6 318 L400 318.6 L400.4 318.7 L400.8 318 L401.2 318.4 L401.6 318.1 L402 318.2 L402.4 318.3 L402.8 317.8 L403.2 318.2 L403.6 317.9 L404 317.9 L404.4 318.1 L404.8 317.6 L405.2 317.8 L405.6 318.3 L406 318.4 L406.4 318.5 L406.8 318.1 L407.2 318.4 L407.6 318.7 L408 318.6 L408.4 317.8 L408.8 317.7 L409.2 318.4 L409.6 318.7 L410 318.3 L410.4 318.6 L410.8 318.4 L411.2 318.4 L411.6 318.5 L412 318.5 L412.4 318.3 L412.8 319 L413.2 318.7 L413.5 318.3 L413.9 318.4 L414.3 318.2 L414.7 318.7 L415.1 318.1 L415.5 318.5 L415.9 318.8 L416.3 318.8 L416.7 318.8 L417.1 318.3 L417.5 318.9 L417.9 318.7 L418.3 319.1 L418.7 318.7 L419.1 319.3 L419.5 318.9 L419.9 319.1 L420.3 318.7 L420.7 318.8 L421.1 318.8 L421.5 319.3 L421.9 318.9 L422.3 319 L422.7 319.4 L423.1 319.3 L423.5 319.1 L423.9 319.3 L424.3 318.8 L424.7 318.8 L425.1 319.4 L425.5 320.2 L425.9 320 L426.3 320.2 L426.7 319.6 L427.1 319.4 L427.5 319.9 L427.9 319.2 L428.3 318.8 L428.7 319.8 L429.1 320 L429.5 320 L429.9 320.3 L430.3 320.1 L430.7 320 L431.1 319.6 L431.5 319.9 L431.9 319.6 L432.3 319.9 L432.7 320.7 L433.1 320.2 L433.5 320.3 L433.9 320 L434.3 321.1 L434.7 319.7 L435.1 320.1 L435.5 320.7 L435.9 320.2 L436.3 320.3 L436.7 320.7 L437.1 320.8 L437.5 320.8 L437.9 320.4 L438.3 320.9 L438.7 320.4 L439.1 320.5 L439.5 320.5 L439.9 320.9 L440.3 320.7 L440.7 320.5 L441.1 320.8 L441.5 320.5 L441.9 320.6 L442.3 320.7 L442.7 320.6 L443.1 320.4 L443.5 320.4 L443.9 321 L444.3 320.1 L444.7 320.7 L445.1 320.4 L445.5 320.4 L445.9 320 L446.3 320.5 L446.7 320.3 L447.1 320.8 L447.5 320.2 L447.9 320 L448.3 320 L448.7 320.6 L449.1 320.4 L449.4 320.1 L449.8 320.7 L450.2 320.2 L450.6 320 L451 320.2 L451.4 319.7 L451.8 320 L452.2 319.6 L452.6 320.1 L453 320.1 L453.4 319.9 L453.8 320.2 L454.2 319.7 L454.6 320 L455 319.8 L455.4 319.5 L455.8 320 L456.2 320.3 L456.6 320.7 L457 319.8 L457.4 319.9 L457.8 320.2 L458.2 319.4 L458.6 320.1 L459 319.1 L459.4 319.3 L459.8 319.5 L460.2 319.4 L460.6 319.8 L461 318.8 L461.4 318.5 L461.8 318 L462.2 318.2 L462.6 318.9 L463 319.6 L463.4 319.5 L463.8 319.5 L464.2 319.4 L464.6 318.9 L465 318.7 L465.4 319.3 L465.8 318.8 L466.2 318.9 L466.6 319.1 L467 318.9 L467.4 318.7 L467.8 318.6 L468.2 318.8 L468.6 319.1 L469 318.1 L469.4 318.4 L469.8 318.7 L470.2 318.4 L470.6 318.1 L471 318.2 L471.4 318.3 L471.8 318.4 L472.2 317.5 L472.6 317.6 L473 317.9 L473.4 317.9 L473.8 317.7 L474.2 317.7 L474.6 317.7 L475 317.5 L475.4 318 L475.8 317 L476.2 317 L476.6 316.5 L477 317 L477.4 316.8 L477.8 316.6 L478.2 316.2 L478.6 317 L479 316.4 L479.4 316.4 L479.8 315.7 L480.2 316 L480.6 316 L481 316.2 L481.4 315.7 L481.8 315.7 L482.2 314.8 L482.6 315 L483 314.9 L483.4 314.7 L483.8 314.4 L484.2 314.2 L484.6 314.5 L485 313.7 L485.3 313.8 L485.7 313.5 L486.1 312.9 L486.5 312.8 L486.9 311.7 L487.3 311.9 L487.7 312 L488.1 311.1 L488.5 310.2 L488.9 310.7 L489.3 309.6 L489.7 309.9 L490.1 309.1 L490.5 308.2 L490.9 307.9 L491.3 308.1 L491.7 307.5 L492.1 308 L492.5 309.8 L492.9 311.5 L493.3 313.6 L493.7 316.4 L494.1 319.1 L494.5 320.5 L494.9 321.8 L495.3 321 L495.7 318.7 L496.1 318.6 L496.5 318.3 L496.9 317.8 L497.3 319.7 L497.7 321.6 L498.1 323.3 L498.5 325.6 L498.9 326.7 L499.3 325.8 L499.7 323.7 L500.1 321.2 L500.5 319.8 L500.9 318.3 L501.3 316.9 L501.7 316.1 L502.1 316.1 L502.5 316.7 L502.9 316.6 L503.3 318 L503.7 318.4 L504.1 320.9 L504.5 322.4 L504.9 324.3 L505.3 326.6 L505.7 328.9 L506.1 329.4 L506.5 328.1 L506.9 326.5 L507.3 324.3 L507.7 322.1 L508.1 320.5 L508.5 317.2 L508.9 315.6 L509.3 313.4 L509.7 312.3 L510.1 312.2 L510.5 311.9 L510.9 314.1 L511.3 316.8 L511.7 320.5 L512.1 324.8 L512.5 328 L512.9 331.8 L513.3 334.4 L513.7 335.6 L514.1 334.9 L514.5 334.1 L514.9 332.8 L515.3 331.4 L515.7 330.3 L516.1 329.7 L516.5 328.2 L516.9 327 L517.3 326.2 L517.7 325.4 L518.1 324.6 L518.5 323.4 L518.9 322.7 L519.3 322.2 L519.7 321.1 L520.1 320.9 L520.5 320.1 L520.9 319.2 L521.2 319.2 L521.6 318.4 L522 318.6 L522.4 317.7 L522.8 317.8 L523.2 317.7 L523.6 316.8 L524 316.4 L524.4 316 L524.8 316.3 L525.2 317.1 L525.6 318.3 L526 318.9 L526.4 319.5 L526.8 321.4 L527.2 321.4 L527.6 321.9 L528 321.2 L528.4 320.4 L528.8 319.4 L529.2 319.7 L529.6 319.1 L530 318.9 L530.4 319 L530.8 318.4 L531.2 318.8 L531.6 318.8 L532 318.8 L532.4 318.3 L532.8 318.3 L533.2 318.7 L533.6 318.6 L534 317.7 L534.4 318.3 L534.8 318.3 L535.2 317.7 L535.6 318.1 L536 317.6 L536.4 317.5 L536.8 317.1 L537.2 317.7 L537.6 316.8 L538 316 L538.4 316.4 L538.8 316.5" fill="none" stroke="#f4141e" stroke-width="1.6" stroke-linejoin="round"/>
<path d="M395.6 333.6 L396 333.1 L396.4 333.9 L396.8 333.4 L397.2 333.3 L397.6 333.2 L398 333.7 L398.4 333.1 L398.8 333.6 L399.2 333.2 L399.6 333.3 L400 333.2 L400.4 333.5 L400.8 333.5 L401.2 332.9 L401.6 333.5 L402 333.4 L402.4 333.5 L402.8 333.6 L403.2 332.7 L403.6 333.7 L404 332.6 L404.4 332.9 L404.8 333.2 L405.2 333.4 L405.6 333.3 L406 333.2 L406.4 333.2 L406.8 332.7 L407.2 333 L407.6 333.8 L408 332.3 L408.4 332.9 L408.8 333 L409.2 332.7 L409.6 333 L410 333 L410.4 333 L410.8 333.1 L411.2 333 L411.6 333.7 L412 333.5 L412.4 333.6 L412.8 334.8 L413.2 334.2 L413.5 334.5 L413.9 334.3 L414.3 335.4 L414.7 335.4 L415.1 335.9 L415.5 336.8 L415.9 337.1 L416.3 337.1 L416.7 337.7 L417.1 338 L417.5 338.1 L417.9 338.1 L418.3 338.7 L418.7 338.1 L419.1 338.7 L419.5 338.6 L419.9 338.2 L420.3 338.2 L420.7 339.3 L421.1 337.9 L421.5 338.5 L421.9 338.3 L422.3 338.5 L422.7 338.4 L423.1 338.6 L423.5 338.5 L423.9 338.2 L424.3 337.7 L424.7 338 L425.1 338.2 L425.5 338.1 L425.9 338.3 L426.3 337.8 L426.7 337.4 L427.1 337.6 L427.5 337.7 L427.9 337.9 L428.3 337.9 L428.7 337.7 L429.1 337.1 L429.5 337.3 L429.9 337.5 L430.3 337.4 L430.7 337.5 L431.1 336.8 L431.5 337.3 L431.9 336.3 L432.3 336.9 L432.7 337 L433.1 336.8 L433.5 337.1 L433.9 336.7 L434.3 336.8 L434.7 336.9 L435.1 336.4 L435.5 337 L435.9 336.3 L436.3 336.6 L436.7 336.5 L437.1 336.2 L437.5 336.3 L437.9 336.3 L438.3 336 L438.7 336.8 L439.1 335.7 L439.5 336 L439.9 336.3 L440.3 336.1 L440.7 336.2 L441.1 335.4 L441.5 335.7 L441.9 335.8 L442.3 336.1 L442.7 335.4 L443.1 335.6 L443.5 336.2 L443.9 335.7 L444.3 335.7 L444.7 335.5 L445.1 335.9 L445.5 334.9 L445.9 335.2 L446.3 335.3 L446.7 335.5 L447.1 335.4 L447.5 334.7 L447.9 335.4 L448.3 335.1 L448.7 336.2 L449.1 335.2 L449.4 335.6 L449.8 335.1 L450.2 335.2 L450.6 335 L451 335.4 L451.4 335.6 L451.8 334.8 L452.2 335.3 L452.6 335.3 L453 335.5 L453.4 334.9 L453.8 335.5 L454.2 334.7 L454.6 335.1 L455 334.9 L455.4 334.9 L455.8 335.3 L456.2 335.2 L456.6 335.8 L457 334.9 L457.4 334.7 L457.8 335.3 L458.2 335 L458.6 334.8 L459 335.3 L459.4 335.3 L459.8 334.4 L460.2 334.7 L460.6 335.2 L461 334.6 L461.4 335.3 L461.8 334.7 L462.2 334.9 L462.6 334.8 L463 334.4 L463.4 334.7 L463.8 334.5 L464.2 334.6 L464.6 335 L465 334.9 L465.4 334.6 L465.8 334.7 L466.2 335.1 L466.6 334.6 L467 334.5 L467.4 334.8 L467.8 334.4 L468.2 334.2 L468.6 335.1 L469 334.1 L469.4 334.5 L469.8 334.6 L470.2 334.3 L470.6 335 L471 335 L471.4 334.5 L471.8 333.9 L472.2 334.4 L472.6 333.7 L473 334.4 L473.4 334.5 L473.8 334.3 L474.2 334.5 L474.6 334.1 L475 333.7 L475.4 333.8 L475.8 334.3 L476.2 333.2 L476.6 333.9 L477 333.4 L477.4 334.4 L477.8 333.2 L478.2 332.9 L478.6 333.8 L479 333.8 L479.4 333.2 L479.8 333.3 L480.2 332.9 L480.6 333.2 L481 333.5 L481.4 333.3 L481.8 333.2 L482.2 333 L482.6 333.5 L483 333.7 L483.4 333.5 L483.8 332.6 L484.2 333.1 L484.6 332.7 L485 332.8 L485.3 333 L485.7 333.7 L486.1 332.9 L486.5 332.8 L486.9 332.5 L487.3 332.8 L487.7 332.1 L488.1 332.7 L488.5 332.7 L488.9 331.9 L489.3 332.6 L489.7 332.6 L490.1 331.5 L490.5 331.8 L490.9 331.3 L491.3 331.1 L491.7 331.5 L492.1 331.5 L492.5 331.6 L492.9 332.1 L493.3 333 L493.7 332.9 L494.1 333.4 L494.5 334 L494.9 334.2 L495.3 334.5 L495.7 335.1 L496.1 334.1 L496.5 335 L496.9 334.2 L497.3 334.8 L497.7 335.4 L498.1 336.2 L498.5 335.2 L498.9 336.5 L499.3 335.8 L499.7 335.6 L500.1 335.3 L500.5 335.3 L500.9 335.1 L501.3 334 L501.7 333.4 L502.1 333.3 L502.5 333.1 L502.9 333.6 L503.3 334.9 L503.7 334.4 L504.1 335 L504.5 335.7 L504.9 336.2 L505.3 336.6 L505.7 336.8 L506.1 337 L506.5 337.4 L506.9 336.8 L507.3 336 L507.7 335.2 L508.1 335 L508.5 334.5 L508.9 333.6 L509.3 333 L509.7 333.1 L510.1 332.6 L510.5 332.8 L510.9 333.8 L511.3 334.7 L511.7 335.5 L512.1 337.3 L512.5 337.9 L512.9 339 L513.3 340.4 L513.7 341.5 L514.1 341.7 L514.5 341.3 L514.9 342 L515.3 342.5 L515.7 342.5 L516.1 342.6 L516.5 341.8 L516.9 341 L517.3 340.9 L517.7 340 L518.1 340.1 L518.5 338.9 L518.9 339.5 L519.3 338.6 L519.7 338.6 L520.1 337.9 L520.5 337.2 L520.9 337.2 L521.2 336.9 L521.6 336.6 L522 336.2 L522.4 336 L522.8 335.4 L523.2 334.7 L523.6 334.8 L524 334.3 L524.4 334.4 L524.8 334.1 L525.2 334 L525.6 333.6 L526 333.8 L526.4 333.8 L526.8 333.9 L527.2 333.9 L527.6 334.3 L528 334.6 L528.4 334.6 L528.8 334.1 L529.2 334.7 L529.6 335.6 L530 334.6 L530.4 335.4 L530.8 335.3 L531.2 336.1 L531.6 335.9 L532 335.8 L532.4 335.9 L532.8 335.4 L533.2 336.6 L533.6 336.3 L534 335.8 L534.4 336 L534.8 336.4 L535.2 336.1 L535.6 336.1 L536 336.7 L536.4 336.5 L536.8 336.8 L537.2 337.1 L537.6 336.6 L538 337.5 L538.4 337.4 L538.8 336.9" fill="none" stroke="#1428f4" stroke-width="1.6" stroke-linejoin="round"/>
<path d="M395.6 341.5 L396 341.5 L396.4 341.4 L396.8 342.1 L397.2 342.2 L397.6 341.9 L398 342.3 L398.4 342.3 L398.8 342.5 L399.2 343.7 L399.6 343.4 L400 344 L400.4 344.3 L400.8 344.6 L401.2 344.7 L401.6 345.2 L402 346.2 L402.4 347 L402.8 346.7 L403.2 347.6 L403.6 348.5 L404 349.6 L404.4 350.2 L404.8 351.1 L405.2 351.8 L405.6 352.3 L406 353.6 L406.4 355 L406.8 355.8 L407.2 356.5 L407.6 358.6 L408 359.8 L408.4 361.5 L408.8 363.5 L409.2 364.5 L409.6 366.3 L410 367.6 L410.4 370.4 L410.8 372.8 L411.2 375 L411.6 377.4 L412 380 L412.4 381.9 L412.8 383.6 L413.2 385.1 L413.5 386.7 L413.9 388.5 L414.3 389.5 L414.7 390.6 L415.1 391.7 L415.5 392.7 L415.9 393.5 L416.3 394.4 L416.7 395.1 L417.1 395.6 L417.5 395.9 L417.9 397.2 L418.3 397.1 L418.7 397.7 L419.1 398.3 L419.5 398.1 L419.9 397.7 L420.3 398.2 L420.7 397.9 L421.1 397.8 L421.5 398.2 L421.9 398 L422.3 398.7 L422.7 397.3 L423.1 397.6 L423.5 397.5 L423.9 397.6 L424.3 396.8 L424.7 397 L425.1 396.1 L425.5 395.4 L425.9 395 L426.3 394.5 L426.7 393.8 L427.1 392.8 L427.5 391.9 L427.9 391.1 L428.3 389.9 L428.7 389 L429.1 386.9 L429.5 385.5 L429.9 384.9 L430.3 382.8 L430.7 381.2 L431.1 379.2 L431.5 377.9 L431.9 376.3 L432.3 374.6 L432.7 373.3 L433.1 371.1 L433.5 369.9 L433.9 368 L434.3 367.4 L434.7 365.6 L435.1 365.4 L435.5 363.6 L435.9 364.3 L436.3 363.9 L436.7 364.5 L437.1 366 L437.5 367.1 L437.9 368.6 L438.3 370.6 L438.7 372.4 L439.1 374.8 L439.5 376.8 L439.9 377.8 L440.3 379.5 L440.7 380.1 L441.1 378.2 L441.5 377.6 L441.9 376 L442.3 374.1 L442.7 372.5 L443.1 369.9 L443.5 368.3 L443.9 366.9 L444.3 365.1 L444.7 363.9 L445.1 362.4 L445.5 362.6 L445.9 361.8 L446.3 360.4 L446.7 360 L447.1 359.4 L447.5 359.3 L447.9 357.9 L448.3 358.1 L448.7 356.8 L449.1 357.2 L449.4 356.4 L449.8 356.6 L450.2 356 L450.6 355.3 L451 354.8 L451.4 354.3 L451.8 354.8 L452.2 354.3 L452.6 353.5 L453 352.9 L453.4 353.1 L453.8 352.7 L454.2 352.2 L454.6 352.1 L455 352 L455.4 351.4 L455.8 351.3 L456.2 350.8 L456.6 350.6 L457 350.1 L457.4 350.2 L457.8 349.8 L458.2 349.4 L458.6 349.3 L459 349 L459.4 348.8 L459.8 348.8 L460.2 348.7 L460.6 347.6 L461 347.7 L461.4 347.1 L461.8 346.5 L462.2 347.2 L462.6 347.5 L463 347.4 L463.4 347 L463.8 346.9 L464.2 347.2 L464.6 347.5 L465 346.7 L465.4 346 L465.8 346.8 L466.2 346.4 L466.6 346.6 L467 345.9 L467.4 346.3 L467.8 346.1 L468.2 345.5 L468.6 345.7 L469 345.7 L469.4 345.4 L469.8 345.9 L470.2 345.3 L470.6 345.6 L471 345.2 L471.4 345.4 L471.8 345.3 L472.2 344.4 L472.6 344.8 L473 345 L473.4 344.5 L473.8 344.9 L474.2 344.7 L474.6 344 L475 344.1 L475.4 344.1 L475.8 343.5 L476.2 344 L476.6 343.6 L477 343.2 L477.4 342.7 L477.8 342.4 L478.2 342.2 L478.6 342.4 L479 341.6 L479.4 341.9 L479.8 342.2 L480.2 340.9 L480.6 341 L481 341.5 L481.4 341.2 L481.8 340.8 L482.2 341 L482.6 341 L483 341.2 L483.4 340.8 L483.8 341 L484.2 341.1 L484.6 341.4 L485 341.3 L485.3 341.1 L485.7 341.3 L486.1 342.3 L486.5 342.1 L486.9 342.7 L487.3 343.1 L487.7 343.6 L488.1 344.5 L488.5 344.8 L488.9 345.9 L489.3 346.8 L489.7 348 L490.1 349.7 L490.5 352.4 L490.9 355 L491.3 357.1 L491.7 358.7 L492.1 358.1 L492.5 356 L492.9 354.1 L493.3 352.6 L493.7 350.2 L494.1 348.5 L494.5 348.4 L494.9 348.6 L495.3 348.7 L495.7 348.7 L496.1 349.6 L496.5 350 L496.9 351.2 L497.3 354.5 L497.7 357.5 L498.1 360.8 L498.5 365.5 L498.9 368.6 L499.3 369.8 L499.7 372.6 L500.1 373.8 L500.5 374.2 L500.9 373.7 L501.3 372.6 L501.7 371.2 L502.1 370.1 L502.5 369.6 L502.9 369.3 L503.3 368.4 L503.7 369.4 L504.1 370.5 L504.5 371.5 L504.9 372.6 L505.3 372.6 L505.7 370.8 L506.1 369 L506.5 367.6 L506.9 366.1 L507.3 366.2 L507.7 366.3 L508.1 367 L508.5 368 L508.9 369.2 L509.3 371.2 L509.7 373.2 L510.1 376 L510.5 379.7 L510.9 382.3 L511.3 385.4 L511.7 387.1 L512.1 388.7 L512.5 389.6 L512.9 391.5 L513.3 392.7 L513.7 393.9 L514.1 395.7 L514.5 396.9 L514.9 398.5 L515.3 400.1 L515.7 400 L516.1 401 L516.5 399.7 L516.9 398.1 L517.3 396.5 L517.7 394.1 L518.1 391.5 L518.5 389.8 L518.9 387.2 L519.3 384.6 L519.7 381.3 L520.1 376.9 L520.5 372 L520.9 368.4 L521.2 364.6 L521.6 361.1 L522 358 L522.4 354.9 L522.8 352.3 L523.2 349.6 L523.6 347.3 L524 345 L524.4 342.9 L524.8 341 L525.2 341.2 L525.6 341.5 L526 342.3 L526.4 342.6 L526.8 344.2 L527.2 344.7 L527.6 345.9 L528 347.8 L528.4 349.9 L528.8 352.6 L529.2 355.2 L529.6 358.2 L530 360.8 L530.4 363 L530.8 364.4 L531.2 366.6 L531.6 367.8 L532 369.4 L532.4 371.1 L532.8 372.2 L533.2 373.4 L533.6 372.5 L534 371.6 L534.4 370.8 L534.8 370.3 L535.2 368.7 L535.6 368.1 L536 366.9 L536.4 366.2 L536.8 364.7 L537.2 364.1 L537.6 363.5 L538 362.1 L538.4 361.7 L538.8 360.2" fill="none" stroke="#109a24" stroke-width="1.6" stroke-linejoin="round"/>
<path d="M498.6 309.4V392.6" stroke="#222" stroke-width="1" stroke-dasharray="4.6 2.6" fill="none"/>
<text x="493.7" y="307.3" font-size="7.4" text-anchor="start" font-family="Liberation Serif, serif" font-weight="bold" stroke="#161616" stroke-width="0.22" fill="#161616" >C=C</text>
<text x="441.4" y="316.3" font-size="7.6" text-anchor="start" font-family="Liberation Serif, serif" font-weight="bold" stroke="#161616" stroke-width="0.22" fill="#161616" >PANI</text>
<text x="429.9" y="330.2" font-size="7.55" text-anchor="start" font-family="Liberation Serif, serif" font-weight="bold" stroke="#161616" stroke-width="0.22" fill="#161616" >PANI-Cellulose</text>
<text x="456.9" y="358.8" font-size="7.45" text-anchor="start" font-family="Liberation Serif, serif" font-weight="bold" stroke="#161616" stroke-width="0.22" fill="#161616" >Cellulose</text>
<text x="463.9" y="430.4" font-size="7.65" text-anchor="middle" font-family="Liberation Serif, serif" font-weight="bold" stroke="#161616" stroke-width="0.22" fill="#161616">Wavenumber (cm<tspan dy="-2.8" font-size="5">-1</tspan><tspan dy="2.8">)</tspan></text>
<text transform="translate(390.2,351.7) rotate(-90)" font-size="7.6" text-anchor="middle" font-family="Liberation Serif, serif" font-weight="bold" stroke="#161616" stroke-width="0.22" fill="#161616">Transmittance</text>
<text y="307.2" font-size="12" fill="#161616"><tspan x="364.81" dy="0.9" font-family="Liberation Serif, Noto Serif CJK SC, serif" font-size="11.76">（</tspan><tspan x="379.4" dy="-0.9" text-anchor="middle" font-family="Liberation Serif, serif" font-weight="bold" stroke="#161616" stroke-width="0.22">i</tspan><tspan x="382.17" dy="0.9" font-family="Liberation Serif, Noto Serif CJK SC, serif" font-size="11.76">）</tspan></text>
<text y="16.6" font-size="12" fill="#161616"><tspan x="-2.89" dy="0.9" font-family="Liberation Serif, Noto Serif CJK SC, serif" font-size="11.76">（</tspan><tspan x="13.4" dy="-0.9" text-anchor="middle" font-family="Liberation Serif, serif" font-weight="bold" stroke="#161616" stroke-width="0.22">a</tspan><tspan x="17.67" dy="0.9" font-family="Liberation Serif, Noto Serif CJK SC, serif" font-size="11.76">）</tspan></text>
<text y="15.1" font-size="12" fill="#161616"><tspan x="178.61" dy="0.9" font-family="Liberation Serif, Noto Serif CJK SC, serif" font-size="11.76">（</tspan><tspan x="194.8" dy="-0.9" text-anchor="middle" font-family="Liberation Serif, serif" font-weight="bold" stroke="#161616" stroke-width="0.22">b</tspan><tspan x="199.17" dy="0.9" font-family="Liberation Serif, Noto Serif CJK SC, serif" font-size="11.76">）</tspan></text>
<text y="16.7" font-size="12" fill="#161616"><tspan x="366.61" dy="0.9" font-family="Liberation Serif, Noto Serif CJK SC, serif" font-size="11.76">（</tspan><tspan x="382.6" dy="-0.9" text-anchor="middle" font-family="Liberation Serif, serif" font-weight="bold" stroke="#161616" stroke-width="0.22">c</tspan><tspan x="386.27" dy="0.9" font-family="Liberation Serif, Noto Serif CJK SC, serif" font-size="11.76">）</tspan></text>
<text y="155.5" font-size="12" fill="#161616"><tspan x="-4.59" dy="0.9" font-family="Liberation Serif, Noto Serif CJK SC, serif" font-size="11.76">（</tspan><tspan x="12" dy="-0.9" text-anchor="middle" font-family="Liberation Serif, serif" font-weight="bold" stroke="#161616" stroke-width="0.22">d</tspan><tspan x="16.67" dy="0.9" font-family="Liberation Serif, Noto Serif CJK SC, serif" font-size="11.76">）</tspan></text>
<!--END-->
</svg>
</body></html>
